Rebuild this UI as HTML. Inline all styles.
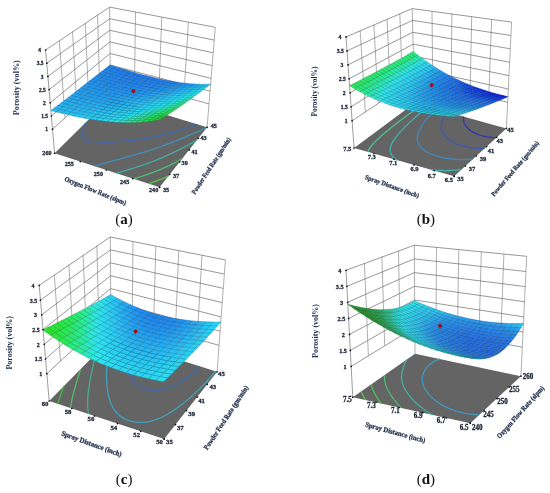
<!DOCTYPE html><html><head><meta charset="utf-8"><style>html,body{margin:0;padding:0;background:#fff}svg{display:block}</style></head><body>
<svg width="550" height="493" viewBox="0 0 550 493">
<rect width="550" height="493" fill="#fff"/>
<path d="M65.0 117.8L59.3 40.6M76.9 106.9L72.5 31.6M88.5 96.4L85.3 23.0M99.6 86.4L97.6 14.9M134.5 83.4L135.5 12.0M159.0 90.1L161.8 17.0M183.9 97.0L188.4 22.1M110.5 97.9L109.6 7.1M207.1 127.3L215.3 27.3" stroke="#a6a6a6" stroke-width="0.9" fill="none"/>
<path d="M52.5 129.2L110.3 76.7M110.3 76.7L209.0 103.9M51.4 116.0L110.2 65.1M110.2 65.1L210.1 91.2M50.2 102.8L110.1 53.5M110.1 53.5L211.1 78.4M49.1 89.6L110.0 41.9M110.0 41.9L212.2 65.6M47.9 76.4L109.8 30.3M109.8 30.3L213.2 52.8M46.8 63.2L109.7 18.7M109.7 18.7L214.2 40.1M45.6 50.0L109.6 7.1M109.6 7.1L215.3 27.3" stroke="#6c6c6c" stroke-width="0.7" fill="none"/>
<path d="M54.6 153.3L45.6 50.0" stroke="#8c8c8c" stroke-width="0.85"/>
<polygon points="159.6,187.3 54.6,153.3 110.5,97.9 207.1,127.3" fill="#646464"/>
<polyline points="84.5,123.6 84.4,124.4 84.3,125.0 84.1,126.1 83.9,126.7 83.7,127.6 83.6,128.4 83.5,129.0 83.2,130.2 83.1,130.8 83.0,131.6 82.9,132.5 82.8,133.1 82.7,134.1 82.7,135.0 82.8,135.6 82.9,136.3 83.1,137.0 83.5,137.7 84.3,138.6 85.2,139.3 86.5,140.0 87.5,140.3 88.6,140.6 90.1,141.0 92.0,141.3 93.0,141.4 95.0,141.6 96.0,141.7 98.1,141.8 99.1,141.9 100.7,141.9 102.3,142.0 103.4,142.0 104.9,142.0 106.6,142.0 107.7,142.0 108.8,142.0 110.7,141.9 112.2,141.9 113.3,141.9 114.4,141.8 116.0,141.7 117.7,141.6 119.0,141.6 120.1,141.5 121.3,141.4 122.5,141.3 124.1,141.2 125.7,141.0 127.2,140.9 128.3,140.8 129.5,140.7 130.7,140.5 131.9,140.4 133.1,140.2 134.4,140.1 135.8,139.9 137.2,139.7 138.5,139.5 139.8,139.3 141.2,139.1 142.5,138.9 143.7,138.7 145.0,138.5 146.3,138.3 147.5,138.1 148.7,137.9 149.9,137.6 151.1,137.4 152.3,137.2 153.5,136.9 154.7,136.7 155.8,136.4 157.0,136.2 158.3,135.9 159.6,135.6 160.9,135.3 162.3,135.0 163.6,134.7 164.6,134.4 165.7,134.2 166.7,133.9 167.8,133.6 169.0,133.3 170.3,133.0 171.7,132.6 172.9,132.3 173.9,132.0 174.9,131.7 175.8,131.4 177.2,131.0 178.6,130.6 179.7,130.3 180.6,130.0 181.6,129.7 182.7,129.3 184.1,128.9 185.3,128.5 186.2,128.2 187.1,128.0 188.4,127.5 189.8,127.1 190.7,126.8 191.6,126.5 192.7,126.1 194.1,125.6 195.1,125.3 195.9,125.0 197.0,124.6 197.6,124.4" fill="none" stroke="#3a6ab8" stroke-width="1.3"/>
<polyline points="94.4,166.2 95.5,165.8 97.0,165.4 98.6,164.9 99.9,164.5 101.0,164.2 102.1,163.9 103.2,163.6 104.7,163.1 106.2,162.7 107.6,162.3 108.7,162.0 109.8,161.7 110.9,161.4 112.2,161.0 113.7,160.6 115.1,160.2 116.5,159.9 117.6,159.6 118.7,159.3 119.8,159.0 121.0,158.6 122.5,158.2 123.9,157.8 125.3,157.5 126.4,157.2 127.5,156.9 128.6,156.6 129.8,156.2 131.2,155.8 132.7,155.4 134.0,155.0 135.1,154.7 136.1,154.4 137.2,154.1 138.5,153.7 140.0,153.3 141.3,152.9 142.4,152.6 143.4,152.3 144.4,152.0 145.9,151.5 147.4,151.0 148.4,150.7 149.4,150.4 150.4,150.1 151.9,149.6 153.3,149.1 154.3,148.8 155.2,148.5 156.4,148.1 157.9,147.6 159.0,147.2 159.9,146.9 161.0,146.5 162.5,145.9 163.6,145.5 164.5,145.2 165.6,144.8 167.2,144.2 168.1,143.9 169.0,143.6 170.3,143.1 171.6,142.5 172.4,142.2 173.4,141.8 175.0,141.2 175.8,140.9 176.7,140.5 178.2,139.9 179.2,139.5 180.0,139.2 181.4,138.6 182.5,138.2 183.3,137.8 184.6,137.3 185.7,136.8 186.5,136.4 187.8,135.9 188.9,135.4 189.6,135.1 191.0,134.5 192.0,134.0 192.8,133.7 194.3,133.0 195.1,132.7 195.9,132.3 197.3,131.7 198.1,131.3 199.1,130.8 200.3,130.3 201.1,129.9 202.4,129.3 203.3,128.9 204.1,128.6 205.5,127.9 206.3,127.5 207.0,127.2" fill="none" stroke="#4090c0" stroke-width="1.3"/>
<polyline points="116.2,173.2 117.3,172.9 118.8,172.5 120.3,172.1 121.8,171.6 122.9,171.3 124.0,171.0 125.1,170.7 126.4,170.3 127.9,169.8 129.4,169.4 130.5,169.0 131.6,168.7 132.6,168.4 134.0,168.0 135.5,167.5 136.8,167.0 137.8,166.7 138.9,166.4 140.1,166.0 141.7,165.4 142.9,165.0 143.9,164.7 144.8,164.3 146.4,163.8 147.7,163.3 148.7,162.9 149.6,162.6 151.2,162.0 152.4,161.5 153.4,161.2 154.4,160.8 156.0,160.1 157.0,159.8 157.9,159.4 159.3,158.8 160.5,158.3 161.4,157.9 162.7,157.4 163.9,156.8 164.8,156.5 166.1,155.9 167.3,155.4 168.1,155.0 169.5,154.3 170.5,153.9 171.3,153.5 172.9,152.8 173.7,152.4 174.8,151.8 176.0,151.3 176.8,150.9 178.3,150.1 179.0,149.7 180.2,149.1 181.3,148.6 182.0,148.2 183.5,147.5 184.2,147.1 185.6,146.3 186.4,145.9 187.5,145.3 188.5,144.8 189.4,144.3 190.6,143.6 191.3,143.3 192.7,142.5 193.4,142.1 194.8,141.4 195.4,141.0 196.8,140.2 196.9,140.2" fill="none" stroke="#40b0a0" stroke-width="1.3"/>
<polyline points="133.5,178.8 134.7,178.5 135.8,178.2 136.9,177.9 138.2,177.4 139.8,176.9 141.1,176.5 142.2,176.2 143.2,175.8 144.4,175.4 146.0,174.9 147.3,174.4 148.3,174.1 149.3,173.7 150.7,173.2 152.3,172.7 153.2,172.3 154.2,171.9 155.5,171.4 157.0,170.8 157.9,170.5 158.8,170.1 160.5,169.4 161.5,169.0 162.4,168.6 163.9,167.9 164.9,167.5 165.8,167.1 167.4,166.4 168.3,165.9 169.1,165.5 170.7,164.8 171.5,164.4 172.8,163.7 173.9,163.2 174.6,162.8 176.2,162.0 176.9,161.6 178.4,160.8 179.1,160.4 180.3,159.7 181.3,159.2 182.3,158.6 182.3,158.6" fill="none" stroke="#50c070" stroke-width="1.3"/>
<polyline points="148.4,183.7 149.5,183.3 150.6,183.0 152.1,182.4 153.7,181.9 154.7,181.6 155.7,181.2 156.8,180.8 158.4,180.2 159.6,179.7 160.6,179.4 161.7,179.0 163.3,178.3 164.4,177.9 165.3,177.5 166.7,176.9 167.9,176.3 168.4,176.2" fill="none" stroke="#50d040" stroke-width="1.3"/>
<polygon points="112.5,68.8 107.4,67.2 110.2,65.0 115.3,66.7" fill="#1e83ee" stroke="#14559b" stroke-width="0.4"/>
<polygon points="117.7,70.4 112.5,68.8 115.3,66.7 120.5,68.3" fill="#1e80ee" stroke="#14539b" stroke-width="0.4"/>
<polygon points="122.9,72.0 117.7,70.4 120.5,68.3 125.6,69.8" fill="#1e7eee" stroke="#14529b" stroke-width="0.4"/>
<polygon points="109.7,71.0 104.5,69.4 107.4,67.2 112.5,68.8" fill="#1e85ef" stroke="#14569b" stroke-width="0.4"/>
<polygon points="128.0,73.5 122.9,72.0 125.6,69.8 130.8,71.4" fill="#1e7ded" stroke="#14519a" stroke-width="0.4"/>
<polygon points="114.9,72.6 109.7,71.0 112.5,68.8 117.7,70.4" fill="#1e83ee" stroke="#14559b" stroke-width="0.4"/>
<polygon points="133.3,75.0 128.0,73.5 130.8,71.4 136.0,72.9" fill="#1e7bed" stroke="#14509a" stroke-width="0.4"/>
<polygon points="120.1,74.2 114.9,72.6 117.7,70.4 122.9,72.0" fill="#1e81ee" stroke="#14549b" stroke-width="0.4"/>
<polygon points="106.8,73.2 101.6,71.6 104.5,69.4 109.7,71.0" fill="#1e87ef" stroke="#14589b" stroke-width="0.4"/>
<polygon points="138.5,76.5 133.3,75.0 136.0,72.9 141.2,74.4" fill="#1e7aed" stroke="#144f9a" stroke-width="0.4"/>
<polygon points="125.3,75.7 120.1,74.2 122.9,72.0 128.0,73.5" fill="#1e7fee" stroke="#14539b" stroke-width="0.4"/>
<polygon points="112.0,74.8 106.8,73.2 109.7,71.0 114.9,72.6" fill="#1e85ef" stroke="#14579b" stroke-width="0.4"/>
<polygon points="143.7,77.9 138.5,76.5 141.2,74.4 146.4,75.8" fill="#1e7aed" stroke="#144f9a" stroke-width="0.4"/>
<polygon points="130.5,77.2 125.3,75.7 128.0,73.5 133.3,75.0" fill="#1e7eee" stroke="#14529a" stroke-width="0.4"/>
<polygon points="117.2,76.4 112.0,74.8 114.9,72.6 120.1,74.2" fill="#1e83ef" stroke="#14559b" stroke-width="0.4"/>
<polygon points="103.9,75.5 98.6,73.9 101.6,71.6 106.8,73.2" fill="#1e89f0" stroke="#14599c" stroke-width="0.4"/>
<polygon points="135.7,78.6 130.5,77.2 133.3,75.0 138.5,76.5" fill="#1e7dee" stroke="#14519a" stroke-width="0.4"/>
<polygon points="148.9,79.2 143.7,77.9 146.4,75.8 151.6,77.1" fill="#1e7aed" stroke="#144f9a" stroke-width="0.4"/>
<polygon points="122.5,77.9 117.2,76.4 120.1,74.2 125.3,75.7" fill="#1e82ee" stroke="#14549b" stroke-width="0.4"/>
<polygon points="109.1,77.0 103.9,75.5 106.8,73.2 112.0,74.8" fill="#1e88ef" stroke="#14589c" stroke-width="0.4"/>
<polygon points="141.0,80.0 135.7,78.6 138.5,76.5 143.7,77.9" fill="#1e7ded" stroke="#14519a" stroke-width="0.4"/>
<polygon points="127.7,79.4 122.5,77.9 125.3,75.7 130.5,77.2" fill="#1e81ee" stroke="#14549b" stroke-width="0.4"/>
<polygon points="154.2,80.4 148.9,79.2 151.6,77.1 156.8,78.4" fill="#1e7aed" stroke="#144f9a" stroke-width="0.4"/>
<polygon points="114.4,78.6 109.1,77.0 112.0,74.8 117.2,76.4" fill="#1e86ef" stroke="#14579b" stroke-width="0.4"/>
<polygon points="100.9,77.7 95.7,76.1 98.6,73.9 103.9,75.5" fill="#1e8bf0" stroke="#145b9c" stroke-width="0.4"/>
<polygon points="133.0,80.8 127.7,79.4 130.5,77.2 135.7,78.6" fill="#1e80ee" stroke="#14539b" stroke-width="0.4"/>
<polygon points="146.3,81.3 141.0,80.0 143.7,77.9 148.9,79.2" fill="#1e7ded" stroke="#14519a" stroke-width="0.4"/>
<polygon points="119.6,80.1 114.4,78.6 117.2,76.4 122.5,77.9" fill="#1e85ef" stroke="#14569b" stroke-width="0.4"/>
<polygon points="106.2,79.3 100.9,77.7 103.9,75.5 109.1,77.0" fill="#1e8af0" stroke="#145a9c" stroke-width="0.4"/>
<polygon points="159.5,81.6 154.2,80.4 156.8,78.4 162.1,79.5" fill="#1e7ced" stroke="#14509a" stroke-width="0.4"/>
<polygon points="124.9,81.6 119.6,80.1 122.5,77.9 127.7,79.4" fill="#1e84ef" stroke="#14569b" stroke-width="0.4"/>
<polygon points="138.2,82.2 133.0,80.8 135.7,78.6 141.0,80.0" fill="#1e80ee" stroke="#14539b" stroke-width="0.4"/>
<polygon points="111.5,80.9 106.2,79.3 109.1,77.0 114.4,78.6" fill="#1e88ef" stroke="#14599c" stroke-width="0.4"/>
<polygon points="151.5,82.5 146.3,81.3 148.9,79.2 154.2,80.4" fill="#1e7eee" stroke="#14529a" stroke-width="0.4"/>
<polygon points="98.0,80.1 92.7,78.5 95.7,76.1 100.9,77.7" fill="#1e8ef0" stroke="#145c9c" stroke-width="0.4"/>
<polygon points="164.8,82.6 159.5,81.6 162.1,79.5 167.4,80.6" fill="#1e7eee" stroke="#14529a" stroke-width="0.4"/>
<polygon points="130.2,83.0 124.9,81.6 127.7,79.4 133.0,80.8" fill="#1e83ef" stroke="#14559b" stroke-width="0.4"/>
<polygon points="116.7,82.4 111.5,80.9 114.4,78.6 119.6,80.1" fill="#1e87ef" stroke="#14589b" stroke-width="0.4"/>
<polygon points="143.5,83.5 138.2,82.2 141.0,80.0 146.3,81.3" fill="#1e80ee" stroke="#14539b" stroke-width="0.4"/>
<polygon points="103.2,81.6 98.0,80.1 100.9,77.7 106.2,79.3" fill="#1e8cf0" stroke="#145b9c" stroke-width="0.4"/>
<polygon points="156.8,83.7 151.5,82.5 154.2,80.4 159.5,81.6" fill="#1e80ee" stroke="#14539b" stroke-width="0.4"/>
<polygon points="170.1,83.6 164.8,82.6 167.4,80.6 172.7,81.5" fill="#1e81ee" stroke="#14549b" stroke-width="0.4"/>
<polygon points="122.0,83.8 116.7,82.4 119.6,80.1 124.9,81.6" fill="#1e86ef" stroke="#14579b" stroke-width="0.4"/>
<polygon points="135.5,84.4 130.2,83.0 133.0,80.8 138.2,82.2" fill="#1e83ef" stroke="#14559b" stroke-width="0.4"/>
<polygon points="108.5,83.2 103.2,81.6 106.2,79.3 111.5,80.9" fill="#1e8bf0" stroke="#145a9c" stroke-width="0.4"/>
<polygon points="95.0,82.4 89.7,80.8 92.7,78.5 98.0,80.1" fill="#1f91f0" stroke="#145e9c" stroke-width="0.4"/>
<polygon points="148.9,84.7 143.5,83.5 146.3,81.3 151.5,82.5" fill="#1e81ee" stroke="#14549b" stroke-width="0.4"/>
<polygon points="162.2,84.7 156.8,83.7 159.5,81.6 164.8,82.6" fill="#1e82ee" stroke="#14559b" stroke-width="0.4"/>
<polygon points="175.5,84.4 170.1,83.6 172.7,81.5 178.0,82.4" fill="#1e85ef" stroke="#14579b" stroke-width="0.4"/>
<polygon points="113.8,84.7 108.5,83.2 111.5,80.9 116.7,82.4" fill="#1e8af0" stroke="#14599c" stroke-width="0.4"/>
<polygon points="127.4,85.2 122.0,83.8 124.9,81.6 130.2,83.0" fill="#1e86ef" stroke="#14579b" stroke-width="0.4"/>
<polygon points="100.3,84.0 95.0,82.4 98.0,80.1 103.2,81.6" fill="#1e8ff0" stroke="#145d9c" stroke-width="0.4"/>
<polygon points="140.8,85.6 135.5,84.4 138.2,82.2 143.5,83.5" fill="#1e84ef" stroke="#14569b" stroke-width="0.4"/>
<polygon points="154.2,85.8 148.9,84.7 151.5,82.5 156.8,83.7" fill="#1e83ef" stroke="#14559b" stroke-width="0.4"/>
<polygon points="167.5,85.6 162.2,84.7 164.8,82.6 170.1,83.6" fill="#1e85ef" stroke="#14579b" stroke-width="0.4"/>
<polygon points="180.8,85.0 175.5,84.4 178.0,82.4 183.4,83.1" fill="#1e8af0" stroke="#145a9c" stroke-width="0.4"/>
<polygon points="119.2,86.1 113.8,84.7 116.7,82.4 122.0,83.8" fill="#1e89ef" stroke="#14599c" stroke-width="0.4"/>
<polygon points="105.6,85.5 100.3,84.0 103.2,81.6 108.5,83.2" fill="#1e8df0" stroke="#145c9c" stroke-width="0.4"/>
<polygon points="91.9,84.8 86.6,83.2 89.7,80.8 95.0,82.4" fill="#1f94f1" stroke="#14609c" stroke-width="0.4"/>
<polygon points="132.7,86.6 127.4,85.2 130.2,83.0 135.5,84.4" fill="#1e86ef" stroke="#14579b" stroke-width="0.4"/>
<polygon points="146.1,86.8 140.8,85.6 143.5,83.5 148.9,84.7" fill="#1e85ef" stroke="#14569b" stroke-width="0.4"/>
<polygon points="159.5,86.8 154.2,85.8 156.8,83.7 162.2,84.7" fill="#1e86ef" stroke="#14579b" stroke-width="0.4"/>
<polygon points="172.9,86.4 167.5,85.6 170.1,83.6 175.5,84.4" fill="#1e8af0" stroke="#14599c" stroke-width="0.4"/>
<polygon points="186.3,85.6 180.8,85.0 183.4,83.1 188.8,83.6" fill="#1f93f0" stroke="#145f9c" stroke-width="0.4"/>
<polygon points="110.9,87.0 105.6,85.5 108.5,83.2 113.8,84.7" fill="#1e8cf0" stroke="#145b9c" stroke-width="0.4"/>
<polygon points="97.3,86.3 91.9,84.8 95.0,82.4 100.3,84.0" fill="#1f92f0" stroke="#145f9c" stroke-width="0.4"/>
<polygon points="124.5,87.5 119.2,86.1 122.0,83.8 127.4,85.2" fill="#1e89ef" stroke="#14599c" stroke-width="0.4"/>
<polygon points="138.0,87.8 132.7,86.6 135.5,84.4 140.8,85.6" fill="#1e87ef" stroke="#14589b" stroke-width="0.4"/>
<polygon points="151.5,87.9 146.1,86.8 148.9,84.7 154.2,85.8" fill="#1e87ef" stroke="#14589b" stroke-width="0.4"/>
<polygon points="164.9,87.7 159.5,86.8 162.2,84.7 167.5,85.6" fill="#1e8af0" stroke="#14599c" stroke-width="0.4"/>
<polygon points="178.3,87.0 172.9,86.4 175.5,84.4 180.8,85.0" fill="#1f91f0" stroke="#145e9c" stroke-width="0.4"/>
<polygon points="102.6,87.8 97.3,86.3 100.3,84.0 105.6,85.5" fill="#1f91f0" stroke="#145e9c" stroke-width="0.4"/>
<polygon points="116.3,88.4 110.9,87.0 113.8,84.7 119.2,86.1" fill="#1e8cf0" stroke="#145b9c" stroke-width="0.4"/>
<polygon points="88.9,87.2 83.5,85.6 86.6,83.2 91.9,84.8" fill="#2097f1" stroke="#15629c" stroke-width="0.4"/>
<polygon points="129.9,88.8 124.5,87.5 127.4,85.2 132.7,86.6" fill="#1e89f0" stroke="#14599c" stroke-width="0.4"/>
<polygon points="143.4,89.0 138.0,87.8 140.8,85.6 146.1,86.8" fill="#1e88ef" stroke="#14599c" stroke-width="0.4"/>
<polygon points="191.7,85.9 186.3,85.6 188.8,83.6 194.2,84.0" fill="#219ef1" stroke="#15679d" stroke-width="0.4"/>
<polygon points="156.9,88.9 151.5,87.9 154.2,85.8 159.5,86.8" fill="#1e8af0" stroke="#145a9c" stroke-width="0.4"/>
<polygon points="170.3,88.4 164.9,87.7 167.5,85.6 172.9,86.4" fill="#1f8ff0" stroke="#145d9c" stroke-width="0.4"/>
<polygon points="183.7,87.5 178.3,87.0 180.8,85.0 186.3,85.6" fill="#209af1" stroke="#15649d" stroke-width="0.4"/>
<polygon points="94.2,88.7 88.9,87.2 91.9,84.8 97.3,86.3" fill="#2095f1" stroke="#14619c" stroke-width="0.4"/>
<polygon points="108.0,89.3 102.6,87.8 105.6,85.5 110.9,87.0" fill="#1f90f0" stroke="#145d9c" stroke-width="0.4"/>
<polygon points="121.6,89.8 116.3,88.4 119.2,86.1 124.5,87.5" fill="#1e8cf0" stroke="#145b9c" stroke-width="0.4"/>
<polygon points="135.2,90.1 129.9,88.8 132.7,86.6 138.0,87.8" fill="#1e8af0" stroke="#145a9c" stroke-width="0.4"/>
<polygon points="148.8,90.1 143.4,89.0 146.1,86.8 151.5,87.9" fill="#1e8bf0" stroke="#145a9c" stroke-width="0.4"/>
<polygon points="197.2,86.1 191.7,85.9 194.2,84.0 199.6,84.2" fill="#23abf2" stroke="#176f9d" stroke-width="0.4"/>
<polygon points="162.3,89.8 156.9,88.9 159.5,86.8 164.9,87.7" fill="#1e8ff0" stroke="#145d9c" stroke-width="0.4"/>
<polygon points="175.7,89.0 170.3,88.4 172.9,86.4 178.3,87.0" fill="#2098f1" stroke="#15629c" stroke-width="0.4"/>
<polygon points="99.6,90.2 94.2,88.7 97.3,86.3 102.6,87.8" fill="#1f94f1" stroke="#14609c" stroke-width="0.4"/>
<polygon points="85.8,89.6 80.4,88.0 83.5,85.6 88.9,87.2" fill="#209af1" stroke="#15649d" stroke-width="0.4"/>
<polygon points="113.3,90.7 108.0,89.3 110.9,87.0 116.3,88.4" fill="#1f8ff0" stroke="#145d9c" stroke-width="0.4"/>
<polygon points="127.0,91.1 121.6,89.8 124.5,87.5 129.9,88.8" fill="#1e8cf0" stroke="#145b9c" stroke-width="0.4"/>
<polygon points="140.6,91.2 135.2,90.1 138.0,87.8 143.4,89.0" fill="#1e8cf0" stroke="#145b9c" stroke-width="0.4"/>
<polygon points="189.2,87.8 183.7,87.5 186.3,85.6 191.7,85.9" fill="#22a6f2" stroke="#166c9d" stroke-width="0.4"/>
<polygon points="154.1,91.0 148.8,90.1 151.5,87.9 156.9,88.9" fill="#1e8ff0" stroke="#145d9c" stroke-width="0.4"/>
<polygon points="167.7,90.5 162.3,89.8 164.9,87.7 170.3,88.4" fill="#2096f1" stroke="#15619c" stroke-width="0.4"/>
<polygon points="202.7,86.1 197.2,86.1 199.6,84.2 205.1,84.3" fill="#26baf3" stroke="#18799e" stroke-width="0.4"/>
<polygon points="91.2,91.1 85.8,89.6 88.9,87.2 94.2,88.7" fill="#2098f1" stroke="#15639d" stroke-width="0.4"/>
<polygon points="105.0,91.7 99.6,90.2 102.6,87.8 108.0,89.3" fill="#1f93f0" stroke="#14609c" stroke-width="0.4"/>
<polygon points="118.7,92.1 113.3,90.7 116.3,88.4 121.6,89.8" fill="#1f90f0" stroke="#145d9c" stroke-width="0.4"/>
<polygon points="181.2,89.5 175.7,89.0 178.3,87.0 183.7,87.5" fill="#22a2f1" stroke="#16699d" stroke-width="0.4"/>
<polygon points="132.4,92.3 127.0,91.1 129.9,88.8 135.2,90.1" fill="#1e8ef0" stroke="#145c9c" stroke-width="0.4"/>
<polygon points="146.0,92.3 140.6,91.2 143.4,89.0 148.8,90.1" fill="#1f90f0" stroke="#145d9c" stroke-width="0.4"/>
<polygon points="159.6,91.9 154.1,91.0 156.9,88.9 162.3,89.8" fill="#1f95f1" stroke="#14619c" stroke-width="0.4"/>
<polygon points="194.7,88.0 189.2,87.8 191.7,85.9 197.2,86.1" fill="#25b3f3" stroke="#18749e" stroke-width="0.4"/>
<polygon points="173.1,91.1 167.7,90.5 170.3,88.4 175.7,89.0" fill="#219ef1" stroke="#16679d" stroke-width="0.4"/>
<polygon points="82.7,92.0 77.3,90.5 80.4,88.0 85.8,89.6" fill="#219cf1" stroke="#15669d" stroke-width="0.4"/>
<polygon points="96.6,92.6 91.2,91.1 94.2,88.7 99.6,90.2" fill="#2097f1" stroke="#15629c" stroke-width="0.4"/>
<polygon points="110.4,93.1 105.0,91.7 108.0,89.3 113.3,90.7" fill="#1f93f0" stroke="#14609c" stroke-width="0.4"/>
<polygon points="124.1,93.4 118.7,92.1 121.6,89.8 127.0,91.1" fill="#1f91f0" stroke="#145e9c" stroke-width="0.4"/>
<polygon points="137.8,93.4 132.4,92.3 135.2,90.1 140.6,91.2" fill="#1f91f0" stroke="#145e9c" stroke-width="0.4"/>
<polygon points="208.2,85.9 202.7,86.1 205.1,84.3 210.6,84.1" fill="#28caf4" stroke="#1a839e" stroke-width="0.4"/>
<polygon points="186.7,89.8 181.2,89.5 183.7,87.5 189.2,87.8" fill="#24adf2" stroke="#17719d" stroke-width="0.4"/>
<polygon points="151.4,93.2 146.0,92.3 148.8,90.1 154.1,91.0" fill="#1f95f1" stroke="#14619c" stroke-width="0.4"/>
<polygon points="165.0,92.6 159.6,91.9 162.3,89.8 167.7,90.5" fill="#219cf1" stroke="#15669d" stroke-width="0.4"/>
<polygon points="200.2,88.0 194.7,88.0 197.2,86.1 202.7,86.1" fill="#27c3f4" stroke="#197e9e" stroke-width="0.4"/>
<polygon points="88.1,93.5 82.7,92.0 85.8,89.6 91.2,91.1" fill="#219bf1" stroke="#15659d" stroke-width="0.4"/>
<polygon points="102.0,94.0 96.6,92.6 99.6,90.2 105.0,91.7" fill="#2097f1" stroke="#15629c" stroke-width="0.4"/>
<polygon points="115.8,94.4 110.4,93.1 113.3,90.7 118.7,92.1" fill="#1f94f1" stroke="#14609c" stroke-width="0.4"/>
<polygon points="178.6,91.5 173.1,91.1 175.7,89.0 181.2,89.5" fill="#23a9f2" stroke="#176e9d" stroke-width="0.4"/>
<polygon points="129.5,94.6 124.1,93.4 127.0,91.1 132.4,92.3" fill="#1f93f0" stroke="#14609c" stroke-width="0.4"/>
<polygon points="143.2,94.5 137.8,93.4 140.6,91.2 146.0,92.3" fill="#2095f1" stroke="#14619c" stroke-width="0.4"/>
<polygon points="156.9,94.0 151.4,93.2 154.1,91.0 159.6,91.9" fill="#219bf1" stroke="#15659d" stroke-width="0.4"/>
<polygon points="192.2,89.9 186.7,89.8 189.2,87.8 194.7,88.0" fill="#26bbf3" stroke="#197a9e" stroke-width="0.4"/>
<polygon points="170.5,93.1 165.0,92.6 167.7,90.5 173.1,91.1" fill="#22a5f2" stroke="#166c9d" stroke-width="0.4"/>
<polygon points="79.5,94.5 74.1,92.9 77.3,90.5 82.7,92.0" fill="#219ff1" stroke="#16689d" stroke-width="0.4"/>
<polygon points="93.5,95.0 88.1,93.5 91.2,91.1 96.6,92.6" fill="#209bf1" stroke="#15659d" stroke-width="0.4"/>
<polygon points="107.4,95.4 102.0,94.0 105.0,91.7 110.4,93.1" fill="#2097f1" stroke="#15629c" stroke-width="0.4"/>
<polygon points="121.2,95.7 115.8,94.4 118.7,92.1 124.1,93.4" fill="#2096f1" stroke="#15619c" stroke-width="0.4"/>
<polygon points="134.9,95.7 129.5,94.6 132.4,92.3 137.8,93.4" fill="#2096f1" stroke="#15629c" stroke-width="0.4"/>
<polygon points="205.8,87.8 200.2,88.0 202.7,86.1 208.2,85.9" fill="#29d0f3" stroke="#1b879e" stroke-width="0.4"/>
<polygon points="184.1,91.8 178.6,91.5 181.2,89.5 186.7,89.8" fill="#25b5f3" stroke="#18769e" stroke-width="0.4"/>
<polygon points="148.6,95.4 143.2,94.5 146.0,92.3 151.4,93.2" fill="#209bf1" stroke="#15649d" stroke-width="0.4"/>
<polygon points="162.3,94.7 156.9,94.0 159.6,91.9 165.0,92.6" fill="#22a3f2" stroke="#166a9d" stroke-width="0.4"/>
<polygon points="84.9,96.0 79.5,94.5 82.7,92.0 88.1,93.5" fill="#219ff1" stroke="#16679d" stroke-width="0.4"/>
<polygon points="98.9,96.4 93.5,95.0 96.6,92.6 102.0,94.0" fill="#209bf1" stroke="#15659d" stroke-width="0.4"/>
<polygon points="197.7,89.9 192.2,89.9 194.7,88.0 200.2,88.0" fill="#28caf4" stroke="#1a839e" stroke-width="0.4"/>
<polygon points="112.8,96.7 107.4,95.4 110.4,93.1 115.8,94.4" fill="#2098f1" stroke="#15639d" stroke-width="0.4"/>
<polygon points="126.6,96.8 121.2,95.7 124.1,93.4 129.5,94.6" fill="#2098f1" stroke="#15639d" stroke-width="0.4"/>
<polygon points="176.0,93.5 170.5,93.1 173.1,91.1 178.6,91.5" fill="#24b0f2" stroke="#17739e" stroke-width="0.4"/>
<polygon points="140.4,96.7 134.9,95.7 137.8,93.4 143.2,94.5" fill="#209bf1" stroke="#15659d" stroke-width="0.4"/>
<polygon points="154.1,96.2 148.6,95.4 151.4,93.2 156.9,94.0" fill="#22a1f1" stroke="#16699d" stroke-width="0.4"/>
<polygon points="189.6,91.9 184.1,91.8 186.7,89.8 192.2,89.9" fill="#27c3f4" stroke="#197f9e" stroke-width="0.4"/>
<polygon points="76.3,96.9 70.9,95.4 74.1,92.9 79.5,94.5" fill="#22a3f2" stroke="#166a9d" stroke-width="0.4"/>
<polygon points="90.4,97.4 84.9,96.0 88.1,93.5 93.5,95.0" fill="#219ef1" stroke="#16679d" stroke-width="0.4"/>
<polygon points="167.8,95.2 162.3,94.7 165.0,92.6 170.5,93.1" fill="#23acf2" stroke="#17709d" stroke-width="0.4"/>
<polygon points="104.3,97.8 98.9,96.4 102.0,94.0 107.4,95.4" fill="#219bf1" stroke="#15659d" stroke-width="0.4"/>
<polygon points="118.2,98.0 112.8,96.7 115.8,94.4 121.2,95.7" fill="#209af1" stroke="#15649d" stroke-width="0.4"/>
<polygon points="132.1,97.9 126.6,96.8 129.5,94.6 134.9,95.7" fill="#219cf1" stroke="#15659d" stroke-width="0.4"/>
<polygon points="203.3,89.6 197.7,89.9 200.2,88.0 205.8,87.8" fill="#2ad6f2" stroke="#1c8b9d" stroke-width="0.4"/>
<polygon points="181.5,93.8 176.0,93.5 178.6,91.5 184.1,91.8" fill="#26bdf3" stroke="#197b9e" stroke-width="0.4"/>
<polygon points="145.9,97.6 140.4,96.7 143.2,94.5 148.6,95.4" fill="#21a1f1" stroke="#16689d" stroke-width="0.4"/>
<polygon points="159.6,96.8 154.1,96.2 156.9,94.0 162.3,94.7" fill="#23aaf2" stroke="#176e9d" stroke-width="0.4"/>
<polygon points="81.8,98.4 76.3,96.9 79.5,94.5 84.9,96.0" fill="#22a2f1" stroke="#16699d" stroke-width="0.4"/>
<polygon points="95.8,98.8 90.4,97.4 93.5,95.0 98.9,96.4" fill="#219ff1" stroke="#16679d" stroke-width="0.4"/>
<polygon points="109.8,99.1 104.3,97.8 107.4,95.4 112.8,96.7" fill="#219df1" stroke="#15669d" stroke-width="0.4"/>
<polygon points="195.2,91.8 189.6,91.9 192.2,89.9 197.7,89.9" fill="#29d0f3" stroke="#1b879e" stroke-width="0.4"/>
<polygon points="123.7,99.1 118.2,98.0 121.2,95.7 126.6,96.8" fill="#219df1" stroke="#15669d" stroke-width="0.4"/>
<polygon points="173.3,95.6 167.8,95.2 170.5,93.1 176.0,93.5" fill="#25b8f3" stroke="#18779e" stroke-width="0.4"/>
<polygon points="137.5,98.9 132.1,97.9 134.9,95.7 140.4,96.7" fill="#21a1f1" stroke="#16689d" stroke-width="0.4"/>
<polygon points="151.3,98.3 145.9,97.6 148.6,95.4 154.1,96.2" fill="#23a8f2" stroke="#176d9d" stroke-width="0.4"/>
<polygon points="187.1,93.8 181.5,93.8 184.1,91.8 189.6,91.9" fill="#28caf4" stroke="#1a849e" stroke-width="0.4"/>
<polygon points="73.1,99.4 67.7,97.9 70.9,95.4 76.3,96.9" fill="#22a6f2" stroke="#166c9d" stroke-width="0.4"/>
<polygon points="87.2,99.9 81.8,98.4 84.9,96.0 90.4,97.4" fill="#22a2f1" stroke="#16699d" stroke-width="0.4"/>
<polygon points="101.3,100.2 95.8,98.8 98.9,96.4 104.3,97.8" fill="#21a0f1" stroke="#16689d" stroke-width="0.4"/>
<polygon points="165.1,97.3 159.6,96.8 162.3,94.7 167.8,95.2" fill="#25b4f3" stroke="#18759e" stroke-width="0.4"/>
<polygon points="115.2,100.3 109.8,99.1 112.8,96.7 118.2,98.0" fill="#219ff1" stroke="#16679d" stroke-width="0.4"/>
<polygon points="129.2,100.2 123.7,99.1 126.6,96.8 132.1,97.9" fill="#22a1f1" stroke="#16699d" stroke-width="0.4"/>
<polygon points="143.0,99.8 137.5,98.9 140.4,96.7 145.9,97.6" fill="#22a7f2" stroke="#166c9d" stroke-width="0.4"/>
<polygon points="200.9,91.5 195.2,91.8 197.7,89.9 203.3,89.6" fill="#2bdcf1" stroke="#1c8f9d" stroke-width="0.4"/>
<polygon points="178.9,95.8 173.3,95.6 176.0,93.5 181.5,93.8" fill="#27c5f4" stroke="#1a809e" stroke-width="0.4"/>
<polygon points="156.9,98.9 151.3,98.3 154.1,96.2 159.6,96.8" fill="#24b0f2" stroke="#17739e" stroke-width="0.4"/>
<polygon points="78.6,100.9 73.1,99.4 76.3,96.9 81.8,98.4" fill="#22a6f2" stroke="#166c9d" stroke-width="0.4"/>
<polygon points="92.7,101.2 87.2,99.9 90.4,97.4 95.8,98.8" fill="#22a3f2" stroke="#166a9d" stroke-width="0.4"/>
<polygon points="106.7,101.5 101.3,100.2 104.3,97.8 109.8,99.1" fill="#22a1f1" stroke="#16699d" stroke-width="0.4"/>
<polygon points="120.7,101.4 115.2,100.3 118.2,98.0 123.7,99.1" fill="#22a2f1" stroke="#166a9d" stroke-width="0.4"/>
<polygon points="192.7,93.7 187.1,93.8 189.6,91.9 195.2,91.8" fill="#2ad5f2" stroke="#1b8b9d" stroke-width="0.4"/>
<polygon points="170.7,97.6 165.1,97.3 167.8,95.2 173.3,95.6" fill="#27bff3" stroke="#197c9e" stroke-width="0.4"/>
<polygon points="134.7,101.1 129.2,100.2 132.1,97.9 137.5,98.9" fill="#22a6f2" stroke="#166c9d" stroke-width="0.4"/>
<polygon points="148.5,100.5 143.0,99.8 145.9,97.6 151.3,98.3" fill="#24aef2" stroke="#17719d" stroke-width="0.4"/>
<polygon points="69.8,101.9 64.4,100.5 67.7,97.9 73.1,99.4" fill="#23a9f2" stroke="#176e9d" stroke-width="0.4"/>
<polygon points="184.5,95.8 178.9,95.8 181.5,93.8 187.1,93.8" fill="#29d0f3" stroke="#1b879e" stroke-width="0.4"/>
<polygon points="84.0,102.3 78.6,100.9 81.8,98.4 87.2,99.9" fill="#22a6f2" stroke="#166c9d" stroke-width="0.4"/>
<polygon points="98.2,102.6 92.7,101.2 95.8,98.8 101.3,100.2" fill="#22a4f2" stroke="#166b9d" stroke-width="0.4"/>
<polygon points="162.4,99.4 156.9,98.9 159.6,96.8 165.1,97.3" fill="#26bbf3" stroke="#19799e" stroke-width="0.4"/>
<polygon points="112.2,102.7 106.7,101.5 109.8,99.1 115.2,100.3" fill="#22a4f2" stroke="#166b9d" stroke-width="0.4"/>
<polygon points="126.2,102.5 120.7,101.4 123.7,99.1 129.2,100.2" fill="#22a7f2" stroke="#166c9d" stroke-width="0.4"/>
<polygon points="140.2,102.0 134.7,101.1 137.5,98.9 143.0,99.8" fill="#23adf2" stroke="#17709d" stroke-width="0.4"/>
<polygon points="176.2,97.8 170.7,97.6 173.3,95.6 178.9,95.8" fill="#29cbf4" stroke="#1a849e" stroke-width="0.4"/>
<polygon points="198.3,93.3 192.7,93.7 195.2,91.8 200.9,91.5" fill="#2ce2f1" stroke="#1d939c" stroke-width="0.4"/>
<polygon points="75.3,103.4 69.8,101.9 73.1,99.4 78.6,100.9" fill="#23a9f2" stroke="#176e9d" stroke-width="0.4"/>
<polygon points="154.1,101.1 148.5,100.5 151.3,98.3 156.9,98.9" fill="#25b7f3" stroke="#18779e" stroke-width="0.4"/>
<polygon points="89.5,103.7 84.0,102.3 87.2,99.9 92.7,101.2" fill="#23a7f2" stroke="#166d9d" stroke-width="0.4"/>
<polygon points="103.7,103.8 98.2,102.6 101.3,100.2 106.7,101.5" fill="#22a6f2" stroke="#166c9d" stroke-width="0.4"/>
<polygon points="117.7,103.8 112.2,102.7 115.2,100.3 120.7,101.4" fill="#23a8f2" stroke="#176d9d" stroke-width="0.4"/>
<polygon points="190.1,95.6 184.5,95.8 187.1,93.8 192.7,93.7" fill="#2bdbf1" stroke="#1c8e9d" stroke-width="0.4"/>
<polygon points="168.0,99.7 162.4,99.4 165.1,97.3 170.7,97.6" fill="#28c7f4" stroke="#1a819f" stroke-width="0.4"/>
<polygon points="131.7,103.4 126.2,102.5 129.2,100.2 134.7,101.1" fill="#23acf2" stroke="#17709d" stroke-width="0.4"/>
<polygon points="145.7,102.7 140.2,102.0 143.0,99.8 148.5,100.5" fill="#25b5f3" stroke="#18769e" stroke-width="0.4"/>
<polygon points="66.6,104.4 61.1,103.0 64.4,100.5 69.8,101.9" fill="#23adf2" stroke="#17709d" stroke-width="0.4"/>
<polygon points="80.8,104.8 75.3,103.4 78.6,100.9 84.0,102.3" fill="#23aaf2" stroke="#176f9d" stroke-width="0.4"/>
<polygon points="181.9,97.8 176.2,97.8 178.9,95.8 184.5,95.8" fill="#2ad5f2" stroke="#1b8b9d" stroke-width="0.4"/>
<polygon points="95.0,105.0 89.5,103.7 92.7,101.2 98.2,102.6" fill="#23a9f2" stroke="#176e9d" stroke-width="0.4"/>
<polygon points="109.2,105.0 103.7,103.8 106.7,101.5 112.2,102.7" fill="#23a9f2" stroke="#176e9d" stroke-width="0.4"/>
<polygon points="159.6,101.5 154.1,101.1 156.9,98.9 162.4,99.4" fill="#27c2f4" stroke="#197e9e" stroke-width="0.4"/>
<polygon points="123.3,104.8 117.7,103.8 120.7,101.4 126.2,102.5" fill="#23acf2" stroke="#17709d" stroke-width="0.4"/>
<polygon points="137.3,104.2 131.7,103.4 134.7,101.1 140.2,102.0" fill="#25b3f3" stroke="#18759e" stroke-width="0.4"/>
<polygon points="173.6,99.8 168.0,99.7 170.7,97.6 176.2,97.8" fill="#29d0f3" stroke="#1b879e" stroke-width="0.4"/>
<polygon points="195.8,95.2 190.1,95.6 192.7,93.7 198.3,93.3" fill="#2de6ea" stroke="#1d9698" stroke-width="0.4"/>
<polygon points="72.1,105.9 66.6,104.4 69.8,101.9 75.3,103.4" fill="#24adf2" stroke="#17719d" stroke-width="0.4"/>
<polygon points="86.3,106.1 80.8,104.8 84.0,102.3 89.5,103.7" fill="#23acf2" stroke="#176f9d" stroke-width="0.4"/>
<polygon points="151.3,103.2 145.7,102.7 148.5,100.5 154.1,101.1" fill="#26bef3" stroke="#197c9e" stroke-width="0.4"/>
<polygon points="100.6,106.2 95.0,105.0 98.2,102.6 103.7,103.8" fill="#23abf2" stroke="#176f9d" stroke-width="0.4"/>
<polygon points="114.7,106.1 109.2,105.0 112.2,102.7 117.7,103.8" fill="#24adf2" stroke="#17719d" stroke-width="0.4"/>
<polygon points="187.5,97.6 181.9,97.8 184.5,95.8 190.1,95.6" fill="#2ce1f1" stroke="#1d929c" stroke-width="0.4"/>
<polygon points="165.2,101.8 159.6,101.5 162.4,99.4 168.0,99.7" fill="#29ccf3" stroke="#1a859e" stroke-width="0.4"/>
<polygon points="128.8,105.7 123.3,104.8 126.2,102.5 131.7,103.4" fill="#24b2f3" stroke="#18749e" stroke-width="0.4"/>
<polygon points="142.8,104.9 137.3,104.2 140.2,102.0 145.7,102.7" fill="#26bcf3" stroke="#197a9e" stroke-width="0.4"/>
<polygon points="63.2,106.9 57.7,105.5 61.1,103.0 66.6,104.4" fill="#24b1f2" stroke="#17739e" stroke-width="0.4"/>
<polygon points="77.6,107.2 72.1,105.9 75.3,103.4 80.8,104.8" fill="#24aef2" stroke="#17719d" stroke-width="0.4"/>
<polygon points="91.9,107.4 86.3,106.1 89.5,103.7 95.0,105.0" fill="#24aef2" stroke="#17719d" stroke-width="0.4"/>
<polygon points="179.2,99.8 173.6,99.8 176.2,97.8 181.9,97.8" fill="#2bdbf1" stroke="#1c8e9d" stroke-width="0.4"/>
<polygon points="106.1,107.4 100.6,106.2 103.7,103.8 109.2,105.0" fill="#24aff2" stroke="#17719d" stroke-width="0.4"/>
<polygon points="156.8,103.6 151.3,103.2 154.1,101.1 159.6,101.5" fill="#28c9f4" stroke="#1a839f" stroke-width="0.4"/>
<polygon points="120.2,107.1 114.7,106.1 117.7,103.8 123.3,104.8" fill="#24b2f3" stroke="#18749e" stroke-width="0.4"/>
<polygon points="134.3,106.4 128.8,105.7 131.7,103.4 137.3,104.2" fill="#26baf3" stroke="#18799e" stroke-width="0.4"/>
<polygon points="170.9,101.9 165.2,101.8 168.0,99.7 173.6,99.8" fill="#2ad6f2" stroke="#1c8b9d" stroke-width="0.4"/>
<polygon points="193.2,97.1 187.5,97.6 190.1,95.6 195.8,95.2" fill="#2ce7d8" stroke="#1c968c" stroke-width="0.4"/>
<polygon points="68.8,108.3 63.2,106.9 66.6,104.4 72.1,105.9" fill="#24b2f3" stroke="#18739e" stroke-width="0.4"/>
<polygon points="83.1,108.6 77.6,107.2 80.8,104.8 86.3,106.1" fill="#24b0f2" stroke="#17739e" stroke-width="0.4"/>
<polygon points="148.4,105.4 142.8,104.9 145.7,102.7 151.3,103.2" fill="#28c6f4" stroke="#1a809e" stroke-width="0.4"/>
<polygon points="97.4,108.6 91.9,107.4 95.0,105.0 100.6,106.2" fill="#24b0f2" stroke="#17739e" stroke-width="0.4"/>
<polygon points="111.6,108.4 106.1,107.4 109.2,105.0 114.7,106.1" fill="#25b3f3" stroke="#18749e" stroke-width="0.4"/>
<polygon points="184.9,99.5 179.2,99.8 181.9,97.8 187.5,97.6" fill="#2de6ed" stroke="#1d969a" stroke-width="0.4"/>
<polygon points="125.8,107.9 120.2,107.1 123.3,104.8 128.8,105.7" fill="#25b9f3" stroke="#18789e" stroke-width="0.4"/>
<polygon points="162.5,103.8 156.8,103.6 159.6,101.5 165.2,101.8" fill="#2ad2f3" stroke="#1b889e" stroke-width="0.4"/>
<polygon points="59.9,109.5 54.3,108.0 57.7,105.5 63.2,106.9" fill="#25b5f3" stroke="#18759e" stroke-width="0.4"/>
<polygon points="139.9,107.1 134.3,106.4 137.3,104.2 142.8,104.9" fill="#27c3f4" stroke="#197e9e" stroke-width="0.4"/>
<polygon points="74.3,109.7 68.8,108.3 72.1,105.9 77.6,107.2" fill="#25b3f3" stroke="#18749e" stroke-width="0.4"/>
<polygon points="88.7,109.8 83.1,108.6 86.3,106.1 91.9,107.4" fill="#24b3f3" stroke="#18749e" stroke-width="0.4"/>
<polygon points="176.5,101.7 170.9,101.9 173.6,99.8 179.2,99.8" fill="#2ce1f1" stroke="#1d929c" stroke-width="0.4"/>
<polygon points="103.0,109.7 97.4,108.6 100.6,106.2 106.1,107.4" fill="#25b4f3" stroke="#18759e" stroke-width="0.4"/>
<polygon points="154.0,105.7 148.4,105.4 151.3,103.2 156.8,103.6" fill="#29cef3" stroke="#1b869e" stroke-width="0.4"/>
<polygon points="117.2,109.4 111.6,108.4 114.7,106.1 120.2,107.1" fill="#25b9f3" stroke="#18789e" stroke-width="0.4"/>
<polygon points="131.4,108.7 125.8,107.9 128.8,105.7 134.3,106.4" fill="#27c1f4" stroke="#197d9e" stroke-width="0.4"/>
<polygon points="65.4,110.8 59.9,109.5 63.2,106.9 68.8,108.3" fill="#25b6f3" stroke="#18769e" stroke-width="0.4"/>
<polygon points="168.1,103.9 162.5,103.8 165.2,101.8 170.9,101.9" fill="#2bdbf1" stroke="#1c8f9d" stroke-width="0.4"/>
<polygon points="190.6,99.0 184.9,99.5 187.5,97.6 193.2,97.1" fill="#2be8c5" stroke="#1c9780" stroke-width="0.4"/>
<polygon points="79.9,111.0 74.3,109.7 77.6,107.2 83.1,108.6" fill="#25b5f3" stroke="#18769e" stroke-width="0.4"/>
<polygon points="94.2,111.0 88.7,109.8 91.9,107.4 97.4,108.6" fill="#25b6f3" stroke="#18769e" stroke-width="0.4"/>
<polygon points="145.5,107.5 139.9,107.1 142.8,104.9 148.4,105.4" fill="#29cbf4" stroke="#1a849e" stroke-width="0.4"/>
<polygon points="108.5,110.7 103.0,109.7 106.1,107.4 111.6,108.4" fill="#26b9f3" stroke="#18789e" stroke-width="0.4"/>
<polygon points="122.8,110.2 117.2,109.4 120.2,107.1 125.8,107.9" fill="#27bff3" stroke="#197c9e" stroke-width="0.4"/>
<polygon points="182.2,101.4 176.5,101.7 179.2,99.8 184.9,99.5" fill="#2ce7db" stroke="#1c968e" stroke-width="0.4"/>
<polygon points="159.7,105.9 154.0,105.7 156.8,103.6 162.5,103.8" fill="#2ad7f2" stroke="#1c8c9d" stroke-width="0.4"/>
<polygon points="56.5,112.0 50.9,110.6 54.3,108.0 59.9,109.5" fill="#25b9f3" stroke="#18789e" stroke-width="0.4"/>
<polygon points="71.0,112.2 65.4,110.8 68.8,108.3 74.3,109.7" fill="#25b8f3" stroke="#18779e" stroke-width="0.4"/>
<polygon points="137.0,109.3 131.4,108.7 134.3,106.4 139.9,107.1" fill="#28c9f4" stroke="#1a839e" stroke-width="0.4"/>
<polygon points="85.4,112.2 79.9,111.0 83.1,108.6 88.7,109.8" fill="#25b8f3" stroke="#18789e" stroke-width="0.4"/>
<polygon points="99.8,112.1 94.2,111.0 97.4,108.6 103.0,109.7" fill="#26baf3" stroke="#18799e" stroke-width="0.4"/>
<polygon points="173.8,103.7 168.1,103.9 170.9,101.9 176.5,101.7" fill="#2de6ee" stroke="#1d969b" stroke-width="0.4"/>
<polygon points="151.2,107.9 145.5,107.5 148.4,105.4 154.0,105.7" fill="#2ad3f2" stroke="#1b899e" stroke-width="0.4"/>
<polygon points="114.1,111.7 108.5,110.7 111.6,108.4 117.2,109.4" fill="#27bff3" stroke="#197c9e" stroke-width="0.4"/>
<polygon points="128.4,110.9 122.8,110.2 125.8,107.9 131.4,108.7" fill="#28c8f4" stroke="#1a829f" stroke-width="0.4"/>
<polygon points="62.0,113.3 56.5,112.0 59.9,109.5 65.4,110.8" fill="#26bbf3" stroke="#19799e" stroke-width="0.4"/>
<polygon points="165.3,105.9 159.7,105.9 162.5,103.8 168.1,103.9" fill="#2ce1f1" stroke="#1d929c" stroke-width="0.4"/>
<polygon points="76.6,113.4 71.0,112.2 74.3,109.7 79.9,111.0" fill="#26baf3" stroke="#19799e" stroke-width="0.4"/>
<polygon points="187.9,100.9 182.2,101.4 184.9,99.5 190.6,99.0" fill="#2ae9b2" stroke="#1b9873" stroke-width="0.4"/>
<polygon points="91.0,113.4 85.4,112.2 88.7,109.8 94.2,111.0" fill="#26bcf3" stroke="#197a9e" stroke-width="0.4"/>
<polygon points="142.6,109.7 137.0,109.3 139.9,107.1 145.5,107.5" fill="#29d0f3" stroke="#1b879e" stroke-width="0.4"/>
<polygon points="105.4,113.1 99.8,112.1 103.0,109.7 108.5,110.7" fill="#27bff3" stroke="#197c9e" stroke-width="0.4"/>
<polygon points="119.7,112.5 114.1,111.7 117.2,109.4 122.8,110.2" fill="#28c6f4" stroke="#1a819f" stroke-width="0.4"/>
<polygon points="179.5,103.4 173.8,103.7 176.5,101.7 182.2,101.4" fill="#2be8c8" stroke="#1c9782" stroke-width="0.4"/>
<polygon points="156.8,108.0 151.2,107.9 154.0,105.7 159.7,105.9" fill="#2bddf1" stroke="#1c8f9d" stroke-width="0.4"/>
<polygon points="67.6,114.6 62.0,113.3 65.4,110.8 71.0,112.2" fill="#26bdf3" stroke="#197b9e" stroke-width="0.4"/>
<polygon points="134.0,111.4 128.4,110.9 131.4,108.7 137.0,109.3" fill="#29cef3" stroke="#1b869e" stroke-width="0.4"/>
<polygon points="82.2,114.6 76.6,113.4 79.9,111.0 85.4,112.2" fill="#26bef3" stroke="#197b9e" stroke-width="0.4"/>
<polygon points="96.6,114.4 91.0,113.4 94.2,111.0 99.8,112.1" fill="#27c0f3" stroke="#197d9e" stroke-width="0.4"/>
<polygon points="171.0,105.7 165.3,105.9 168.1,103.9 173.8,103.7" fill="#2ce7dc" stroke="#1d968f" stroke-width="0.4"/>
<polygon points="148.3,110.0 142.6,109.7 145.5,107.5 151.2,107.9" fill="#2bd9f2" stroke="#1c8d9d" stroke-width="0.4"/>
<polygon points="111.0,114.0 105.4,113.1 108.5,110.7 114.1,111.7" fill="#28c6f4" stroke="#1a819f" stroke-width="0.4"/>
<polygon points="125.4,113.1 119.7,112.5 122.8,110.2 128.4,110.9" fill="#29cdf3" stroke="#1a859e" stroke-width="0.4"/>
<polygon points="73.2,115.9 67.6,114.6 71.0,112.2 76.6,113.4" fill="#27c0f3" stroke="#197d9e" stroke-width="0.4"/>
<polygon points="162.5,108.0 156.8,108.0 159.7,105.9 165.3,105.9" fill="#2de6ed" stroke="#1d969a" stroke-width="0.4"/>
<polygon points="87.8,115.8 82.2,114.6 85.4,112.2 91.0,113.4" fill="#27c2f4" stroke="#197e9e" stroke-width="0.4"/>
<polygon points="185.3,102.8 179.5,103.4 182.2,101.4 187.9,100.9" fill="#28eb9e" stroke="#1a9867" stroke-width="0.4"/>
<polygon points="139.7,111.9 134.0,111.4 137.0,109.3 142.6,109.7" fill="#2ad6f2" stroke="#1b8b9d" stroke-width="0.4"/>
<polygon points="102.2,115.4 96.6,114.4 99.8,112.1 105.4,113.1" fill="#28c6f4" stroke="#1a819f" stroke-width="0.4"/>
<polygon points="116.7,114.7 111.0,114.0 114.1,111.7 119.7,112.5" fill="#29ccf4" stroke="#1a849e" stroke-width="0.4"/>
<polygon points="154.0,110.1 148.3,110.0 151.2,107.9 156.8,108.0" fill="#2ce2f0" stroke="#1d939c" stroke-width="0.4"/>
<polygon points="176.8,105.3 171.0,105.7 173.8,103.7 179.5,103.4" fill="#2ae9b5" stroke="#1b9876" stroke-width="0.4"/>
<polygon points="131.0,113.6 125.4,113.1 128.4,110.9 134.0,111.4" fill="#2ad3f2" stroke="#1b899e" stroke-width="0.4"/>
<polygon points="78.8,117.1 73.2,115.9 76.6,113.4 82.2,114.6" fill="#27c3f4" stroke="#1a7f9e" stroke-width="0.4"/>
<polygon points="93.4,116.8 87.8,115.8 91.0,113.4 96.6,114.4" fill="#28c7f4" stroke="#1a819f" stroke-width="0.4"/>
<polygon points="168.2,107.7 162.5,108.0 165.3,105.9 171.0,105.7" fill="#2be8c9" stroke="#1c9783" stroke-width="0.4"/>
<polygon points="107.9,116.3 102.2,115.4 105.4,113.1 111.0,114.0" fill="#29cbf4" stroke="#1a849e" stroke-width="0.4"/>
<polygon points="145.4,112.1 139.7,111.9 142.6,109.7 148.3,110.0" fill="#2cdef1" stroke="#1c919d" stroke-width="0.4"/>
<polygon points="122.3,115.4 116.7,114.7 119.7,112.5 125.4,113.1" fill="#2ad2f3" stroke="#1b889e" stroke-width="0.4"/>
<polygon points="159.7,110.0 154.0,110.1 156.8,108.0 162.5,108.0" fill="#2ce7db" stroke="#1c968e" stroke-width="0.4"/>
<polygon points="84.5,118.2 78.8,117.1 82.2,114.6 87.8,115.8" fill="#28c8f4" stroke="#1a829f" stroke-width="0.4"/>
<polygon points="182.5,104.7 176.8,105.3 179.5,103.4 185.3,102.8" fill="#28eb8e" stroke="#1a985c" stroke-width="0.4"/>
<polygon points="136.7,114.0 131.0,113.6 134.0,111.4 139.7,111.9" fill="#2bdbf1" stroke="#1c8e9d" stroke-width="0.4"/>
<polygon points="99.0,117.7 93.4,116.8 96.6,114.4 102.2,115.4" fill="#29cbf4" stroke="#1a849e" stroke-width="0.4"/>
<polygon points="113.5,117.0 107.9,116.3 111.0,114.0 116.7,114.7" fill="#29d1f3" stroke="#1b889e" stroke-width="0.4"/>
<polygon points="151.1,112.2 145.4,112.1 148.3,110.0 154.0,110.1" fill="#2de6e9" stroke="#1d9698" stroke-width="0.4"/>
<polygon points="174.0,107.3 168.2,107.7 171.0,105.7 176.8,105.3" fill="#29eaa2" stroke="#1a9869" stroke-width="0.4"/>
<polygon points="128.0,115.8 122.3,115.4 125.4,113.1 131.0,113.6" fill="#2bd9f2" stroke="#1c8d9d" stroke-width="0.4"/>
<polygon points="90.1,119.2 84.5,118.2 87.8,115.8 93.4,116.8" fill="#29ccf4" stroke="#1a849e" stroke-width="0.4"/>
<polygon points="165.4,109.7 159.7,110.0 162.5,108.0 168.2,107.7" fill="#2ae9b6" stroke="#1b9876" stroke-width="0.4"/>
<polygon points="104.7,118.5 99.0,117.7 102.2,115.4 107.9,116.3" fill="#29d0f3" stroke="#1b879e" stroke-width="0.4"/>
<polygon points="142.4,114.2 136.7,114.0 139.7,111.9 145.4,112.1" fill="#2de4f0" stroke="#1d949c" stroke-width="0.4"/>
<polygon points="119.2,117.6 113.5,117.0 116.7,114.7 122.3,115.4" fill="#2ad7f2" stroke="#1c8c9d" stroke-width="0.4"/>
<polygon points="156.8,112.0 151.1,112.2 154.0,110.1 159.7,110.0" fill="#2be8c8" stroke="#1c9782" stroke-width="0.4"/>
<polygon points="133.7,116.2 128.0,115.8 131.0,113.6 136.7,114.0" fill="#2ce1f1" stroke="#1d929c" stroke-width="0.4"/>
<polygon points="179.8,106.6 174.0,107.3 176.8,105.3 182.5,104.7" fill="#28ea80" stroke="#1a9853" stroke-width="0.4"/>
<polygon points="95.8,120.0 90.1,119.2 93.4,116.8 99.0,117.7" fill="#29d0f3" stroke="#1b879e" stroke-width="0.4"/>
<polygon points="110.4,119.2 104.7,118.5 107.9,116.3 113.5,117.0" fill="#2ad6f2" stroke="#1b8b9d" stroke-width="0.4"/>
<polygon points="148.1,114.2 142.4,114.2 145.4,112.1 151.1,112.2" fill="#2ce7d7" stroke="#1c968c" stroke-width="0.4"/>
<polygon points="171.2,109.2 165.4,109.7 168.2,107.7 174.0,107.3" fill="#28eb90" stroke="#1a995e" stroke-width="0.4"/>
<polygon points="124.9,118.0 119.2,117.6 122.3,115.4 128.0,115.8" fill="#2cdef1" stroke="#1c919d" stroke-width="0.4"/>
<polygon points="101.5,120.8 95.8,120.0 99.0,117.7 104.7,118.5" fill="#2ad5f2" stroke="#1b8b9d" stroke-width="0.4"/>
<polygon points="162.6,111.7 156.8,112.0 159.7,110.0 165.4,109.7" fill="#29eaa2" stroke="#1a986a" stroke-width="0.4"/>
<polygon points="139.4,116.3 133.7,116.2 136.7,114.0 142.4,114.2" fill="#2ce7e3" stroke="#1d9694" stroke-width="0.4"/>
<polygon points="116.1,119.8 110.4,119.2 113.5,117.0 119.2,117.6" fill="#2bdcf1" stroke="#1c8f9d" stroke-width="0.4"/>
<polygon points="153.9,114.0 148.1,114.2 151.1,112.2 156.8,112.0" fill="#2ae9b5" stroke="#1b9875" stroke-width="0.4"/>
<polygon points="130.6,118.3 124.9,118.0 128.0,115.8 133.7,116.2" fill="#2de6ee" stroke="#1d969a" stroke-width="0.4"/>
<polygon points="177.0,108.5 171.2,109.2 174.0,107.3 179.8,106.6" fill="#28e972" stroke="#1a984a" stroke-width="0.4"/>
<polygon points="107.2,121.5 101.5,120.8 104.7,118.5 110.4,119.2" fill="#2bdbf1" stroke="#1c8f9d" stroke-width="0.4"/>
<polygon points="145.1,116.3 139.4,116.3 142.4,114.2 148.1,114.2" fill="#2be8c4" stroke="#1c977f" stroke-width="0.4"/>
<polygon points="168.4,111.1 162.6,111.7 165.4,109.7 171.2,109.2" fill="#28ea82" stroke="#1a9855" stroke-width="0.4"/>
<polygon points="121.8,120.2 116.1,119.8 119.2,117.6 124.9,118.0" fill="#2de4f0" stroke="#1d949c" stroke-width="0.4"/>
<polygon points="159.7,113.7 153.9,114.0 156.8,112.0 162.6,111.7" fill="#28eb91" stroke="#1a995e" stroke-width="0.4"/>
<polygon points="136.4,118.4 130.6,118.3 133.7,116.2 139.4,116.3" fill="#2be8d1" stroke="#1c9788" stroke-width="0.4"/>
<polygon points="112.9,122.0 107.2,121.5 110.4,119.2 116.1,119.8" fill="#2ce2f0" stroke="#1d939c" stroke-width="0.4"/>
<polygon points="150.9,116.1 145.1,116.3 148.1,114.2 153.9,114.0" fill="#29eaa0" stroke="#1a9868" stroke-width="0.4"/>
<polygon points="127.5,120.4 121.8,120.2 124.9,118.0 130.6,118.3" fill="#2ce7db" stroke="#1c968e" stroke-width="0.4"/>
<polygon points="174.2,110.4 168.4,111.1 171.2,109.2 177.0,108.5" fill="#28e864" stroke="#1a9741" stroke-width="0.4"/>
<polygon points="142.1,118.3 136.4,118.4 139.4,116.3 145.1,116.3" fill="#29eab0" stroke="#1b9872" stroke-width="0.4"/>
<polygon points="165.5,113.1 159.7,113.7 162.6,111.7 168.4,111.1" fill="#28e974" stroke="#1a984b" stroke-width="0.4"/>
<polygon points="118.6,122.3 112.9,122.0 116.1,119.8 121.8,120.2" fill="#2ce7e3" stroke="#1d9694" stroke-width="0.4"/>
<polygon points="156.7,115.6 150.9,116.1 153.9,114.0 159.7,113.7" fill="#28ea83" stroke="#1a9855" stroke-width="0.4"/>
<polygon points="133.3,120.5 127.5,120.4 130.6,118.3 136.4,118.4" fill="#2ae9bd" stroke="#1b977b" stroke-width="0.4"/>
<polygon points="147.9,118.0 142.1,118.3 145.1,116.3 150.9,116.1" fill="#28eb8f" stroke="#1a995d" stroke-width="0.4"/>
<polygon points="124.4,122.5 118.6,122.3 121.8,120.2 127.5,120.4" fill="#2be8c8" stroke="#1c9782" stroke-width="0.4"/>
<polygon points="171.4,112.2 165.5,113.1 168.4,111.1 174.2,110.4" fill="#28e857" stroke="#1a9738" stroke-width="0.4"/>
<polygon points="139.1,120.3 133.3,120.5 136.4,118.4 142.1,118.3" fill="#28eb9b" stroke="#1a9965" stroke-width="0.4"/>
<polygon points="162.6,115.0 156.7,115.6 159.7,113.7 165.5,113.1" fill="#28e965" stroke="#1a9742" stroke-width="0.4"/>
<polygon points="130.2,122.5 124.4,122.5 127.5,120.4 133.3,120.5" fill="#29eaa9" stroke="#1b986e" stroke-width="0.4"/>
<polygon points="153.8,117.6 147.9,118.0 150.9,116.1 156.7,115.6" fill="#28e974" stroke="#1a984b" stroke-width="0.4"/>
<polygon points="144.9,120.0 139.1,120.3 142.1,118.3 147.9,118.0" fill="#28ea81" stroke="#1a9854" stroke-width="0.4"/>
<polygon points="168.5,114.1 162.6,115.0 165.5,113.1 171.4,112.2" fill="#28e74e" stroke="#1a9632" stroke-width="0.4"/>
<polygon points="136.0,122.4 130.2,122.5 133.3,120.5 139.1,120.3" fill="#28ea8b" stroke="#1a985b" stroke-width="0.4"/>
<polygon points="159.7,116.8 153.8,117.6 156.7,115.6 162.6,115.0" fill="#28e858" stroke="#1a9739" stroke-width="0.4"/>
<polygon points="150.8,119.5 144.9,120.0 147.9,118.0 153.8,117.6" fill="#28e965" stroke="#1a9741" stroke-width="0.4"/>
<polygon points="141.9,122.0 136.0,122.4 139.1,120.3 144.9,120.0" fill="#28e971" stroke="#1a984a" stroke-width="0.4"/>
<polygon points="165.6,115.9 159.7,116.8 162.6,115.0 168.5,114.1" fill="#28e644" stroke="#1a952c" stroke-width="0.4"/>
<polygon points="156.7,118.7 150.8,119.5 153.8,117.6 159.7,116.8" fill="#28e74e" stroke="#1a9633" stroke-width="0.4"/>
<polygon points="147.7,121.4 141.9,122.0 144.9,120.0 150.8,119.5" fill="#28e857" stroke="#1a9739" stroke-width="0.4"/>
<polygon points="162.6,117.7 156.7,118.7 159.7,116.8 165.6,115.9" fill="#28e43a" stroke="#1a9426" stroke-width="0.4"/>
<polygon points="153.6,120.5 147.7,121.4 150.8,119.5 156.7,118.7" fill="#28e645" stroke="#1a952d" stroke-width="0.4"/>
<polygon points="159.6,119.5 153.6,120.5 156.7,118.7 162.6,117.7" fill="#28e334" stroke="#1a9422" stroke-width="0.4"/>
<path d="M133.4 91.0V96.0" stroke="#3a5a8a" stroke-width="0.45"/>
<circle cx="133.4" cy="91.0" r="1.65" fill="#c40000" stroke="#800" stroke-width="0.5"/>
<circle cx="52.5" cy="129.2" r="0.85" fill="#111"/>
<circle cx="51.4" cy="116.0" r="0.85" fill="#111"/>
<circle cx="50.2" cy="102.8" r="0.85" fill="#111"/>
<circle cx="49.1" cy="89.6" r="0.85" fill="#111"/>
<circle cx="47.9" cy="76.4" r="0.85" fill="#111"/>
<circle cx="46.8" cy="63.2" r="0.85" fill="#111"/>
<circle cx="45.6" cy="50.0" r="0.85" fill="#111"/>
<circle cx="54.6" cy="153.3" r="0.85" fill="#111"/>
<circle cx="80.3" cy="161.6" r="0.85" fill="#111"/>
<circle cx="106.3" cy="170.0" r="0.85" fill="#111"/>
<circle cx="132.7" cy="178.6" r="0.85" fill="#111"/>
<circle cx="159.6" cy="187.3" r="0.85" fill="#111"/>
<circle cx="159.6" cy="187.3" r="0.85" fill="#111"/>
<circle cx="169.8" cy="174.3" r="0.85" fill="#111"/>
<circle cx="179.7" cy="161.8" r="0.85" fill="#111"/>
<circle cx="189.2" cy="149.9" r="0.85" fill="#111"/>
<circle cx="198.4" cy="138.3" r="0.85" fill="#111"/>
<circle cx="207.1" cy="127.3" r="0.85" fill="#111"/>
<text x="46.5" y="131.4" text-anchor="middle" font-size="5.72" font-family="Liberation Serif, serif" font-weight="bold" fill="#1c2436" stroke="#1c2436" stroke-width="0.3" textLength="2.72" lengthAdjust="spacingAndGlyphs">1</text>
<text x="44.7" y="118.2" text-anchor="middle" font-size="5.72" font-family="Liberation Serif, serif" font-weight="bold" fill="#1c2436" stroke="#1c2436" stroke-width="0.3" textLength="6.79" lengthAdjust="spacingAndGlyphs">1.5</text>
<text x="44.3" y="105.0" text-anchor="middle" font-size="5.72" font-family="Liberation Serif, serif" font-weight="bold" fill="#1c2436" stroke="#1c2436" stroke-width="0.3" textLength="2.72" lengthAdjust="spacingAndGlyphs">2</text>
<text x="42.4" y="91.8" text-anchor="middle" font-size="5.72" font-family="Liberation Serif, serif" font-weight="bold" fill="#1c2436" stroke="#1c2436" stroke-width="0.3" textLength="6.79" lengthAdjust="spacingAndGlyphs">2.5</text>
<text x="42.0" y="78.6" text-anchor="middle" font-size="5.72" font-family="Liberation Serif, serif" font-weight="bold" fill="#1c2436" stroke="#1c2436" stroke-width="0.3" textLength="2.72" lengthAdjust="spacingAndGlyphs">3</text>
<text x="40.1" y="65.4" text-anchor="middle" font-size="5.72" font-family="Liberation Serif, serif" font-weight="bold" fill="#1c2436" stroke="#1c2436" stroke-width="0.3" textLength="6.79" lengthAdjust="spacingAndGlyphs">3.5</text>
<text x="39.7" y="52.2" text-anchor="middle" font-size="5.72" font-family="Liberation Serif, serif" font-weight="bold" fill="#1c2436" stroke="#1c2436" stroke-width="0.3" textLength="2.72" lengthAdjust="spacingAndGlyphs">4</text>
<text x="47.0" y="155.3" text-anchor="middle" font-size="6.50" font-family="Liberation Serif, serif" font-weight="bold" fill="#1c2436" stroke="#1c2436" stroke-width="0.3" textLength="9.26" lengthAdjust="spacingAndGlyphs">260</text>
<text x="69.3" y="165.9" text-anchor="middle" font-size="6.50" font-family="Liberation Serif, serif" font-weight="bold" fill="#1c2436" stroke="#1c2436" stroke-width="0.3" textLength="9.26" lengthAdjust="spacingAndGlyphs">255</text>
<text x="98.4" y="175.6" text-anchor="middle" font-size="6.50" font-family="Liberation Serif, serif" font-weight="bold" fill="#1c2436" stroke="#1c2436" stroke-width="0.3" textLength="9.26" lengthAdjust="spacingAndGlyphs">250</text>
<text x="124.6" y="184.1" text-anchor="middle" font-size="6.50" font-family="Liberation Serif, serif" font-weight="bold" fill="#1c2436" stroke="#1c2436" stroke-width="0.3" textLength="9.26" lengthAdjust="spacingAndGlyphs">245</text>
<text x="153.6" y="191.8" text-anchor="middle" font-size="6.50" font-family="Liberation Serif, serif" font-weight="bold" fill="#1c2436" stroke="#1c2436" stroke-width="0.3" textLength="9.26" lengthAdjust="spacingAndGlyphs">240</text>
<text x="166.0" y="191.8" text-anchor="middle" font-size="6.50" font-family="Liberation Serif, serif" font-weight="bold" fill="#1c2436" stroke="#1c2436" stroke-width="0.3" textLength="6.17" lengthAdjust="spacingAndGlyphs">35</text>
<text x="176.0" y="178.1" text-anchor="middle" font-size="6.50" font-family="Liberation Serif, serif" font-weight="bold" fill="#1c2436" stroke="#1c2436" stroke-width="0.3" textLength="6.17" lengthAdjust="spacingAndGlyphs">37</text>
<text x="184.7" y="165.4" text-anchor="middle" font-size="6.50" font-family="Liberation Serif, serif" font-weight="bold" fill="#1c2436" stroke="#1c2436" stroke-width="0.3" textLength="6.17" lengthAdjust="spacingAndGlyphs">39</text>
<text x="194.6" y="153.6" text-anchor="middle" font-size="6.50" font-family="Liberation Serif, serif" font-weight="bold" fill="#1c2436" stroke="#1c2436" stroke-width="0.3" textLength="6.17" lengthAdjust="spacingAndGlyphs">41</text>
<text x="203.6" y="140.4" text-anchor="middle" font-size="6.50" font-family="Liberation Serif, serif" font-weight="bold" fill="#1c2436" stroke="#1c2436" stroke-width="0.3" textLength="6.17" lengthAdjust="spacingAndGlyphs">43</text>
<text x="213.8" y="127.5" text-anchor="middle" font-size="6.50" font-family="Liberation Serif, serif" font-weight="bold" fill="#1c2436" stroke="#1c2436" stroke-width="0.3" textLength="6.17" lengthAdjust="spacingAndGlyphs">45</text>
<text x="95.5" y="190.5" transform="rotate(22.0 95.5 190.5)" text-anchor="middle" dominant-baseline="central" font-size="6.8" font-family="Liberation Serif, serif" font-weight="bold" fill="#1c2a48" stroke="#1c2a48" stroke-width="0.25" textLength="66" lengthAdjust="spacingAndGlyphs">Oxygen Flow Rate (slpm)</text>
<text x="211" y="165.6" transform="rotate(-57 211 165.6)" text-anchor="middle" dominant-baseline="central" font-size="6.8" font-family="Liberation Serif, serif" font-weight="bold" fill="#1c2a48" stroke="#1c2a48" stroke-width="0.25" textLength="66" lengthAdjust="spacingAndGlyphs">Powder Feed Rate (gm/min)</text>
<text x="16.8" y="87.7" transform="rotate(-90 16.8 87.7)" text-anchor="middle" dominant-baseline="central" font-size="8.3" font-family="Liberation Serif, serif" font-weight="bold" fill="#223355" textLength="55" lengthAdjust="spacingAndGlyphs">Porosity (vol%)</text>
<text x="124.1" y="224.3" text-anchor="middle" font-size="15" font-family="Liberation Serif, serif" fill="#111">(<tspan font-weight="bold">a</tspan>)</text>
<path d="M365.4 111.9L360.2 30.6M378.3 103.4L373.8 24.6M390.6 95.2L387.0 18.9M402.6 87.3L399.8 13.6M432.7 84.3L432.0 11.2M451.3 88.8L451.8 13.9M470.1 93.3L471.7 16.6M488.8 97.8L491.6 19.4M414.7 102.9L412.2 8.6M506.4 128.4L511.6 22.1" stroke="#a6a6a6" stroke-width="0.9" fill="none"/>
<path d="M352.1 120.7L414.1 79.8M414.1 79.8L507.7 102.3M351.1 106.8L413.8 67.9M413.8 67.9L508.3 89.0M350.1 92.8L413.4 56.0M413.4 56.0L509.0 75.6M349.1 78.8L413.1 44.2M413.1 44.2L509.6 62.2M348.0 64.9L412.8 32.3M412.8 32.3L510.3 48.8M347.0 50.9L412.5 20.4M412.5 20.4L511.0 35.5M346.0 36.9L412.2 8.6M412.2 8.6L511.6 22.1" stroke="#6c6c6c" stroke-width="0.7" fill="none"/>
<path d="M354.1 148.0L346.0 36.9" stroke="#8c8c8c" stroke-width="0.85"/>
<polygon points="454.2,176.3 354.1,148.0 414.7,102.9 506.4,128.4" fill="#646464"/>
<polyline points="463.8,116.6 463.6,117.1 463.5,117.9 463.5,118.4 463.5,119.0 463.5,119.8 463.5,120.3 463.6,120.8 463.7,121.3 463.9,122.0 464.1,122.7 464.4,123.4 464.6,124.0 464.9,124.5 465.3,125.1 465.6,125.7 466.1,126.3 466.5,126.8 466.9,127.3 467.4,127.8 467.8,128.3 468.5,128.9 469.4,129.6 469.9,130.1 470.5,130.5 471.6,131.3 472.2,131.6 473.1,132.2 474.1,132.7 475.2,133.3 476.1,133.7 477.5,134.2 478.9,134.8 479.7,135.0 481.2,135.5 482.8,136.0 484.4,136.3 485.2,136.5 486.9,136.8 488.7,137.1 489.6,137.2 491.4,137.4 492.3,137.5 494.2,137.6 495.2,137.7 496.2,137.7" fill="none" stroke="#3434b4" stroke-width="1.3"/>
<polyline points="447.8,112.1 447.1,112.9 446.6,113.4 446.2,114.0 445.6,114.8 445.1,115.5 444.8,116.0 444.3,116.8 444.0,117.3 443.6,118.1 443.3,118.6 443.0,119.4 442.7,119.9 442.4,120.7 442.3,121.1 442.0,122.0 441.9,122.5 441.7,123.3 441.6,123.9 441.5,124.3 441.4,125.2 441.4,125.8 441.4,126.3 441.4,126.9 441.4,127.8 441.5,128.3 441.5,128.8 441.6,129.4 441.8,130.0 442.0,130.7 442.2,131.4 442.5,132.1 442.8,132.7 443.1,133.3 443.4,133.9 443.8,134.5 444.2,135.0 444.6,135.6 445.0,136.1 445.5,136.6 446.0,137.1 446.7,137.9 447.4,138.5 448.0,139.0 448.5,139.4 449.6,140.2 450.2,140.6 451.0,141.1 452.1,141.8 452.7,142.1 454.0,142.8 455.0,143.3 456.1,143.8 457.6,144.4 459.0,144.9 459.8,145.2 461.4,145.7 463.0,146.1 464.6,146.5 465.4,146.7 467.1,147.1 468.9,147.4 470.6,147.6 471.6,147.8 473.5,148.0 474.4,148.1 476.4,148.2 477.4,148.3 478.6,148.3 480.4,148.4 481.4,148.4 482.5,148.4 484.2,148.4 484.6,148.4" fill="none" stroke="#3a5ab8" stroke-width="1.3"/>
<polyline points="436.9,109.1 436.1,109.8 435.2,110.5 434.4,111.2 433.6,112.0 432.8,112.7 432.0,113.4 431.2,114.1 430.8,114.5 430.1,115.3 429.3,116.1 428.6,116.8 428.1,117.4 427.6,118.0 426.9,118.8 426.2,119.6 425.9,120.0 425.3,120.8 424.6,121.6 424.3,122.0 423.7,122.9 423.1,123.7 422.9,124.1 422.3,125.0 421.9,125.6 421.5,126.2 421.0,127.1 420.8,127.5 420.3,128.4 420.1,128.9 419.6,129.8 419.4,130.2 419.0,131.1 418.8,131.6 418.5,132.5 418.3,133.0 418.1,133.7 417.9,134.4 417.8,134.9 417.6,135.8 417.6,136.4 417.5,136.9 417.4,137.7 417.4,138.5 417.4,139.0 417.4,139.5 417.5,140.2 417.6,141.0 417.8,141.8 418.0,142.3 418.2,142.9 418.4,143.5 418.7,144.1 419.0,144.8 419.4,145.4 419.9,146.1 420.4,146.7 420.8,147.3 421.3,147.8 421.8,148.3 422.6,149.0 423.4,149.6 424.0,150.1 424.9,150.7 425.8,151.3 426.5,151.7 427.7,152.4 428.6,152.9 429.8,153.4 431.2,154.1 432.0,154.4 433.5,154.9 435.0,155.5 436.6,156.0 438.2,156.5 439.8,156.9 441.5,157.3 443.3,157.7 445.0,158.1 445.9,158.2 447.8,158.5 449.6,158.8 450.6,158.9 452.5,159.1 453.5,159.2 455.5,159.4 456.5,159.4 458.0,159.5 459.6,159.6 460.6,159.6 462.2,159.6 463.8,159.6 464.9,159.6 466.0,159.5 467.6,159.5 469.2,159.4 470.5,159.3 471.7,159.2 472.9,159.1 472.9,159.1" fill="none" stroke="#4088c0" stroke-width="1.3"/>
<polyline points="431.1,169.7 432.6,169.9 434.3,170.1 435.6,170.2 437.0,170.3 438.7,170.4 439.7,170.4 441.9,170.5 442.9,170.5 444.1,170.6 446.1,170.6 447.3,170.6 448.4,170.5 449.9,170.5 451.6,170.4 453.0,170.4 454.2,170.3 455.3,170.2 456.5,170.1 458.0,170.0 459.5,169.8 460.9,169.7 461.4,169.6" fill="none" stroke="#40b0b0" stroke-width="1.3"/>
<polyline points="428.8,106.8 427.8,107.5 426.8,108.2 425.9,108.9 424.9,109.6 424.0,110.2 423.1,110.9 422.2,111.7 421.3,112.4 420.4,113.1 419.5,113.8 418.6,114.5 417.7,115.3 416.8,116.0 416.0,116.7 415.1,117.5 414.2,118.2 413.4,119.0 413.0,119.3 412.1,120.1 411.3,120.9 410.4,121.6 409.6,122.4 408.8,123.2 408.0,124.0 407.6,124.4 406.8,125.2 406.0,125.9 405.2,126.7 404.4,127.5 404.0,128.0 403.2,128.8 402.4,129.6 401.7,130.4 401.3,130.8 400.5,131.6 399.8,132.5 399.0,133.3 398.7,133.7 398.0,134.6 397.2,135.4 396.9,135.9 396.2,136.7 395.5,137.6 395.2,138.1 394.6,139.0 394.0,139.8 393.7,140.3 393.1,141.2 392.8,141.7 392.3,142.6 392.1,143.1 391.6,144.1 391.4,144.5 391.0,145.5 390.8,146.0 390.6,146.8 390.4,147.6 390.3,148.1 390.2,148.8 390.2,149.7 390.2,150.3 390.2,150.8 390.3,151.4 390.5,152.2 390.7,152.9 390.9,153.6 391.2,154.2 391.6,154.8 392.0,155.4 392.4,156.0 393.0,156.7 393.8,157.5 394.4,158.0 394.9,158.4 396.0,159.2 396.7,159.7 397.5,160.2 397.5,160.2" fill="none" stroke="#40b0b0" stroke-width="1.3"/>
<polyline points="422.2,105.0 421.2,105.7 420.2,106.3 419.1,107.0 418.1,107.7 417.1,108.3 416.1,109.0 415.1,109.7 414.6,110.0 413.6,110.7 412.6,111.4 411.6,112.1 410.7,112.8 409.7,113.5 408.7,114.2 407.7,114.9 406.8,115.6 405.8,116.4 404.8,117.1 403.9,117.8 402.9,118.5 401.9,119.3 401.0,120.0 400.0,120.7 399.0,121.5 398.1,122.2 397.1,123.0 396.2,123.7 395.2,124.5 394.3,125.2 393.3,126.0 392.3,126.8 391.4,127.5 390.4,128.3 389.9,128.7 389.0,129.5 388.0,130.2 387.1,131.0 386.1,131.8 385.2,132.6 384.3,133.4 383.3,134.2 382.4,135.0 381.5,135.8 380.7,136.4 380.1,137.0 379.2,137.9 378.3,138.7 377.4,139.5 376.5,140.4 375.9,140.9 375.2,141.6 374.4,142.5 373.6,143.4 373.0,144.0 372.4,144.7 371.6,145.6 370.9,146.4 370.5,147.0 369.8,147.9 369.5,148.4 368.9,149.3 368.5,150.0 368.1,150.8 367.7,151.4 367.6,151.8" fill="none" stroke="#50c090" stroke-width="1.3"/>
<polygon points="415.2,56.7 410.5,53.1 413.3,51.6 417.9,55.2" fill="#28ea7d" stroke="#1a9851" stroke-width="0.4"/>
<polygon points="419.8,60.1 415.2,56.7 417.9,55.2 422.5,58.6" fill="#2ae9b2" stroke="#1b9873" stroke-width="0.4"/>
<polygon points="424.3,63.3 419.8,60.1 422.5,58.6 427.1,61.8" fill="#2de6ed" stroke="#1d969a" stroke-width="0.4"/>
<polygon points="428.9,66.4 424.3,63.3 427.1,61.8 431.6,64.9" fill="#2ad5f2" stroke="#1b8a9d" stroke-width="0.4"/>
<polygon points="412.4,58.3 407.7,54.7 410.5,53.1 415.2,56.7" fill="#28ea7d" stroke="#1a9851" stroke-width="0.4"/>
<polygon points="433.5,69.3 428.9,66.4 431.6,64.9 436.1,67.8" fill="#27c2f4" stroke="#197e9e" stroke-width="0.4"/>
<polygon points="417.0,61.7 412.4,58.3 415.2,56.7 419.8,60.1" fill="#29eab1" stroke="#1b9873" stroke-width="0.4"/>
<polygon points="438.0,72.0 433.5,69.3 436.1,67.8 440.6,70.6" fill="#23abf2" stroke="#176f9d" stroke-width="0.4"/>
<polygon points="421.6,64.9 417.0,61.7 419.8,60.1 424.3,63.3" fill="#2de6eb" stroke="#1d9699" stroke-width="0.4"/>
<polygon points="442.5,74.6 438.0,72.0 440.6,70.6 445.1,73.2" fill="#2097f1" stroke="#15629c" stroke-width="0.4"/>
<polygon points="426.2,67.9 421.6,64.9 424.3,63.3 428.9,66.4" fill="#2ad6f2" stroke="#1b8b9d" stroke-width="0.4"/>
<polygon points="409.6,59.8 404.9,56.3 407.7,54.7 412.4,58.3" fill="#28ea7d" stroke="#1a9851" stroke-width="0.4"/>
<polygon points="430.8,70.8 426.2,67.9 428.9,66.4 433.5,69.3" fill="#27c4f4" stroke="#1a809e" stroke-width="0.4"/>
<polygon points="447.0,77.0 442.5,74.6 445.1,73.2 449.6,75.7" fill="#1e87ef" stroke="#14589b" stroke-width="0.4"/>
<polygon points="414.2,63.2 409.6,59.8 412.4,58.3 417.0,61.7" fill="#29eaaf" stroke="#1b9872" stroke-width="0.4"/>
<polygon points="435.3,73.5 430.8,70.8 433.5,69.3 438.0,72.0" fill="#24aef2" stroke="#17719d" stroke-width="0.4"/>
<polygon points="451.5,79.3 447.0,77.0 449.6,75.7 454.1,78.0" fill="#1e7ced" stroke="#14519a" stroke-width="0.4"/>
<polygon points="418.8,66.4 414.2,63.2 417.0,61.7 421.6,64.9" fill="#2de6e9" stroke="#1d9697" stroke-width="0.4"/>
<polygon points="439.9,76.0 435.3,73.5 438.0,72.0 442.5,74.6" fill="#209af1" stroke="#15649d" stroke-width="0.4"/>
<polygon points="423.4,69.4 418.8,66.4 421.6,64.9 426.2,67.9" fill="#2ad7f2" stroke="#1c8c9d" stroke-width="0.4"/>
<polygon points="456.0,81.5 451.5,79.3 454.1,78.0 458.6,80.1" fill="#1e72ec" stroke="#144a99" stroke-width="0.4"/>
<polygon points="406.7,61.4 402.0,57.9 404.9,56.3 409.6,59.8" fill="#28ea7d" stroke="#1a9851" stroke-width="0.4"/>
<polygon points="428.0,72.2 423.4,69.4 426.2,67.9 430.8,70.8" fill="#28c6f4" stroke="#1a819f" stroke-width="0.4"/>
<polygon points="444.4,78.4 439.9,76.0 442.5,74.6 447.0,77.0" fill="#1e89f0" stroke="#14599c" stroke-width="0.4"/>
<polygon points="411.4,64.7 406.7,61.4 409.6,59.8 414.2,63.2" fill="#29eaae" stroke="#1b9871" stroke-width="0.4"/>
<polygon points="460.5,83.5 456.0,81.5 458.6,80.1 463.1,82.2" fill="#1b65ea" stroke="#124298" stroke-width="0.4"/>
<polygon points="432.6,74.9 428.0,72.2 430.8,70.8 435.3,73.5" fill="#24b1f2" stroke="#17739e" stroke-width="0.4"/>
<polygon points="448.9,80.7 444.4,78.4 447.0,77.0 451.5,79.3" fill="#1e7fee" stroke="#14529b" stroke-width="0.4"/>
<polygon points="416.1,67.9 411.4,64.7 414.2,63.2 418.8,66.4" fill="#2ce7e6" stroke="#1d9696" stroke-width="0.4"/>
<polygon points="465.0,85.4 460.5,83.5 463.1,82.2 467.5,84.1" fill="#1757e9" stroke="#0f3897" stroke-width="0.4"/>
<polygon points="437.2,77.5 432.6,74.9 435.3,73.5 439.9,76.0" fill="#219df1" stroke="#15669d" stroke-width="0.4"/>
<polygon points="420.7,70.9 416.1,67.9 418.8,66.4 423.4,69.4" fill="#2bd8f2" stroke="#1c8c9d" stroke-width="0.4"/>
<polygon points="453.5,82.8 448.9,80.7 451.5,79.3 456.0,81.5" fill="#1e75ec" stroke="#144c9a" stroke-width="0.4"/>
<polygon points="403.9,63.0 399.2,59.5 402.0,57.9 406.7,61.4" fill="#28ea7d" stroke="#1a9851" stroke-width="0.4"/>
<polygon points="425.3,73.7 420.7,70.9 423.4,69.4 428.0,72.2" fill="#28c9f4" stroke="#1a829f" stroke-width="0.4"/>
<polygon points="441.8,79.8 437.2,77.5 439.9,76.0 444.4,78.4" fill="#1e8cf0" stroke="#145b9c" stroke-width="0.4"/>
<polygon points="469.5,87.1 465.0,85.4 467.5,84.1 472.0,85.9" fill="#134ae7" stroke="#0c3096" stroke-width="0.4"/>
<polygon points="408.6,66.3 403.9,63.0 406.7,61.4 411.4,64.7" fill="#29eaac" stroke="#1b9870" stroke-width="0.4"/>
<polygon points="458.0,84.8 453.5,82.8 456.0,81.5 460.5,83.5" fill="#1d6ceb" stroke="#134699" stroke-width="0.4"/>
<polygon points="429.9,76.4 425.3,73.7 428.0,72.2 432.6,74.9" fill="#25b4f3" stroke="#18759e" stroke-width="0.4"/>
<polygon points="413.2,69.4 408.6,66.3 411.4,64.7 416.1,67.9" fill="#2ce7e3" stroke="#1d9694" stroke-width="0.4"/>
<polygon points="446.3,82.1 441.8,79.8 444.4,78.4 448.9,80.7" fill="#1e82ee" stroke="#14549b" stroke-width="0.4"/>
<polygon points="474.0,88.8 469.5,87.1 472.0,85.9 476.5,87.6" fill="#103fe6" stroke="#0a2996" stroke-width="0.4"/>
<polygon points="462.5,86.7 458.0,84.8 460.5,83.5 465.0,85.4" fill="#195ee9" stroke="#103d98" stroke-width="0.4"/>
<polygon points="434.5,78.9 429.9,76.4 432.6,74.9 437.2,77.5" fill="#21a1f1" stroke="#16699d" stroke-width="0.4"/>
<polygon points="417.9,72.4 413.2,69.4 416.1,67.9 420.7,70.9" fill="#2bd9f2" stroke="#1c8d9d" stroke-width="0.4"/>
<polygon points="450.9,84.2 446.3,82.1 448.9,80.7 453.5,82.8" fill="#1e79ed" stroke="#144e9a" stroke-width="0.4"/>
<polygon points="401.0,64.5 396.3,61.1 399.2,59.5 403.9,63.0" fill="#28ea7c" stroke="#1a9851" stroke-width="0.4"/>
<polygon points="422.5,75.2 417.9,72.4 420.7,70.9 425.3,73.7" fill="#28caf4" stroke="#1a839e" stroke-width="0.4"/>
<polygon points="478.5,90.3 474.0,88.8 476.5,87.6 481.0,89.1" fill="#0d36e5" stroke="#092395" stroke-width="0.4"/>
<polygon points="439.1,81.2 434.5,78.9 437.2,77.5 441.8,79.8" fill="#1f90f0" stroke="#145e9c" stroke-width="0.4"/>
<polygon points="467.0,88.4 462.5,86.7 465.0,85.4 469.5,87.1" fill="#1652e8" stroke="#0e3597" stroke-width="0.4"/>
<polygon points="405.7,67.8 401.0,64.5 403.9,63.0 408.6,66.3" fill="#29eaaa" stroke="#1b986f" stroke-width="0.4"/>
<polygon points="455.4,86.1 450.9,84.2 453.5,82.8 458.0,84.8" fill="#1e71eb" stroke="#144999" stroke-width="0.4"/>
<polygon points="427.2,77.8 422.5,75.2 425.3,73.7 429.9,76.4" fill="#25b7f3" stroke="#18779e" stroke-width="0.4"/>
<polygon points="410.4,71.0 405.7,67.8 408.6,66.3 413.2,69.4" fill="#2ce7e0" stroke="#1d9692" stroke-width="0.4"/>
<polygon points="443.7,83.4 439.1,81.2 441.8,79.8 446.3,82.1" fill="#1e85ef" stroke="#14569b" stroke-width="0.4"/>
<polygon points="483.0,91.8 478.5,90.3 481.0,89.1 485.5,90.6" fill="#0b2fe5" stroke="#071f95" stroke-width="0.4"/>
<polygon points="471.5,90.0 467.0,88.4 469.5,87.1 474.0,88.8" fill="#1348e7" stroke="#0c2f96" stroke-width="0.4"/>
<polygon points="459.9,87.9 455.4,86.1 458.0,84.8 462.5,86.7" fill="#1b66ea" stroke="#124298" stroke-width="0.4"/>
<polygon points="431.8,80.3 427.2,77.8 429.9,76.4 434.5,78.9" fill="#22a4f2" stroke="#166b9d" stroke-width="0.4"/>
<polygon points="415.1,73.9 410.4,71.0 413.2,69.4 417.9,72.4" fill="#2bdbf1" stroke="#1c8e9d" stroke-width="0.4"/>
<polygon points="448.2,85.5 443.7,83.4 446.3,82.1 450.9,84.2" fill="#1e7ced" stroke="#14509a" stroke-width="0.4"/>
<polygon points="398.1,66.1 393.3,62.7 396.3,61.1 401.0,64.5" fill="#28ea7b" stroke="#1a9850" stroke-width="0.4"/>
<polygon points="487.5,93.1 483.0,91.8 485.5,90.6 489.9,92.0" fill="#092ae4" stroke="#061b94" stroke-width="0.4"/>
<polygon points="419.7,76.7 415.1,73.9 417.9,72.4 422.5,75.2" fill="#29ccf3" stroke="#1a859e" stroke-width="0.4"/>
<polygon points="476.1,91.5 471.5,90.0 474.0,88.8 478.5,90.3" fill="#103fe6" stroke="#0a2996" stroke-width="0.4"/>
<polygon points="436.4,82.6 431.8,80.3 434.5,78.9 439.1,81.2" fill="#1f94f1" stroke="#14609c" stroke-width="0.4"/>
<polygon points="402.8,69.4 398.1,66.1 401.0,64.5 405.7,67.8" fill="#29eaa8" stroke="#1b986d" stroke-width="0.4"/>
<polygon points="464.5,89.6 459.9,87.9 462.5,86.7 467.0,88.4" fill="#185ae9" stroke="#103b97" stroke-width="0.4"/>
<polygon points="452.8,87.4 448.2,85.5 450.9,84.2 455.4,86.1" fill="#1e74ec" stroke="#144c99" stroke-width="0.4"/>
<polygon points="424.4,79.3 419.7,76.7 422.5,75.2 427.2,77.8" fill="#26baf3" stroke="#18799e" stroke-width="0.4"/>
<polygon points="407.6,72.5 402.8,69.4 405.7,67.8 410.4,71.0" fill="#2ce7dd" stroke="#1d968f" stroke-width="0.4"/>
<polygon points="441.0,84.8 436.4,82.6 439.1,81.2 443.7,83.4" fill="#1e88ef" stroke="#14589c" stroke-width="0.4"/>
<polygon points="492.1,94.4 487.5,93.1 489.9,92.0 494.4,93.3" fill="#0825e4" stroke="#051894" stroke-width="0.4"/>
<polygon points="480.6,92.9 476.1,91.5 478.5,90.3 483.0,91.8" fill="#0e39e6" stroke="#092595" stroke-width="0.4"/>
<polygon points="469.0,91.2 464.5,89.6 467.0,88.4 471.5,90.0" fill="#1550e8" stroke="#0e3497" stroke-width="0.4"/>
<polygon points="412.3,75.4 407.6,72.5 410.4,71.0 415.1,73.9" fill="#2bdcf1" stroke="#1c8f9d" stroke-width="0.4"/>
<polygon points="429.0,81.7 424.4,79.3 427.2,77.8 431.8,80.3" fill="#23a8f2" stroke="#176d9d" stroke-width="0.4"/>
<polygon points="457.4,89.2 452.8,87.4 455.4,86.1 459.9,87.9" fill="#1e6deb" stroke="#134799" stroke-width="0.4"/>
<polygon points="395.2,67.7 390.4,64.3 393.3,62.7 398.1,66.1" fill="#28ea7a" stroke="#1a9850" stroke-width="0.4"/>
<polygon points="445.6,86.8 441.0,84.8 443.7,83.4 448.2,85.5" fill="#1e7fee" stroke="#14539b" stroke-width="0.4"/>
<polygon points="416.9,78.1 412.3,75.4 415.1,73.9 419.7,76.7" fill="#29cef3" stroke="#1b869e" stroke-width="0.4"/>
<polygon points="496.6,95.6 492.1,94.4 494.4,93.3 498.9,94.5" fill="#0723e3" stroke="#051794" stroke-width="0.4"/>
<polygon points="485.1,94.3 480.6,92.9 483.0,91.8 487.5,93.1" fill="#0d34e5" stroke="#082295" stroke-width="0.4"/>
<polygon points="433.7,84.0 429.0,81.7 431.8,80.3 436.4,82.6" fill="#2098f1" stroke="#15639d" stroke-width="0.4"/>
<polygon points="473.6,92.7 469.0,91.2 471.5,90.0 476.1,91.5" fill="#1349e7" stroke="#0c2f96" stroke-width="0.4"/>
<polygon points="399.9,71.0 395.2,67.7 398.1,66.1 402.8,69.4" fill="#29eaa5" stroke="#1b986b" stroke-width="0.4"/>
<polygon points="461.9,90.9 457.4,89.2 459.9,87.9 464.5,89.6" fill="#1b62ea" stroke="#114098" stroke-width="0.4"/>
<polygon points="450.2,88.7 445.6,86.8 448.2,85.5 452.8,87.4" fill="#1e78ed" stroke="#144e9a" stroke-width="0.4"/>
<polygon points="421.6,80.7 416.9,78.1 419.7,76.7 424.4,79.3" fill="#26bdf3" stroke="#197b9e" stroke-width="0.4"/>
<polygon points="404.7,74.0 399.9,71.0 402.8,69.4 407.6,72.5" fill="#2ce7d9" stroke="#1c968d" stroke-width="0.4"/>
<polygon points="438.3,86.2 433.7,84.0 436.4,82.6 441.0,84.8" fill="#1e8bf0" stroke="#145a9c" stroke-width="0.4"/>
<polygon points="489.6,95.5 485.1,94.3 487.5,93.1 492.1,94.4" fill="#0b30e5" stroke="#071f95" stroke-width="0.4"/>
<polygon points="501.1,96.7 496.6,95.6 498.9,94.5 503.4,95.6" fill="#0721e3" stroke="#051694" stroke-width="0.4"/>
<polygon points="478.1,94.1 473.6,92.7 476.1,91.5 480.6,92.9" fill="#1143e7" stroke="#0b2b96" stroke-width="0.4"/>
<polygon points="466.5,92.5 461.9,90.9 464.5,89.6 469.0,91.2" fill="#1859e9" stroke="#0f3a97" stroke-width="0.4"/>
<polygon points="409.4,76.9 404.7,74.0 407.6,72.5 412.3,75.4" fill="#2cdef1" stroke="#1c909d" stroke-width="0.4"/>
<polygon points="426.3,83.1 421.6,80.7 424.4,79.3 429.0,81.7" fill="#23acf2" stroke="#17709d" stroke-width="0.4"/>
<polygon points="454.7,90.5 450.2,88.7 452.8,87.4 457.4,89.2" fill="#1e72ec" stroke="#144a99" stroke-width="0.4"/>
<polygon points="392.2,69.3 387.4,65.9 390.4,64.3 395.2,67.7" fill="#28ea79" stroke="#1a984f" stroke-width="0.4"/>
<polygon points="442.9,88.2 438.3,86.2 441.0,84.8 445.6,86.8" fill="#1e83ee" stroke="#14559b" stroke-width="0.4"/>
<polygon points="414.1,79.6 409.4,76.9 412.3,75.4 416.9,78.1" fill="#29d0f3" stroke="#1b879e" stroke-width="0.4"/>
<polygon points="397.0,72.5 392.2,69.3 395.2,67.7 399.9,71.0" fill="#29eaa2" stroke="#1a9869" stroke-width="0.4"/>
<polygon points="494.2,96.6 489.6,95.5 492.1,94.4 496.6,95.6" fill="#0b2ee5" stroke="#071e95" stroke-width="0.4"/>
<polygon points="430.9,85.4 426.3,83.1 429.0,81.7 433.7,84.0" fill="#219df1" stroke="#15669d" stroke-width="0.4"/>
<polygon points="482.7,95.4 478.1,94.1 480.6,92.9 485.1,94.3" fill="#103ee6" stroke="#0a2896" stroke-width="0.4"/>
<polygon points="505.6,97.7 501.1,96.7 503.4,95.6 507.9,96.7" fill="#0721e3" stroke="#041594" stroke-width="0.4"/>
<polygon points="471.1,93.9 466.5,92.5 469.0,91.2 473.6,92.7" fill="#1652e8" stroke="#0e3597" stroke-width="0.4"/>
<polygon points="459.3,92.1 454.7,90.5 457.4,89.2 461.9,90.9" fill="#1d6beb" stroke="#134699" stroke-width="0.4"/>
<polygon points="447.5,90.0 442.9,88.2 445.6,86.8 450.2,88.7" fill="#1e7ced" stroke="#14509a" stroke-width="0.4"/>
<polygon points="418.8,82.2 414.1,79.6 416.9,78.1 421.6,80.7" fill="#27c1f4" stroke="#197d9e" stroke-width="0.4"/>
<polygon points="401.8,75.6 397.0,72.5 399.9,71.0 404.7,74.0" fill="#2be8d5" stroke="#1c968a" stroke-width="0.4"/>
<polygon points="435.6,87.5 430.9,85.4 433.7,84.0 438.3,86.2" fill="#1f8ff0" stroke="#145d9c" stroke-width="0.4"/>
<polygon points="487.2,96.6 482.7,95.4 485.1,94.3 489.6,95.5" fill="#0f3be6" stroke="#0a2695" stroke-width="0.4"/>
<polygon points="498.7,97.7 494.2,96.6 496.6,95.6 501.1,96.7" fill="#0a2de4" stroke="#071d95" stroke-width="0.4"/>
<polygon points="475.6,95.3 471.1,93.9 473.6,92.7 478.1,94.1" fill="#144de8" stroke="#0d3297" stroke-width="0.4"/>
<polygon points="406.5,78.4 401.8,75.6 404.7,74.0 409.4,76.9" fill="#2ce0f1" stroke="#1d919d" stroke-width="0.4"/>
<polygon points="463.9,93.7 459.3,92.1 461.9,90.9 466.5,92.5" fill="#1b63ea" stroke="#114098" stroke-width="0.4"/>
<polygon points="423.5,84.6 418.8,82.2 421.6,80.7 426.3,83.1" fill="#24b0f2" stroke="#17729e" stroke-width="0.4"/>
<polygon points="452.1,91.8 447.5,90.0 450.2,88.7 454.7,90.5" fill="#1e76ec" stroke="#144d9a" stroke-width="0.4"/>
<polygon points="389.2,70.9 384.4,67.5 387.4,65.9 392.2,69.3" fill="#28e978" stroke="#1a984e" stroke-width="0.4"/>
<polygon points="440.2,89.5 435.6,87.5 438.3,86.2 442.9,88.2" fill="#1e86ef" stroke="#14579b" stroke-width="0.4"/>
<polygon points="411.2,81.1 406.5,78.4 409.4,76.9 414.1,79.6" fill="#2ad2f3" stroke="#1b899e" stroke-width="0.4"/>
<polygon points="394.0,74.1 389.2,70.9 392.2,69.3 397.0,72.5" fill="#29ea9f" stroke="#1a9867" stroke-width="0.4"/>
<polygon points="428.1,86.8 423.5,84.6 426.3,83.1 430.9,85.4" fill="#22a1f1" stroke="#16699d" stroke-width="0.4"/>
<polygon points="491.8,97.7 487.2,96.6 489.6,95.5 494.2,96.6" fill="#0e39e6" stroke="#092595" stroke-width="0.4"/>
<polygon points="480.2,96.5 475.6,95.3 478.1,94.1 482.7,95.4" fill="#1349e7" stroke="#0c2f96" stroke-width="0.4"/>
<polygon points="503.3,98.7 498.7,97.7 501.1,96.7 505.6,97.7" fill="#0a2de4" stroke="#071d95" stroke-width="0.4"/>
<polygon points="468.5,95.1 463.9,93.7 466.5,92.5 471.1,93.9" fill="#195ce9" stroke="#103c98" stroke-width="0.4"/>
<polygon points="456.7,93.4 452.1,91.8 454.7,90.5 459.3,92.1" fill="#1e71eb" stroke="#144999" stroke-width="0.4"/>
<polygon points="416.0,83.6 411.2,81.1 414.1,79.6 418.8,82.2" fill="#27c5f4" stroke="#1a809e" stroke-width="0.4"/>
<polygon points="444.8,91.3 440.2,89.5 442.9,88.2 447.5,90.0" fill="#1e80ee" stroke="#14539b" stroke-width="0.4"/>
<polygon points="398.8,77.1 394.0,74.1 397.0,72.5 401.8,75.6" fill="#2be8d1" stroke="#1c9788" stroke-width="0.4"/>
<polygon points="432.8,88.9 428.1,86.8 430.9,85.4 435.6,87.5" fill="#1f94f1" stroke="#14609c" stroke-width="0.4"/>
<polygon points="484.8,97.7 480.2,96.5 482.7,95.4 487.2,96.6" fill="#1246e7" stroke="#0c2e96" stroke-width="0.4"/>
<polygon points="403.6,79.9 398.8,77.1 401.8,75.6 406.5,78.4" fill="#2ce2f1" stroke="#1d939c" stroke-width="0.4"/>
<polygon points="496.3,98.7 491.8,97.7 494.2,96.6 498.7,97.7" fill="#0e39e6" stroke="#092595" stroke-width="0.4"/>
<polygon points="473.1,96.4 468.5,95.1 471.1,93.9 475.6,95.3" fill="#1757e9" stroke="#0f3997" stroke-width="0.4"/>
<polygon points="461.3,94.9 456.7,93.4 459.3,92.1 463.9,93.7" fill="#1d6ceb" stroke="#134699" stroke-width="0.4"/>
<polygon points="420.7,86.0 416.0,83.6 418.8,82.2 423.5,84.6" fill="#25b4f3" stroke="#18759e" stroke-width="0.4"/>
<polygon points="386.2,72.5 381.4,69.1 384.4,67.5 389.2,70.9" fill="#28e976" stroke="#1a984d" stroke-width="0.4"/>
<polygon points="449.5,93.0 444.8,91.3 447.5,90.0 452.1,91.8" fill="#1e7aed" stroke="#144f9a" stroke-width="0.4"/>
<polygon points="437.5,90.8 432.8,88.9 435.6,87.5 440.2,89.5" fill="#1e8af0" stroke="#145a9c" stroke-width="0.4"/>
<polygon points="408.3,82.6 403.6,79.9 406.5,78.4 411.2,81.1" fill="#2ad4f2" stroke="#1b8a9e" stroke-width="0.4"/>
<polygon points="391.1,75.7 386.2,72.5 389.2,70.9 394.0,74.1" fill="#28eb9c" stroke="#1a9965" stroke-width="0.4"/>
<polygon points="425.4,88.2 420.7,86.0 423.5,84.6 428.1,86.8" fill="#22a6f2" stroke="#166c9d" stroke-width="0.4"/>
<polygon points="477.7,97.6 473.1,96.4 475.6,95.3 480.2,96.5" fill="#1654e8" stroke="#0e3697" stroke-width="0.4"/>
<polygon points="489.4,98.8 484.8,97.7 487.2,96.6 491.8,97.7" fill="#1245e7" stroke="#0b2d96" stroke-width="0.4"/>
<polygon points="465.9,96.3 461.3,94.9 463.9,93.7 468.5,95.1" fill="#1c66ea" stroke="#124298" stroke-width="0.4"/>
<polygon points="500.9,99.7 496.3,98.7 498.7,97.7 503.3,98.7" fill="#0e39e6" stroke="#092595" stroke-width="0.4"/>
<polygon points="454.1,94.6 449.5,93.0 452.1,91.8 456.7,93.4" fill="#1e75ec" stroke="#144c9a" stroke-width="0.4"/>
<polygon points="395.9,78.6 391.1,75.7 394.0,74.1 398.8,77.1" fill="#2be8cc" stroke="#1c9785" stroke-width="0.4"/>
<polygon points="413.1,85.1 408.3,82.6 411.2,81.1 416.0,83.6" fill="#28c8f4" stroke="#1a829f" stroke-width="0.4"/>
<polygon points="442.1,92.6 437.5,90.8 440.2,89.5 444.8,91.3" fill="#1e84ef" stroke="#14559b" stroke-width="0.4"/>
<polygon points="430.0,90.2 425.4,88.2 428.1,86.8 432.8,88.9" fill="#2099f1" stroke="#15649d" stroke-width="0.4"/>
<polygon points="400.7,81.4 395.9,78.6 398.8,77.1 403.6,79.9" fill="#2de3f0" stroke="#1d949c" stroke-width="0.4"/>
<polygon points="482.3,98.8 477.7,97.6 480.2,96.5 484.8,97.7" fill="#1552e8" stroke="#0e3597" stroke-width="0.4"/>
<polygon points="470.6,97.5 465.9,96.3 468.5,95.1 473.1,96.4" fill="#1a61ea" stroke="#113f98" stroke-width="0.4"/>
<polygon points="417.8,87.4 413.1,85.1 416.0,83.6 420.7,86.0" fill="#25b8f3" stroke="#18789e" stroke-width="0.4"/>
<polygon points="493.9,99.8 489.4,98.8 491.8,97.7 496.3,98.7" fill="#1245e7" stroke="#0b2d96" stroke-width="0.4"/>
<polygon points="458.7,96.1 454.1,94.6 456.7,93.4 461.3,94.9" fill="#1e72ec" stroke="#144a99" stroke-width="0.4"/>
<polygon points="383.2,74.1 378.3,70.8 381.4,69.1 386.2,72.5" fill="#28e974" stroke="#1a984c" stroke-width="0.4"/>
<polygon points="446.8,94.3 442.1,92.6 444.8,91.3 449.5,93.0" fill="#1e7eee" stroke="#14529b" stroke-width="0.4"/>
<polygon points="434.7,92.1 430.0,90.2 432.8,88.9 437.5,90.8" fill="#1e8ef0" stroke="#145d9c" stroke-width="0.4"/>
<polygon points="405.4,84.1 400.7,81.4 403.6,79.9 408.3,82.6" fill="#2ad6f2" stroke="#1c8b9d" stroke-width="0.4"/>
<polygon points="388.1,77.2 383.2,74.1 386.2,72.5 391.1,75.7" fill="#28eb98" stroke="#1a9963" stroke-width="0.4"/>
<polygon points="422.5,89.6 417.8,87.4 420.7,86.0 425.4,88.2" fill="#23abf2" stroke="#176f9d" stroke-width="0.4"/>
<polygon points="475.2,98.7 470.6,97.5 473.1,96.4 477.7,97.6" fill="#195fe9" stroke="#103d98" stroke-width="0.4"/>
<polygon points="486.9,99.8 482.3,98.8 484.8,97.7 489.4,98.8" fill="#1551e8" stroke="#0e3497" stroke-width="0.4"/>
<polygon points="463.4,97.4 458.7,96.1 461.3,94.9 465.9,96.3" fill="#1e6feb" stroke="#144899" stroke-width="0.4"/>
<polygon points="498.5,100.7 493.9,99.8 496.3,98.7 500.9,99.7" fill="#1246e7" stroke="#0c2d96" stroke-width="0.4"/>
<polygon points="451.4,95.8 446.8,94.3 449.5,93.0 454.1,94.6" fill="#1e7aed" stroke="#144f9a" stroke-width="0.4"/>
<polygon points="392.9,80.2 388.1,77.2 391.1,75.7 395.9,78.6" fill="#2be8c7" stroke="#1c9781" stroke-width="0.4"/>
<polygon points="410.2,86.5 405.4,84.1 408.3,82.6 413.1,85.1" fill="#28cbf4" stroke="#1a849e" stroke-width="0.4"/>
<polygon points="439.4,93.9 434.7,92.1 437.5,90.8 442.1,92.6" fill="#1e88ef" stroke="#14589c" stroke-width="0.4"/>
<polygon points="427.2,91.6 422.5,89.6 425.4,88.2 430.0,90.2" fill="#219ef1" stroke="#16679d" stroke-width="0.4"/>
<polygon points="397.7,83.0 392.9,80.2 395.9,78.6 400.7,81.4" fill="#2de5f0" stroke="#1d959c" stroke-width="0.4"/>
<polygon points="380.1,75.7 375.2,72.4 378.3,70.8 383.2,74.1" fill="#28e973" stroke="#1a984a" stroke-width="0.4"/>
<polygon points="414.9,88.8 410.2,86.5 413.1,85.1 417.8,87.4" fill="#26bdf3" stroke="#197b9e" stroke-width="0.4"/>
<polygon points="468.0,98.7 463.4,97.4 465.9,96.3 470.6,97.5" fill="#1d6ceb" stroke="#134699" stroke-width="0.4"/>
<polygon points="479.8,99.8 475.2,98.7 477.7,97.6 482.3,98.8" fill="#195de9" stroke="#103c98" stroke-width="0.4"/>
<polygon points="491.5,100.8 486.9,99.8 489.4,98.8 493.9,99.8" fill="#1551e8" stroke="#0e3597" stroke-width="0.4"/>
<polygon points="456.1,97.3 451.4,95.8 454.1,94.6 458.7,96.1" fill="#1e77ec" stroke="#144d9a" stroke-width="0.4"/>
<polygon points="444.1,95.6 439.4,93.9 442.1,92.6 446.8,94.3" fill="#1e83ee" stroke="#14559b" stroke-width="0.4"/>
<polygon points="431.9,93.5 427.2,91.6 430.0,90.2 434.7,92.1" fill="#1f94f1" stroke="#14609c" stroke-width="0.4"/>
<polygon points="402.5,85.6 397.7,83.0 400.7,81.4 405.4,84.1" fill="#2bd9f2" stroke="#1c8d9d" stroke-width="0.4"/>
<polygon points="385.0,78.8 380.1,75.7 383.2,74.1 388.1,77.2" fill="#28eb94" stroke="#1a9961" stroke-width="0.4"/>
<polygon points="419.7,91.0 414.9,88.8 417.8,87.4 422.5,89.6" fill="#24aff2" stroke="#17729e" stroke-width="0.4"/>
<polygon points="472.6,99.8 468.0,98.7 470.6,97.5 475.2,98.7" fill="#1d6aeb" stroke="#134598" stroke-width="0.4"/>
<polygon points="460.7,98.6 456.1,97.3 458.7,96.1 463.4,97.4" fill="#1e74ec" stroke="#144b99" stroke-width="0.4"/>
<polygon points="484.4,100.9 479.8,99.8 482.3,98.8 486.9,99.8" fill="#195de9" stroke="#103c98" stroke-width="0.4"/>
<polygon points="389.9,81.7 385.0,78.8 388.1,77.2 392.9,80.2" fill="#2ae9c2" stroke="#1c977e" stroke-width="0.4"/>
<polygon points="496.1,101.7 491.5,100.8 493.9,99.8 498.5,100.7" fill="#1652e8" stroke="#0e3697" stroke-width="0.4"/>
<polygon points="448.7,97.1 444.1,95.6 446.8,94.3 451.4,95.8" fill="#1e7fee" stroke="#14529b" stroke-width="0.4"/>
<polygon points="407.3,88.0 402.5,85.6 405.4,84.1 410.2,86.5" fill="#29cef3" stroke="#1b869e" stroke-width="0.4"/>
<polygon points="436.6,95.2 431.9,93.5 434.7,92.1 439.4,93.9" fill="#1e8cf0" stroke="#145b9c" stroke-width="0.4"/>
<polygon points="424.4,93.0 419.7,91.0 422.5,89.6 427.2,91.6" fill="#22a4f2" stroke="#166b9d" stroke-width="0.4"/>
<polygon points="394.7,84.5 389.9,81.7 392.9,80.2 397.7,83.0" fill="#2de6eb" stroke="#1d9699" stroke-width="0.4"/>
<polygon points="377.1,77.3 372.1,74.0 375.2,72.4 380.1,75.7" fill="#28e970" stroke="#1a9849" stroke-width="0.4"/>
<polygon points="412.0,90.3 407.3,88.0 410.2,86.5 414.9,88.8" fill="#27c1f4" stroke="#197e9e" stroke-width="0.4"/>
<polygon points="465.4,99.8 460.7,98.6 463.4,97.4 468.0,98.7" fill="#1e72ec" stroke="#144a99" stroke-width="0.4"/>
<polygon points="477.3,100.9 472.6,99.8 475.2,98.7 479.8,99.8" fill="#1c69ea" stroke="#124498" stroke-width="0.4"/>
<polygon points="453.4,98.5 448.7,97.1 451.4,95.8 456.1,97.3" fill="#1e7ced" stroke="#14509a" stroke-width="0.4"/>
<polygon points="489.1,101.8 484.4,100.9 486.9,99.8 491.5,100.8" fill="#195ee9" stroke="#103d98" stroke-width="0.4"/>
<polygon points="441.3,96.8 436.6,95.2 439.4,93.9 444.1,95.6" fill="#1e87ef" stroke="#14589b" stroke-width="0.4"/>
<polygon points="399.5,87.1 394.7,84.5 397.7,83.0 402.5,85.6" fill="#2bdbf1" stroke="#1c8f9d" stroke-width="0.4"/>
<polygon points="429.1,94.8 424.4,93.0 427.2,91.6 431.9,93.5" fill="#209af1" stroke="#15649d" stroke-width="0.4"/>
<polygon points="382.0,80.4 377.1,77.3 380.1,75.7 385.0,78.8" fill="#28eb92" stroke="#1a995f" stroke-width="0.4"/>
<polygon points="416.8,92.4 412.0,90.3 414.9,88.8 419.7,91.0" fill="#25b5f3" stroke="#18759e" stroke-width="0.4"/>
<polygon points="386.8,83.3 382.0,80.4 385.0,78.8 389.9,81.7" fill="#2ae9bc" stroke="#1b977a" stroke-width="0.4"/>
<polygon points="470.1,100.9 465.4,99.8 468.0,98.7 472.6,99.8" fill="#1e72ec" stroke="#144a99" stroke-width="0.4"/>
<polygon points="458.1,99.8 453.4,98.5 456.1,97.3 460.7,98.6" fill="#1e79ed" stroke="#144f9a" stroke-width="0.4"/>
<polygon points="481.9,101.9 477.3,100.9 479.8,99.8 484.4,100.9" fill="#1c69ea" stroke="#134498" stroke-width="0.4"/>
<polygon points="404.3,89.4 399.5,87.1 402.5,85.6 407.3,88.0" fill="#29d0f3" stroke="#1b879e" stroke-width="0.4"/>
<polygon points="446.0,98.3 441.3,96.8 444.1,95.6 448.7,97.1" fill="#1e83ef" stroke="#14559b" stroke-width="0.4"/>
<polygon points="493.7,102.7 489.1,101.8 491.5,100.8 496.1,101.7" fill="#1a5fea" stroke="#113e98" stroke-width="0.4"/>
<polygon points="433.9,96.5 429.1,94.8 431.9,93.5 436.6,95.2" fill="#1f92f0" stroke="#145f9c" stroke-width="0.4"/>
<polygon points="421.6,94.3 416.8,92.4 419.7,91.0 424.4,93.0" fill="#23a9f2" stroke="#176e9d" stroke-width="0.4"/>
<polygon points="391.7,86.0 386.8,83.3 389.9,81.7 394.7,84.5" fill="#2ce7e5" stroke="#1d9695" stroke-width="0.4"/>
<polygon points="373.9,78.9 369.0,75.7 372.1,74.0 377.1,77.3" fill="#28e96e" stroke="#1a9748" stroke-width="0.4"/>
<polygon points="409.1,91.7 404.3,89.4 407.3,88.0 412.0,90.3" fill="#28c6f4" stroke="#1a819f" stroke-width="0.4"/>
<polygon points="462.8,100.9 458.1,99.8 460.7,98.6 465.4,99.8" fill="#1e78ed" stroke="#144e9a" stroke-width="0.4"/>
<polygon points="474.7,102.0 470.1,100.9 472.6,99.8 477.3,100.9" fill="#1e71ec" stroke="#144a99" stroke-width="0.4"/>
<polygon points="450.7,99.7 446.0,98.3 448.7,97.1 453.4,98.5" fill="#1e81ee" stroke="#14549b" stroke-width="0.4"/>
<polygon points="486.6,102.8 481.9,101.9 484.4,100.9 489.1,101.8" fill="#1d6aeb" stroke="#134599" stroke-width="0.4"/>
<polygon points="438.6,98.1 433.9,96.5 436.6,95.2 441.3,96.8" fill="#1e8cf0" stroke="#145b9c" stroke-width="0.4"/>
<polygon points="378.9,82.0 373.9,78.9 377.1,77.3 382.0,80.4" fill="#28eb8f" stroke="#1a995d" stroke-width="0.4"/>
<polygon points="396.5,88.5 391.7,86.0 394.7,84.5 399.5,87.1" fill="#2cdef1" stroke="#1c909d" stroke-width="0.4"/>
<polygon points="426.3,96.1 421.6,94.3 424.4,93.0 429.1,94.8" fill="#21a0f1" stroke="#16689d" stroke-width="0.4"/>
<polygon points="413.9,93.7 409.1,91.7 412.0,90.3 416.8,92.4" fill="#26baf3" stroke="#18799e" stroke-width="0.4"/>
<polygon points="383.8,84.9 378.9,82.0 382.0,80.4 386.8,83.3" fill="#2ae9b7" stroke="#1b9877" stroke-width="0.4"/>
<polygon points="401.4,90.9 396.5,88.5 399.5,87.1 404.3,89.4" fill="#2ad3f3" stroke="#1b899e" stroke-width="0.4"/>
<polygon points="455.4,100.9 450.7,99.7 453.4,98.5 458.1,99.8" fill="#1e7fee" stroke="#14529b" stroke-width="0.4"/>
<polygon points="467.5,102.0 462.8,100.9 465.4,99.8 470.1,100.9" fill="#1e77ed" stroke="#144e9a" stroke-width="0.4"/>
<polygon points="443.3,99.5 438.6,98.1 441.3,96.8 446.0,98.3" fill="#1e88ef" stroke="#14599c" stroke-width="0.4"/>
<polygon points="479.4,102.9 474.7,102.0 477.3,100.9 481.9,101.9" fill="#1e72ec" stroke="#144a99" stroke-width="0.4"/>
<polygon points="491.2,103.7 486.6,102.8 489.1,101.8 493.7,102.7" fill="#1e6deb" stroke="#134799" stroke-width="0.4"/>
<polygon points="431.1,97.8 426.3,96.1 429.1,94.8 433.9,96.5" fill="#2099f1" stroke="#15639d" stroke-width="0.4"/>
<polygon points="418.7,95.7 413.9,93.7 416.8,92.4 421.6,94.3" fill="#24aff2" stroke="#17729e" stroke-width="0.4"/>
<polygon points="388.6,87.5 383.8,84.9 386.8,83.3 391.7,86.0" fill="#2ce7de" stroke="#1d9690" stroke-width="0.4"/>
<polygon points="370.8,80.6 365.8,77.3 369.0,75.7 373.9,78.9" fill="#28e96c" stroke="#1a9746" stroke-width="0.4"/>
<polygon points="406.2,93.1 401.4,90.9 404.3,89.4 409.1,91.7" fill="#28caf4" stroke="#1a839e" stroke-width="0.4"/>
<polygon points="460.1,102.1 455.4,100.9 458.1,99.8 462.8,100.9" fill="#1e7eee" stroke="#14529a" stroke-width="0.4"/>
<polygon points="448.0,100.8 443.3,99.5 446.0,98.3 450.7,99.7" fill="#1e86ef" stroke="#14579b" stroke-width="0.4"/>
<polygon points="472.1,103.0 467.5,102.0 470.1,100.9 474.7,102.0" fill="#1e77ed" stroke="#144e9a" stroke-width="0.4"/>
<polygon points="435.8,99.3 431.1,97.8 433.9,96.5 438.6,98.1" fill="#1f92f0" stroke="#145f9c" stroke-width="0.4"/>
<polygon points="484.1,103.8 479.4,102.9 481.9,101.9 486.6,102.8" fill="#1e73ec" stroke="#144a99" stroke-width="0.4"/>
<polygon points="375.7,83.6 370.8,80.6 373.9,78.9 378.9,82.0" fill="#28ea8b" stroke="#1a985b" stroke-width="0.4"/>
<polygon points="393.5,90.0 388.6,87.5 391.7,86.0 396.5,88.5" fill="#2ce0f1" stroke="#1d929c" stroke-width="0.4"/>
<polygon points="423.4,97.4 418.7,95.7 421.6,94.3 426.3,96.1" fill="#22a6f2" stroke="#166c9d" stroke-width="0.4"/>
<polygon points="411.0,95.1 406.2,93.1 409.1,91.7 413.9,93.7" fill="#27bff3" stroke="#197c9e" stroke-width="0.4"/>
<polygon points="380.7,86.4 375.7,83.6 378.9,82.0 383.8,84.9" fill="#29eab1" stroke="#1b9873" stroke-width="0.4"/>
<polygon points="398.3,92.4 393.5,90.0 396.5,88.5 401.4,90.9" fill="#2ad6f2" stroke="#1c8b9d" stroke-width="0.4"/>
<polygon points="452.7,102.1 448.0,100.8 450.7,99.7 455.4,100.9" fill="#1e84ef" stroke="#14569b" stroke-width="0.4"/>
<polygon points="464.8,103.1 460.1,102.1 462.8,100.9 467.5,102.0" fill="#1e7dee" stroke="#14519a" stroke-width="0.4"/>
<polygon points="440.5,100.7 435.8,99.3 438.6,98.1 443.3,99.5" fill="#1e8ef0" stroke="#145c9c" stroke-width="0.4"/>
<polygon points="476.8,104.0 472.1,103.0 474.7,102.0 479.4,102.9" fill="#1e78ed" stroke="#144e9a" stroke-width="0.4"/>
<polygon points="428.2,99.1 423.4,97.4 426.3,96.1 431.1,97.8" fill="#219ff1" stroke="#16679d" stroke-width="0.4"/>
<polygon points="488.8,104.6 484.1,103.8 486.6,102.8 491.2,103.7" fill="#1e74ec" stroke="#144b99" stroke-width="0.4"/>
<polygon points="415.8,97.0 411.0,95.1 413.9,93.7 418.7,95.7" fill="#25b5f3" stroke="#18769e" stroke-width="0.4"/>
<polygon points="385.6,89.1 380.7,86.4 383.8,84.9 388.6,87.5" fill="#2ce7d7" stroke="#1c968c" stroke-width="0.4"/>
<polygon points="367.6,82.2 362.6,79.0 365.8,77.3 370.8,80.6" fill="#28e969" stroke="#1a9744" stroke-width="0.4"/>
<polygon points="403.2,94.5 398.3,92.4 401.4,90.9 406.2,93.1" fill="#29cdf3" stroke="#1b859e" stroke-width="0.4"/>
<polygon points="457.5,103.2 452.7,102.1 455.4,100.9 460.1,102.1" fill="#1e83ef" stroke="#14559b" stroke-width="0.4"/>
<polygon points="445.3,102.0 440.5,100.7 443.3,99.5 448.0,100.8" fill="#1e8bf0" stroke="#145a9c" stroke-width="0.4"/>
<polygon points="372.6,85.2 367.6,82.2 370.8,80.6 375.7,83.6" fill="#28ea88" stroke="#1a9858" stroke-width="0.4"/>
<polygon points="469.5,104.1 464.8,103.1 467.5,102.0 472.1,103.0" fill="#1e7dee" stroke="#14529a" stroke-width="0.4"/>
<polygon points="433.0,100.6 428.2,99.1 431.1,97.8 435.8,99.3" fill="#209af1" stroke="#15649d" stroke-width="0.4"/>
<polygon points="390.4,91.5 385.6,89.1 388.6,87.5 393.5,90.0" fill="#2de3f0" stroke="#1d949c" stroke-width="0.4"/>
<polygon points="481.5,104.8 476.8,104.0 479.4,102.9 484.1,103.8" fill="#1e79ed" stroke="#144f9a" stroke-width="0.4"/>
<polygon points="420.6,98.8 415.8,97.0 418.7,95.7 423.4,97.4" fill="#23adf2" stroke="#17709d" stroke-width="0.4"/>
<polygon points="408.0,96.5 403.2,94.5 406.2,93.1 411.0,95.1" fill="#27c5f4" stroke="#1a809e" stroke-width="0.4"/>
<polygon points="377.5,88.0 372.6,85.2 375.7,83.6 380.7,86.4" fill="#29eaaa" stroke="#1b986f" stroke-width="0.4"/>
<polygon points="395.3,93.8 390.4,91.5 393.5,90.0 398.3,92.4" fill="#2bd9f2" stroke="#1c8d9d" stroke-width="0.4"/>
<polygon points="450.0,103.2 445.3,102.0 448.0,100.8 452.7,102.1" fill="#1e8af0" stroke="#14599c" stroke-width="0.4"/>
<polygon points="437.7,101.9 433.0,100.6 435.8,99.3 440.5,100.7" fill="#2095f1" stroke="#15619c" stroke-width="0.4"/>
<polygon points="462.2,104.2 457.5,103.2 460.1,102.1 464.8,103.1" fill="#1e83ef" stroke="#14559b" stroke-width="0.4"/>
<polygon points="474.3,105.0 469.5,104.1 472.1,103.0 476.8,104.0" fill="#1e7eee" stroke="#14529b" stroke-width="0.4"/>
<polygon points="425.4,100.4 420.6,98.8 423.4,97.4 428.2,99.1" fill="#22a6f2" stroke="#166c9d" stroke-width="0.4"/>
<polygon points="486.2,105.6 481.5,104.8 484.1,103.8 488.8,104.6" fill="#1e7bed" stroke="#14509a" stroke-width="0.4"/>
<polygon points="382.5,90.6 377.5,88.0 380.7,86.4 385.6,89.1" fill="#2be8cf" stroke="#1c9787" stroke-width="0.4"/>
<polygon points="364.4,83.8 359.4,80.7 362.6,79.0 367.6,82.2" fill="#28e966" stroke="#1a9742" stroke-width="0.4"/>
<polygon points="412.8,98.4 408.0,96.5 411.0,95.1 415.8,97.0" fill="#26bbf3" stroke="#197a9e" stroke-width="0.4"/>
<polygon points="400.2,95.9 395.3,93.8 398.3,92.4 403.2,94.5" fill="#29d1f3" stroke="#1b889e" stroke-width="0.4"/>
<polygon points="369.4,86.8 364.4,83.8 367.6,82.2 372.6,85.2" fill="#28ea84" stroke="#1a9856" stroke-width="0.4"/>
<polygon points="442.5,103.2 437.7,101.9 440.5,100.7 445.3,102.0" fill="#1f92f0" stroke="#145f9c" stroke-width="0.4"/>
<polygon points="454.8,104.3 450.0,103.2 452.7,102.1 457.5,103.2" fill="#1e89f0" stroke="#14599c" stroke-width="0.4"/>
<polygon points="387.4,93.0 382.5,90.6 385.6,89.1 390.4,91.5" fill="#2de6f0" stroke="#1d959c" stroke-width="0.4"/>
<polygon points="430.1,101.8 425.4,100.4 428.2,99.1 433.0,100.6" fill="#21a1f1" stroke="#16689d" stroke-width="0.4"/>
<polygon points="466.9,105.1 462.2,104.2 464.8,103.1 469.5,104.1" fill="#1e84ef" stroke="#14569b" stroke-width="0.4"/>
<polygon points="479.0,105.8 474.3,105.0 476.8,104.0 481.5,104.8" fill="#1e80ee" stroke="#14539b" stroke-width="0.4"/>
<polygon points="417.6,100.1 412.8,98.4 415.8,97.0 420.6,98.8" fill="#25b3f3" stroke="#18749e" stroke-width="0.4"/>
<polygon points="405.0,97.9 400.2,95.9 403.2,94.5 408.0,96.5" fill="#28c9f4" stroke="#1a839e" stroke-width="0.4"/>
<polygon points="374.4,89.5 369.4,86.8 372.6,85.2 377.5,88.0" fill="#29eaa4" stroke="#1b986b" stroke-width="0.4"/>
<polygon points="392.3,95.3 387.4,93.0 390.4,91.5 395.3,93.8" fill="#2bdcf1" stroke="#1c8f9d" stroke-width="0.4"/>
<polygon points="447.3,104.3 442.5,103.2 445.3,102.0 450.0,103.2" fill="#1f91f0" stroke="#145e9c" stroke-width="0.4"/>
<polygon points="434.9,103.2 430.1,101.8 433.0,100.6 437.7,101.9" fill="#219df1" stroke="#15669d" stroke-width="0.4"/>
<polygon points="459.5,105.3 454.8,104.3 457.5,103.2 462.2,104.2" fill="#1e89f0" stroke="#14599c" stroke-width="0.4"/>
<polygon points="422.5,101.6 417.6,100.1 420.6,98.8 425.4,100.4" fill="#23adf2" stroke="#17709d" stroke-width="0.4"/>
<polygon points="471.7,106.0 466.9,105.1 469.5,104.1 474.3,105.0" fill="#1e85ef" stroke="#14569b" stroke-width="0.4"/>
<polygon points="361.2,85.5 356.2,82.3 359.4,80.7 364.4,83.8" fill="#28e863" stroke="#1a9740" stroke-width="0.4"/>
<polygon points="379.3,92.1 374.4,89.5 377.5,88.0 382.5,90.6" fill="#2be8c8" stroke="#1c9782" stroke-width="0.4"/>
<polygon points="483.7,106.5 479.0,105.8 481.5,104.8 486.2,105.6" fill="#1e82ee" stroke="#14549b" stroke-width="0.4"/>
<polygon points="409.9,99.7 405.0,97.9 408.0,96.5 412.8,98.4" fill="#27c1f4" stroke="#197e9e" stroke-width="0.4"/>
<polygon points="397.1,97.4 392.3,95.3 395.3,93.8 400.2,95.9" fill="#2ad4f2" stroke="#1b8a9e" stroke-width="0.4"/>
<polygon points="366.2,88.4 361.2,85.5 364.4,83.8 369.4,86.8" fill="#28ea80" stroke="#1a9854" stroke-width="0.4"/>
<polygon points="384.3,94.5 379.3,92.1 382.5,90.6 387.4,93.0" fill="#2de6e7" stroke="#1d9696" stroke-width="0.4"/>
<polygon points="439.7,104.4 434.9,103.2 437.7,101.9 442.5,103.2" fill="#209bf1" stroke="#15649d" stroke-width="0.4"/>
<polygon points="452.0,105.4 447.3,104.3 450.0,103.2 454.8,104.3" fill="#1f90f0" stroke="#145e9c" stroke-width="0.4"/>
<polygon points="427.3,103.1 422.5,101.6 425.4,100.4 430.1,101.8" fill="#23a8f2" stroke="#176d9d" stroke-width="0.4"/>
<polygon points="464.3,106.2 459.5,105.3 462.2,104.2 466.9,105.1" fill="#1e8af0" stroke="#145a9c" stroke-width="0.4"/>
<polygon points="414.7,101.4 409.9,99.7 412.8,98.4 417.6,100.1" fill="#26baf3" stroke="#18799e" stroke-width="0.4"/>
<polygon points="476.4,106.8 471.7,106.0 474.3,105.0 479.0,105.8" fill="#1e86ef" stroke="#14579b" stroke-width="0.4"/>
<polygon points="402.0,99.3 397.1,97.4 400.2,95.9 405.0,97.9" fill="#29cdf3" stroke="#1b859e" stroke-width="0.4"/>
<polygon points="371.2,91.1 366.2,88.4 369.4,86.8 374.4,89.5" fill="#28eb9d" stroke="#1a9866" stroke-width="0.4"/>
<polygon points="389.2,96.7 384.3,94.5 387.4,93.0 392.3,95.3" fill="#2ce0f1" stroke="#1d919d" stroke-width="0.4"/>
<polygon points="444.5,105.5 439.7,104.4 442.5,103.2 447.3,104.3" fill="#2099f1" stroke="#15649d" stroke-width="0.4"/>
<polygon points="432.1,104.4 427.3,103.1 430.1,101.8 434.9,103.2" fill="#22a5f2" stroke="#166b9d" stroke-width="0.4"/>
<polygon points="456.8,106.3 452.0,105.4 454.8,104.3 459.5,105.3" fill="#1f91f0" stroke="#145e9c" stroke-width="0.4"/>
<polygon points="419.5,102.9 414.7,101.4 417.6,100.1 422.5,101.6" fill="#25b4f3" stroke="#18759e" stroke-width="0.4"/>
<polygon points="357.9,87.1 352.9,84.0 356.2,82.3 361.2,85.5" fill="#28e860" stroke="#1a973e" stroke-width="0.4"/>
<polygon points="376.2,93.7 371.2,91.1 374.4,89.5 379.3,92.1" fill="#2ae9c0" stroke="#1c977d" stroke-width="0.4"/>
<polygon points="469.0,107.0 464.3,106.2 466.9,105.1 471.7,106.0" fill="#1e8bf0" stroke="#145b9c" stroke-width="0.4"/>
<polygon points="406.9,101.1 402.0,99.3 405.0,97.9 409.9,99.7" fill="#28c7f4" stroke="#1a829f" stroke-width="0.4"/>
<polygon points="481.2,107.5 476.4,106.8 479.0,105.8 483.7,106.5" fill="#1e88ef" stroke="#14599c" stroke-width="0.4"/>
<polygon points="394.1,98.8 389.2,96.7 392.3,95.3 397.1,97.4" fill="#2bd8f2" stroke="#1c8c9d" stroke-width="0.4"/>
<polygon points="363.0,90.0 357.9,87.1 361.2,85.5 366.2,88.4" fill="#28ea7c" stroke="#1a9851" stroke-width="0.4"/>
<polygon points="381.1,96.0 376.2,93.7 379.3,92.1 384.3,94.5" fill="#2ce7de" stroke="#1d9691" stroke-width="0.4"/>
<polygon points="436.9,105.5 432.1,104.4 434.9,103.2 439.7,104.4" fill="#22a3f2" stroke="#166a9d" stroke-width="0.4"/>
<polygon points="424.4,104.3 419.5,102.9 422.5,101.6 427.3,103.1" fill="#24b0f2" stroke="#17729e" stroke-width="0.4"/>
<polygon points="449.3,106.5 444.5,105.5 447.3,104.3 452.0,105.4" fill="#2099f1" stroke="#15649d" stroke-width="0.4"/>
<polygon points="461.6,107.2 456.8,106.3 459.5,105.3 464.3,106.2" fill="#1f93f0" stroke="#145f9c" stroke-width="0.4"/>
<polygon points="411.7,102.7 406.9,101.1 409.9,99.7 414.7,101.4" fill="#27c0f3" stroke="#197d9e" stroke-width="0.4"/>
<polygon points="473.8,107.7 469.0,107.0 471.7,106.0 476.4,106.8" fill="#1e8ef0" stroke="#145c9c" stroke-width="0.4"/>
<polygon points="399.0,100.7 394.1,98.8 397.1,97.4 402.0,99.3" fill="#2ad1f3" stroke="#1b889e" stroke-width="0.4"/>
<polygon points="368.0,92.7 363.0,90.0 366.2,88.4 371.2,91.1" fill="#28eb96" stroke="#1a9961" stroke-width="0.4"/>
<polygon points="386.1,98.2 381.1,96.0 384.3,94.5 389.2,96.7" fill="#2de3f0" stroke="#1d949c" stroke-width="0.4"/>
<polygon points="354.6,88.8 349.6,85.7 352.9,84.0 357.9,87.1" fill="#28e85c" stroke="#1a973c" stroke-width="0.4"/>
<polygon points="429.2,105.6 424.4,104.3 427.3,103.1 432.1,104.4" fill="#23adf2" stroke="#17709d" stroke-width="0.4"/>
<polygon points="441.7,106.6 436.9,105.5 439.7,104.4 444.5,105.5" fill="#22a2f1" stroke="#16699d" stroke-width="0.4"/>
<polygon points="373.0,95.2 368.0,92.7 371.2,91.1 376.2,93.7" fill="#2ae9b8" stroke="#1b9877" stroke-width="0.4"/>
<polygon points="416.6,104.2 411.7,102.7 414.7,101.4 419.5,102.9" fill="#26bbf3" stroke="#197a9e" stroke-width="0.4"/>
<polygon points="454.1,107.4 449.3,106.5 452.0,105.4 456.8,106.3" fill="#209af1" stroke="#15649d" stroke-width="0.4"/>
<polygon points="466.4,108.0 461.6,107.2 464.3,106.2 469.0,107.0" fill="#1f95f1" stroke="#14619c" stroke-width="0.4"/>
<polygon points="403.9,102.4 399.0,100.7 402.0,99.3 406.9,101.1" fill="#29ccf3" stroke="#1a849e" stroke-width="0.4"/>
<polygon points="478.6,108.4 473.8,107.7 476.4,106.8 481.2,107.5" fill="#1f91f0" stroke="#145e9c" stroke-width="0.4"/>
<polygon points="391.0,100.2 386.1,98.2 389.2,96.7 394.1,98.8" fill="#2bdcf1" stroke="#1c8f9d" stroke-width="0.4"/>
<polygon points="359.7,91.6 354.6,88.8 357.9,87.1 363.0,90.0" fill="#28ea78" stroke="#1a984e" stroke-width="0.4"/>
<polygon points="377.9,97.5 373.0,95.2 376.2,93.7 381.1,96.0" fill="#2ce7d5" stroke="#1c968b" stroke-width="0.4"/>
<polygon points="434.0,106.7 429.2,105.6 432.1,104.4 436.9,105.5" fill="#23abf2" stroke="#176f9d" stroke-width="0.4"/>
<polygon points="421.4,105.5 416.6,104.2 419.5,102.9 424.4,104.3" fill="#25b7f3" stroke="#18779e" stroke-width="0.4"/>
<polygon points="446.5,107.6 441.7,106.6 444.5,105.5 449.3,106.5" fill="#22a2f1" stroke="#166a9d" stroke-width="0.4"/>
<polygon points="408.7,104.0 403.9,102.4 406.9,101.1 411.7,102.7" fill="#28c7f4" stroke="#1a829f" stroke-width="0.4"/>
<polygon points="458.9,108.2 454.1,107.4 456.8,106.3 461.6,107.2" fill="#219cf1" stroke="#15669d" stroke-width="0.4"/>
<polygon points="364.7,94.3 359.7,91.6 363.0,90.0 368.0,92.7" fill="#28eb91" stroke="#1a995e" stroke-width="0.4"/>
<polygon points="395.9,102.1 391.0,100.2 394.1,98.8 399.0,100.7" fill="#2ad5f2" stroke="#1b8b9d" stroke-width="0.4"/>
<polygon points="471.2,108.7 466.4,108.0 469.0,107.0 473.8,107.7" fill="#2098f1" stroke="#15639d" stroke-width="0.4"/>
<polygon points="382.9,99.7 377.9,97.5 381.1,96.0 386.1,98.2" fill="#2de6ef" stroke="#1d969b" stroke-width="0.4"/>
<polygon points="369.7,96.7 364.7,94.3 368.0,92.7 373.0,95.2" fill="#29eaaf" stroke="#1b9872" stroke-width="0.4"/>
<polygon points="426.3,106.8 421.4,105.5 424.4,104.3 429.2,105.6" fill="#25b5f3" stroke="#18769e" stroke-width="0.4"/>
<polygon points="438.9,107.8 434.0,106.7 436.9,105.5 441.7,106.6" fill="#23abf2" stroke="#176f9d" stroke-width="0.4"/>
<polygon points="413.6,105.5 408.7,104.0 411.7,102.7 416.6,104.2" fill="#27c2f4" stroke="#197e9e" stroke-width="0.4"/>
<polygon points="451.3,108.5 446.5,107.6 449.3,106.5 454.1,107.4" fill="#22a4f2" stroke="#166a9d" stroke-width="0.4"/>
<polygon points="400.8,103.8 395.9,102.1 399.0,100.7 403.9,102.4" fill="#29d0f3" stroke="#1b879e" stroke-width="0.4"/>
<polygon points="463.7,109.0 458.9,108.2 461.6,107.2 466.4,108.0" fill="#219ff1" stroke="#16679d" stroke-width="0.4"/>
<polygon points="387.9,101.7 382.9,99.7 386.1,98.2 391.0,100.2" fill="#2cdff1" stroke="#1d919d" stroke-width="0.4"/>
<polygon points="476.0,109.4 471.2,108.7 473.8,107.7 478.6,108.4" fill="#219cf1" stroke="#15659d" stroke-width="0.4"/>
<polygon points="374.7,99.0 369.7,96.7 373.0,95.2 377.9,97.5" fill="#2be8cc" stroke="#1c9784" stroke-width="0.4"/>
<polygon points="418.5,106.8 413.6,105.5 416.6,104.2 421.4,105.5" fill="#27bff3" stroke="#197c9e" stroke-width="0.4"/>
<polygon points="431.1,107.9 426.3,106.8 429.2,105.6 434.0,106.7" fill="#25b4f3" stroke="#18759e" stroke-width="0.4"/>
<polygon points="443.7,108.7 438.9,107.8 441.7,106.6 446.5,107.6" fill="#23acf2" stroke="#17709d" stroke-width="0.4"/>
<polygon points="405.7,105.3 400.8,103.8 403.9,102.4 408.7,104.0" fill="#29ccf3" stroke="#1a859e" stroke-width="0.4"/>
<polygon points="456.1,109.3 451.3,108.5 454.1,107.4 458.9,108.2" fill="#22a6f2" stroke="#166c9d" stroke-width="0.4"/>
<polygon points="392.8,103.5 387.9,101.7 391.0,100.2 395.9,102.1" fill="#2bd9f2" stroke="#1c8d9d" stroke-width="0.4"/>
<polygon points="468.5,109.7 463.7,109.0 466.4,108.0 471.2,108.7" fill="#22a3f2" stroke="#166a9d" stroke-width="0.4"/>
<polygon points="379.7,101.1 374.7,99.0 377.9,97.5 382.9,99.7" fill="#2ce7e4" stroke="#1d9694" stroke-width="0.4"/>
<polygon points="423.4,108.0 418.5,106.8 421.4,105.5 426.3,106.8" fill="#26bdf3" stroke="#197b9e" stroke-width="0.4"/>
<polygon points="410.6,106.7 405.7,105.3 408.7,104.0 413.6,105.5" fill="#28c9f4" stroke="#1a839e" stroke-width="0.4"/>
<polygon points="436.0,108.9 431.1,107.9 434.0,106.7 438.9,107.8" fill="#25b4f3" stroke="#18759e" stroke-width="0.4"/>
<polygon points="448.5,109.5 443.7,108.7 446.5,107.6 451.3,108.5" fill="#24adf2" stroke="#17719d" stroke-width="0.4"/>
<polygon points="397.7,105.1 392.8,103.5 395.9,102.1 400.8,103.8" fill="#2ad5f2" stroke="#1b8a9e" stroke-width="0.4"/>
<polygon points="461.0,110.0 456.1,109.3 458.9,108.2 463.7,109.0" fill="#23a9f2" stroke="#176e9d" stroke-width="0.4"/>
<polygon points="384.7,103.1 379.7,101.1 382.9,99.7 387.9,101.7" fill="#2de3f0" stroke="#1d949c" stroke-width="0.4"/>
<polygon points="473.3,110.3 468.5,109.7 471.2,108.7 476.0,109.4" fill="#22a7f2" stroke="#166c9d" stroke-width="0.4"/>
<polygon points="415.5,108.0 410.6,106.7 413.6,105.5 418.5,106.8" fill="#28c7f4" stroke="#1a819f" stroke-width="0.4"/>
<polygon points="428.2,109.0 423.4,108.0 426.3,106.8 431.1,107.9" fill="#26bcf3" stroke="#197a9e" stroke-width="0.4"/>
<polygon points="402.6,106.6 397.7,105.1 400.8,103.8 405.7,105.3" fill="#29d1f3" stroke="#1b889e" stroke-width="0.4"/>
<polygon points="440.9,109.8 436.0,108.9 438.9,107.8 443.7,108.7" fill="#25b5f3" stroke="#18769e" stroke-width="0.4"/>
<polygon points="389.7,104.9 384.7,103.1 387.9,101.7 392.8,103.5" fill="#2cdef1" stroke="#1c909d" stroke-width="0.4"/>
<polygon points="453.4,110.3 448.5,109.5 451.3,108.5 456.1,109.3" fill="#24b0f2" stroke="#17729e" stroke-width="0.4"/>
<polygon points="465.8,110.6 461.0,110.0 463.7,109.0 468.5,109.7" fill="#24adf2" stroke="#17719d" stroke-width="0.4"/>
<polygon points="420.4,109.2 415.5,108.0 418.5,106.8 423.4,108.0" fill="#28c5f4" stroke="#1a809e" stroke-width="0.4"/>
<polygon points="407.6,108.0 402.6,106.6 405.7,105.3 410.6,106.7" fill="#29cef3" stroke="#1b869e" stroke-width="0.4"/>
<polygon points="433.1,110.0 428.2,109.0 431.1,107.9 436.0,108.9" fill="#26bdf3" stroke="#197b9e" stroke-width="0.4"/>
<polygon points="394.6,106.5 389.7,104.9 392.8,103.5 397.7,105.1" fill="#2bd9f2" stroke="#1c8d9d" stroke-width="0.4"/>
<polygon points="445.7,110.6 440.9,109.8 443.7,108.7 448.5,109.5" fill="#25b7f3" stroke="#18779e" stroke-width="0.4"/>
<polygon points="458.2,111.0 453.4,110.3 456.1,109.3 461.0,110.0" fill="#25b4f3" stroke="#18759e" stroke-width="0.4"/>
<polygon points="470.6,111.2 465.8,110.6 468.5,109.7 473.3,110.3" fill="#24b2f3" stroke="#18749e" stroke-width="0.4"/>
<polygon points="412.5,109.3 407.6,108.0 410.6,106.7 415.5,108.0" fill="#29cdf3" stroke="#1b859e" stroke-width="0.4"/>
<polygon points="425.3,110.2 420.4,109.2 423.4,108.0 428.2,109.0" fill="#28c5f4" stroke="#1a809e" stroke-width="0.4"/>
<polygon points="399.6,108.0 394.6,106.5 397.7,105.1 402.6,106.6" fill="#2ad6f2" stroke="#1b8b9d" stroke-width="0.4"/>
<polygon points="438.0,110.9 433.1,110.0 436.0,108.9 440.9,109.8" fill="#26bff3" stroke="#197c9e" stroke-width="0.4"/>
<polygon points="450.6,111.3 445.7,110.6 448.5,109.5 453.4,110.3" fill="#26baf3" stroke="#19799e" stroke-width="0.4"/>
<polygon points="463.1,111.6 458.2,111.0 461.0,110.0 465.8,110.6" fill="#25b8f3" stroke="#18789e" stroke-width="0.4"/>
<polygon points="404.5,109.3 399.6,108.0 402.6,106.6 407.6,108.0" fill="#2ad4f2" stroke="#1b899e" stroke-width="0.4"/>
<polygon points="417.4,110.4 412.5,109.3 415.5,108.0 420.4,109.2" fill="#29ccf3" stroke="#1a859e" stroke-width="0.4"/>
<polygon points="430.2,111.1 425.3,110.2 428.2,109.0 433.1,110.0" fill="#28c6f4" stroke="#1a819f" stroke-width="0.4"/>
<polygon points="442.9,111.6 438.0,110.9 440.9,109.8 445.7,110.6" fill="#27c1f4" stroke="#197e9e" stroke-width="0.4"/>
<polygon points="455.5,111.9 450.6,111.3 453.4,110.3 458.2,111.0" fill="#26bef3" stroke="#197c9e" stroke-width="0.4"/>
<polygon points="467.9,112.1 463.1,111.6 465.8,110.6 470.6,111.2" fill="#26bdf3" stroke="#197b9e" stroke-width="0.4"/>
<polygon points="409.4,110.5 404.5,109.3 407.6,108.0 412.5,109.3" fill="#2ad2f3" stroke="#1b899e" stroke-width="0.4"/>
<polygon points="422.3,111.4 417.4,110.4 420.4,109.2 425.3,110.2" fill="#29ccf3" stroke="#1a859e" stroke-width="0.4"/>
<polygon points="435.1,111.9 430.2,111.1 433.1,110.0 438.0,110.9" fill="#28c8f4" stroke="#1a829f" stroke-width="0.4"/>
<polygon points="447.8,112.3 442.9,111.6 445.7,110.6 450.6,111.3" fill="#27c5f4" stroke="#1a809e" stroke-width="0.4"/>
<polygon points="460.3,112.5 455.5,111.9 458.2,111.0 463.1,111.6" fill="#27c3f4" stroke="#197f9e" stroke-width="0.4"/>
<polygon points="414.4,111.6 409.4,110.5 412.5,109.3 417.4,110.4" fill="#2ad2f3" stroke="#1b889e" stroke-width="0.4"/>
<polygon points="427.2,112.2 422.3,111.4 425.3,110.2 430.2,111.1" fill="#29cdf3" stroke="#1b859e" stroke-width="0.4"/>
<polygon points="440.0,112.7 435.1,111.9 438.0,110.9 442.9,111.6" fill="#28caf4" stroke="#1a839e" stroke-width="0.4"/>
<polygon points="452.7,112.9 447.8,112.3 450.6,111.3 455.5,111.9" fill="#28c9f4" stroke="#1a829f" stroke-width="0.4"/>
<polygon points="465.2,113.0 460.3,112.5 463.1,111.6 467.9,112.1" fill="#28c8f4" stroke="#1a829f" stroke-width="0.4"/>
<polygon points="419.3,112.5 414.4,111.6 417.4,110.4 422.3,111.4" fill="#2ad2f3" stroke="#1b899e" stroke-width="0.4"/>
<polygon points="432.2,113.0 427.2,112.2 430.2,111.1 435.1,111.9" fill="#29cff3" stroke="#1b869e" stroke-width="0.4"/>
<polygon points="444.9,113.3 440.0,112.7 442.9,111.6 447.8,112.3" fill="#29cdf3" stroke="#1b859e" stroke-width="0.4"/>
<polygon points="457.6,113.4 452.7,112.9 455.5,111.9 460.3,112.5" fill="#29ccf3" stroke="#1a859e" stroke-width="0.4"/>
<polygon points="424.3,113.3 419.3,112.5 422.3,111.4 427.2,112.2" fill="#2ad3f2" stroke="#1b899e" stroke-width="0.4"/>
<polygon points="437.1,113.7 432.2,113.0 435.1,111.9 440.0,112.7" fill="#29d1f3" stroke="#1b889e" stroke-width="0.4"/>
<polygon points="449.8,113.9 444.9,113.3 447.8,112.3 452.7,112.9" fill="#29d0f3" stroke="#1b879e" stroke-width="0.4"/>
<polygon points="462.5,113.9 457.6,113.4 460.3,112.5 465.2,113.0" fill="#29d0f3" stroke="#1b879e" stroke-width="0.4"/>
<polygon points="429.2,114.1 424.3,113.3 427.2,112.2 432.2,113.0" fill="#2ad5f2" stroke="#1b8b9d" stroke-width="0.4"/>
<polygon points="442.0,114.3 437.1,113.7 440.0,112.7 444.9,113.3" fill="#2ad4f2" stroke="#1b8a9e" stroke-width="0.4"/>
<polygon points="454.8,114.4 449.8,113.9 452.7,112.9 457.6,113.4" fill="#2ad3f2" stroke="#1b899e" stroke-width="0.4"/>
<polygon points="434.2,114.7 429.2,114.1 432.2,113.0 437.1,113.7" fill="#2bd8f2" stroke="#1c8c9d" stroke-width="0.4"/>
<polygon points="447.0,114.8 442.0,114.3 444.9,113.3 449.8,113.9" fill="#2bd7f2" stroke="#1c8c9d" stroke-width="0.4"/>
<polygon points="459.7,114.8 454.8,114.4 457.6,113.4 462.5,113.9" fill="#2bd7f2" stroke="#1c8c9d" stroke-width="0.4"/>
<polygon points="439.1,115.3 434.2,114.7 437.1,113.7 442.0,114.3" fill="#2bdbf1" stroke="#1c8e9d" stroke-width="0.4"/>
<polygon points="451.9,115.3 447.0,114.8 449.8,113.9 454.8,114.4" fill="#2bdbf1" stroke="#1c8e9d" stroke-width="0.4"/>
<polygon points="444.1,115.8 439.1,115.3 442.0,114.3 447.0,114.8" fill="#2cdef1" stroke="#1c919d" stroke-width="0.4"/>
<polygon points="456.9,115.7 451.9,115.3 454.8,114.4 459.7,114.8" fill="#2cdff1" stroke="#1c919d" stroke-width="0.4"/>
<polygon points="449.1,116.2 444.1,115.8 447.0,114.8 451.9,115.3" fill="#2ce2f0" stroke="#1d939c" stroke-width="0.4"/>
<polygon points="454.0,116.5 449.1,116.2 451.9,115.3 456.9,115.7" fill="#2de6ee" stroke="#1d969a" stroke-width="0.4"/>
<path d="M431.7 85.1V90.1" stroke="#3a5a8a" stroke-width="0.45"/>
<circle cx="431.7" cy="85.1" r="1.65" fill="#c40000" stroke="#800" stroke-width="0.5"/>
<circle cx="352.1" cy="120.7" r="0.85" fill="#111"/>
<circle cx="351.1" cy="106.8" r="0.85" fill="#111"/>
<circle cx="350.1" cy="92.8" r="0.85" fill="#111"/>
<circle cx="349.1" cy="78.8" r="0.85" fill="#111"/>
<circle cx="348.0" cy="64.9" r="0.85" fill="#111"/>
<circle cx="347.0" cy="50.9" r="0.85" fill="#111"/>
<circle cx="346.0" cy="36.9" r="0.85" fill="#111"/>
<circle cx="354.1" cy="148.0" r="0.85" fill="#111"/>
<circle cx="374.0" cy="153.6" r="0.85" fill="#111"/>
<circle cx="394.0" cy="159.2" r="0.85" fill="#111"/>
<circle cx="414.0" cy="164.9" r="0.85" fill="#111"/>
<circle cx="434.1" cy="170.6" r="0.85" fill="#111"/>
<circle cx="454.2" cy="176.3" r="0.85" fill="#111"/>
<circle cx="454.2" cy="176.3" r="0.85" fill="#111"/>
<circle cx="465.4" cy="166.0" r="0.85" fill="#111"/>
<circle cx="476.2" cy="156.0" r="0.85" fill="#111"/>
<circle cx="486.6" cy="146.5" r="0.85" fill="#111"/>
<circle cx="496.7" cy="137.3" r="0.85" fill="#111"/>
<circle cx="506.4" cy="128.4" r="0.85" fill="#111"/>
<text x="346.1" y="123.0" text-anchor="middle" font-size="5.98" font-family="Liberation Serif, serif" font-weight="bold" fill="#1c2436" stroke="#1c2436" stroke-width="0.3" textLength="2.84" lengthAdjust="spacingAndGlyphs">1</text>
<text x="344.3" y="109.0" text-anchor="middle" font-size="5.98" font-family="Liberation Serif, serif" font-weight="bold" fill="#1c2436" stroke="#1c2436" stroke-width="0.3" textLength="7.11" lengthAdjust="spacingAndGlyphs">1.5</text>
<text x="344.1" y="95.1" text-anchor="middle" font-size="5.98" font-family="Liberation Serif, serif" font-weight="bold" fill="#1c2436" stroke="#1c2436" stroke-width="0.3" textLength="2.84" lengthAdjust="spacingAndGlyphs">2</text>
<text x="342.2" y="81.1" text-anchor="middle" font-size="5.98" font-family="Liberation Serif, serif" font-weight="bold" fill="#1c2436" stroke="#1c2436" stroke-width="0.3" textLength="7.11" lengthAdjust="spacingAndGlyphs">2.5</text>
<text x="342.0" y="67.1" text-anchor="middle" font-size="5.98" font-family="Liberation Serif, serif" font-weight="bold" fill="#1c2436" stroke="#1c2436" stroke-width="0.3" textLength="2.84" lengthAdjust="spacingAndGlyphs">3</text>
<text x="340.2" y="53.2" text-anchor="middle" font-size="5.98" font-family="Liberation Serif, serif" font-weight="bold" fill="#1c2436" stroke="#1c2436" stroke-width="0.3" textLength="7.11" lengthAdjust="spacingAndGlyphs">3.5</text>
<text x="340.0" y="39.2" text-anchor="middle" font-size="5.98" font-family="Liberation Serif, serif" font-weight="bold" fill="#1c2436" stroke="#1c2436" stroke-width="0.3" textLength="2.84" lengthAdjust="spacingAndGlyphs">4</text>
<text x="347.3" y="150.8" text-anchor="middle" font-size="6.80" font-family="Liberation Serif, serif" font-weight="bold" fill="#1c2436" stroke="#1c2436" stroke-width="0.3" textLength="8.07" lengthAdjust="spacingAndGlyphs">7.5</text>
<text x="371.8" y="159.1" text-anchor="middle" font-size="6.80" font-family="Liberation Serif, serif" font-weight="bold" fill="#1c2436" stroke="#1c2436" stroke-width="0.3" textLength="8.07" lengthAdjust="spacingAndGlyphs">7.3</text>
<text x="393.2" y="165.4" text-anchor="middle" font-size="6.80" font-family="Liberation Serif, serif" font-weight="bold" fill="#1c2436" stroke="#1c2436" stroke-width="0.3" textLength="8.07" lengthAdjust="spacingAndGlyphs">7.1</text>
<text x="414.5" y="171.3" text-anchor="middle" font-size="6.80" font-family="Liberation Serif, serif" font-weight="bold" fill="#1c2436" stroke="#1c2436" stroke-width="0.3" textLength="8.07" lengthAdjust="spacingAndGlyphs">6.9</text>
<text x="431.8" y="178.2" text-anchor="middle" font-size="6.80" font-family="Liberation Serif, serif" font-weight="bold" fill="#1c2436" stroke="#1c2436" stroke-width="0.3" textLength="8.07" lengthAdjust="spacingAndGlyphs">6.7</text>
<text x="448.9" y="181.5" text-anchor="middle" font-size="6.80" font-family="Liberation Serif, serif" font-weight="bold" fill="#1c2436" stroke="#1c2436" stroke-width="0.3" textLength="8.07" lengthAdjust="spacingAndGlyphs">6.5</text>
<text x="460.6" y="181.2" text-anchor="middle" font-size="6.80" font-family="Liberation Serif, serif" font-weight="bold" fill="#1c2436" stroke="#1c2436" stroke-width="0.3" textLength="6.46" lengthAdjust="spacingAndGlyphs">35</text>
<text x="471.9" y="170.9" text-anchor="middle" font-size="6.80" font-family="Liberation Serif, serif" font-weight="bold" fill="#1c2436" stroke="#1c2436" stroke-width="0.3" textLength="6.46" lengthAdjust="spacingAndGlyphs">37</text>
<text x="483.0" y="161.0" text-anchor="middle" font-size="6.80" font-family="Liberation Serif, serif" font-weight="bold" fill="#1c2436" stroke="#1c2436" stroke-width="0.3" textLength="6.46" lengthAdjust="spacingAndGlyphs">39</text>
<text x="491.0" y="153.1" text-anchor="middle" font-size="6.80" font-family="Liberation Serif, serif" font-weight="bold" fill="#1c2436" stroke="#1c2436" stroke-width="0.3" textLength="6.46" lengthAdjust="spacingAndGlyphs">41</text>
<text x="499.7" y="142.6" text-anchor="middle" font-size="6.80" font-family="Liberation Serif, serif" font-weight="bold" fill="#1c2436" stroke="#1c2436" stroke-width="0.3" textLength="6.46" lengthAdjust="spacingAndGlyphs">43</text>
<text x="510.5" y="131.7" text-anchor="middle" font-size="6.80" font-family="Liberation Serif, serif" font-weight="bold" fill="#1c2436" stroke="#1c2436" stroke-width="0.3" textLength="6.46" lengthAdjust="spacingAndGlyphs">45</text>
<text x="392.3" y="186" transform="rotate(19.6 392.3 186)" text-anchor="middle" dominant-baseline="central" font-size="6.5" font-family="Liberation Serif, serif" font-weight="bold" fill="#1c2a48" stroke="#1c2a48" stroke-width="0.25" textLength="57" lengthAdjust="spacingAndGlyphs">Spray Distance (inch)</text>
<text x="514.7" y="168.4" transform="rotate(-49.6 514.7 168.4)" text-anchor="middle" dominant-baseline="central" font-size="6.5" font-family="Liberation Serif, serif" font-weight="bold" fill="#1c2a48" stroke="#1c2a48" stroke-width="0.25" textLength="70" lengthAdjust="spacingAndGlyphs">Powder Feed Rate (gm/min)</text>
<text x="314.3" y="91.6" transform="rotate(-90 314.3 91.6)" text-anchor="middle" dominant-baseline="central" font-size="8.3" font-family="Liberation Serif, serif" font-weight="bold" fill="#223355" textLength="50" lengthAdjust="spacingAndGlyphs">Porosity (vol%)</text>
<text x="425.9" y="224.3" text-anchor="middle" font-size="15" font-family="Liberation Serif, serif" fill="#111">(<tspan font-weight="bold">b</tspan>)</text>
<path d="M60.5 361.0L54.3 274.8M73.8 348.7L68.9 264.7M86.5 336.8L83.1 255.0M98.9 325.4L96.9 245.8M132.2 320.5L133.0 241.5M153.6 326.7L155.8 246.0M175.3 332.9L178.8 250.6M197.1 339.1L202.0 255.2M111.0 338.3L110.3 237.0M217.1 371.8L225.4 259.9" stroke="#a6a6a6" stroke-width="0.9" fill="none"/>
<path d="M46.8 373.7L110.8 314.4M110.8 314.4L219.1 345.4M45.5 359.0L110.7 301.5M110.7 301.5L220.1 331.2M44.3 344.3L110.6 288.6M110.6 288.6L221.2 316.9M43.0 329.6L110.5 275.7M110.5 275.7L222.2 302.6M41.7 314.8L110.5 262.8M110.5 262.8L223.3 288.4M40.4 300.1L110.4 249.9M110.4 249.9L224.3 274.1M39.2 285.4L110.3 237.0M110.3 237.0L225.4 259.9" stroke="#6c6c6c" stroke-width="0.7" fill="none"/>
<path d="M49.2 401.0L39.2 285.4" stroke="#8c8c8c" stroke-width="0.85"/>
<polygon points="164.1,439.0 49.2,401.0 111.0,338.3 217.1,371.8" fill="#646464"/>
<polyline points="127.3,343.5 127.1,344.0 126.6,345.1 126.4,346.0 126.1,346.9 125.8,347.7 125.6,348.6 125.5,349.3 125.3,350.4 125.2,351.0 125.0,352.2 124.9,352.9 124.9,353.5 124.8,354.8 124.8,355.4 124.8,356.1 124.8,357.3 124.8,358.0 124.9,358.7 124.9,359.6 125.1,360.7 125.1,361.4 125.2,362.1 125.4,362.9 125.6,363.9 125.8,364.9 125.9,365.6 126.1,366.4 126.3,367.1 126.5,367.9 126.8,368.8 127.1,369.8 127.5,370.7 127.8,371.6 128.1,372.4 128.5,373.2 128.9,374.0 129.3,374.8 129.7,375.6 130.2,376.4 130.7,377.3 131.2,378.1 131.7,378.9 132.3,379.6 132.8,380.3 133.4,381.0 134.1,381.8 135.0,382.8 135.8,383.5 136.5,384.1 137.5,384.9 138.6,385.8 139.3,386.2 140.9,387.2 142.4,387.9 143.4,388.3 145.2,389.0 147.1,389.5 148.1,389.7 150.2,390.0 151.5,390.2 153.5,390.2 154.7,390.2 156.0,390.2 157.5,390.0 159.1,389.8 160.5,389.6 161.8,389.3 163.0,389.0 164.2,388.7 165.8,388.3 167.4,387.8 168.6,387.4 169.6,387.0 170.7,386.6 172.4,385.9 173.3,385.5 174.4,385.0 175.8,384.3 176.7,383.9 178.3,383.0 179.1,382.6 180.5,381.8 181.3,381.3 182.8,380.5 183.5,380.0 184.8,379.1 185.5,378.7 186.8,377.8 187.9,377.0 188.7,376.4 189.9,375.5 191.1,374.6 191.7,374.1 192.8,373.1 193.9,372.2 194.9,371.2 195.4,370.7 196.4,369.7 197.3,368.8 198.2,367.8 199.1,366.8 199.5,366.2" fill="none" stroke="#3a6ab8" stroke-width="1.3"/>
<polyline points="113.8,339.2 113.3,340.3 112.9,341.1 112.4,341.9 111.9,343.0 111.7,343.6 111.2,344.7 111.0,345.3 110.6,346.4 110.3,347.2 110.0,348.1 109.8,348.9 109.5,349.9 109.3,350.6 109.0,351.7 108.9,352.3 108.6,353.5 108.4,354.1 108.2,355.3 108.1,356.0 107.9,356.8 107.8,357.8 107.7,358.5 107.5,359.6 107.4,360.4 107.3,361.1 107.2,362.3 107.1,362.9 107.0,363.8 106.9,364.9 106.9,365.6 106.8,366.5 106.7,367.5 106.7,368.2 106.7,369.1 106.6,370.2 106.6,370.9 106.6,371.7 106.5,372.9 106.5,373.6 106.5,374.3 106.5,375.5 106.5,376.3 106.6,377.0 106.6,378.0 106.6,379.1 106.6,379.8 106.7,380.6 106.7,381.6 106.8,382.7 106.8,383.4 106.9,384.1 107.0,385.2 107.1,386.3 107.1,387.0 107.2,387.8 107.3,388.7 107.5,389.8 107.6,390.7 107.7,391.5 107.8,392.2 108.0,393.2 108.2,394.3 108.4,395.3 108.6,396.1 108.8,396.9 109.0,397.7 109.2,398.5 109.5,399.5 109.8,400.5 110.2,401.5 110.5,402.4 110.9,403.4 111.3,404.3 111.7,405.1 112.1,406.0 112.6,406.9 113.0,407.7 113.5,408.6 114.1,409.3 114.6,410.1 115.2,410.9 115.8,411.7 116.8,412.7 117.6,413.6 118.3,414.3 119.1,415.0 120.4,416.1 121.2,416.6 122.7,417.6 123.5,418.1 125.2,419.0 127.0,419.8 128.6,420.4 129.8,420.8 130.8,421.1 132.8,421.6 135.0,422.0 136.1,422.1 138.3,422.3 139.5,422.4 141.5,422.4 143.3,422.3 144.6,422.2 145.9,422.0 147.3,421.8 148.7,421.6 150.2,421.3 151.7,420.9 153.3,420.5 154.8,420.0 155.9,419.6 157.0,419.2 158.4,418.7 160.1,418.0 161.0,417.6 162.2,417.1 163.7,416.3 164.6,415.8 166.3,414.9 167.1,414.5 168.6,413.6 169.5,413.0 171.0,412.1 171.7,411.6 173.2,410.6 173.9,410.2 175.3,409.2 176.3,408.5 177.4,407.7 178.7,406.7 179.4,406.2 180.7,405.2 182.0,404.2 182.6,403.7 183.9,402.7 185.1,401.7 185.7,401.2 186.9,400.2 188.1,399.2 189.3,398.2 189.9,397.7 191.0,396.7 192.2,395.7 193.2,394.8 193.9,394.1 195.0,393.1 196.1,392.1 197.2,391.1 197.7,390.6 198.8,389.6 199.8,388.6 200.9,387.6 201.9,386.6 202.5,385.9 203.4,385.0 204.4,384.0 205.3,383.0 206.3,382.0 207.2,381.0 208.1,380.0 209.0,378.9 209.9,377.9 210.8,376.9 211.6,375.8 212.4,374.8 213.2,373.8 214.0,372.7 214.7,371.7 215.1,371.2" fill="none" stroke="#40a0c0" stroke-width="1.3"/>
<polyline points="96.4,353.1 96.1,354.1 95.8,354.9 95.5,355.9 95.3,356.5 95.0,357.7 94.8,358.4 94.5,359.6 94.4,360.2 94.0,361.4 93.9,362.1 93.6,363.1 93.4,363.9 93.3,364.7 93.0,365.8 92.9,366.5 92.6,367.7 92.4,368.4 92.2,369.4 92.0,370.3 91.9,370.9 91.6,372.2 91.5,372.9 91.3,374.0 91.1,374.8 91.0,375.6 90.8,376.8 90.6,377.5 90.4,378.7 90.3,379.4 90.1,380.2 89.9,381.4 89.8,382.1 89.6,383.2 89.5,384.1 89.4,384.8 89.2,386.2 89.1,386.8 88.9,387.8 88.8,388.9 88.7,389.6 88.5,390.8 88.4,391.7 88.3,392.4 88.1,393.7 88.1,394.5 88.0,395.2 87.9,396.6 87.8,397.3 87.8,398.0 87.7,399.4 87.6,400.2 87.6,400.9 87.6,402.1 87.6,403.1 87.6,403.9 87.6,404.7 87.7,406.0 87.7,406.9 87.8,407.7 87.8,408.5 88.0,409.7 88.1,410.8 88.3,411.6 88.4,412.4 88.6,413.3 88.8,414.1" fill="none" stroke="#40b090" stroke-width="1.3"/>
<polyline points="80.6,369.1 80.4,370.0 80.1,370.9 79.8,371.8 79.5,372.7 79.2,373.7 78.9,374.4 78.6,375.6 78.4,376.3 78.0,377.6 77.8,378.2 77.4,379.5 77.2,380.1 76.8,381.4 76.6,382.1 76.2,383.4 76.0,384.0 75.7,385.2 75.4,386.0 75.2,387.0 74.9,388.0 74.7,388.7 74.3,390.0 74.1,390.6 73.8,392.0 73.6,392.6 73.3,394.0 73.1,394.7 72.8,395.7 72.6,396.7 72.4,397.4 72.1,398.8 72.0,399.5 71.7,400.7 71.6,401.6 71.4,402.3 71.2,403.7 71.1,404.5 71.0,405.4 70.8,406.6 70.7,407.4 70.7,408.1" fill="none" stroke="#50c060" stroke-width="1.3"/>
<polyline points="64.0,386.0 63.5,387.2 63.2,388.0 62.8,389.1 62.5,390.0 62.1,391.1 61.7,392.0 61.4,393.0 61.0,393.9 60.7,395.0 60.4,395.9 60.0,397.0 59.7,397.8 59.3,399.1 59.1,399.8 58.7,401.1 58.5,401.8 58.1,403.2 58.0,403.9 58.0,403.9" fill="none" stroke="#40c040" stroke-width="1.3"/>
<polygon points="113.7,300.6 106.9,296.7 110.7,294.5 117.4,298.3" fill="#29cdf3" stroke="#1a859e" stroke-width="0.4"/>
<polygon points="120.5,304.2 113.7,300.6 117.4,298.3 124.2,301.8" fill="#25b9f3" stroke="#18789e" stroke-width="0.4"/>
<polygon points="127.3,307.5 120.5,304.2 124.2,301.8 131.0,304.9" fill="#22a7f2" stroke="#166c9d" stroke-width="0.4"/>
<polygon points="109.9,302.9 103.0,298.9 106.9,296.7 113.7,300.6" fill="#2ad4f2" stroke="#1b8a9e" stroke-width="0.4"/>
<polygon points="134.1,310.5 127.3,307.5 131.0,304.9 137.7,307.8" fill="#2098f1" stroke="#15639d" stroke-width="0.4"/>
<polygon points="116.7,306.6 109.9,302.9 113.7,300.6 120.5,304.2" fill="#27c3f4" stroke="#197f9e" stroke-width="0.4"/>
<polygon points="140.9,313.1 134.1,310.5 137.7,307.8 144.5,310.4" fill="#1e8ef0" stroke="#145c9c" stroke-width="0.4"/>
<polygon points="123.5,310.0 116.7,306.6 120.5,304.2 127.3,307.5" fill="#24b0f2" stroke="#17729e" stroke-width="0.4"/>
<polygon points="147.7,315.5 140.9,313.1 144.5,310.4 151.3,312.7" fill="#1e88ef" stroke="#14599c" stroke-width="0.4"/>
<polygon points="106.0,305.2 99.1,301.1 103.0,298.9 109.9,302.9" fill="#2bdcf1" stroke="#1c8f9d" stroke-width="0.4"/>
<polygon points="130.4,313.1 123.5,310.0 127.3,307.5 134.1,310.5" fill="#21a1f1" stroke="#16689d" stroke-width="0.4"/>
<polygon points="112.9,309.0 106.0,305.2 109.9,302.9 116.7,306.6" fill="#29ccf4" stroke="#1a849e" stroke-width="0.4"/>
<polygon points="154.5,317.6 147.7,315.5 151.3,312.7 158.1,314.7" fill="#1e86ef" stroke="#14579b" stroke-width="0.4"/>
<polygon points="137.2,315.9 130.4,313.1 134.1,310.5 140.9,313.1" fill="#2095f1" stroke="#14619c" stroke-width="0.4"/>
<polygon points="119.8,312.5 112.9,309.0 116.7,306.6 123.5,310.0" fill="#26baf3" stroke="#18799e" stroke-width="0.4"/>
<polygon points="161.4,319.5 154.5,317.6 158.1,314.7 164.9,316.4" fill="#1e85ef" stroke="#14579b" stroke-width="0.4"/>
<polygon points="144.1,318.4 137.2,315.9 140.9,313.1 147.7,315.5" fill="#1e8df0" stroke="#145c9c" stroke-width="0.4"/>
<polygon points="126.7,315.7 119.8,312.5 123.5,310.0 130.4,313.1" fill="#23a9f2" stroke="#176e9d" stroke-width="0.4"/>
<polygon points="102.1,307.5 95.1,303.3 99.1,301.1 106.0,305.2" fill="#2de4f0" stroke="#1d949c" stroke-width="0.4"/>
<polygon points="151.0,320.6 144.1,318.4 147.7,315.5 154.5,317.6" fill="#1e89f0" stroke="#14599c" stroke-width="0.4"/>
<polygon points="109.0,311.4 102.1,307.5 106.0,305.2 112.9,309.0" fill="#2ad3f3" stroke="#1b899e" stroke-width="0.4"/>
<polygon points="168.3,321.1 161.4,319.5 164.9,316.4 171.8,317.9" fill="#1e87ef" stroke="#14589b" stroke-width="0.4"/>
<polygon points="133.6,318.6 126.7,315.7 130.4,313.1 137.2,315.9" fill="#219df1" stroke="#15669d" stroke-width="0.4"/>
<polygon points="116.0,315.0 109.0,311.4 112.9,309.0 119.8,312.5" fill="#27c4f4" stroke="#1a7f9e" stroke-width="0.4"/>
<polygon points="157.9,322.5 151.0,320.6 154.5,317.6 161.4,319.5" fill="#1e88ef" stroke="#14599c" stroke-width="0.4"/>
<polygon points="140.4,321.2 133.6,318.6 137.2,315.9 144.1,318.4" fill="#1f94f1" stroke="#14609c" stroke-width="0.4"/>
<polygon points="175.2,322.4 168.3,321.1 171.8,317.9 178.7,319.1" fill="#1e8af0" stroke="#145a9c" stroke-width="0.4"/>
<polygon points="122.9,318.3 116.0,315.0 119.8,312.5 126.7,315.7" fill="#24b3f3" stroke="#18749e" stroke-width="0.4"/>
<polygon points="98.1,309.8 91.1,305.4 95.1,303.3 102.1,307.5" fill="#2ce7de" stroke="#1d9690" stroke-width="0.4"/>
<polygon points="147.4,323.5 140.4,321.2 144.1,318.4 151.0,320.6" fill="#1e8ef0" stroke="#145c9c" stroke-width="0.4"/>
<polygon points="164.8,324.2 157.9,322.5 161.4,319.5 168.3,321.1" fill="#1e89f0" stroke="#14599c" stroke-width="0.4"/>
<polygon points="105.1,313.8 98.1,309.8 102.1,307.5 109.0,311.4" fill="#2bdbf1" stroke="#1c8e9d" stroke-width="0.4"/>
<polygon points="129.8,321.3 122.9,318.3 126.7,315.7 133.6,318.6" fill="#22a5f2" stroke="#166b9d" stroke-width="0.4"/>
<polygon points="182.2,323.5 175.2,322.4 178.7,319.1 185.6,320.1" fill="#1f91f0" stroke="#145e9c" stroke-width="0.4"/>
<polygon points="112.1,317.5 105.1,313.8 109.0,311.4 116.0,315.0" fill="#29ccf3" stroke="#1a859e" stroke-width="0.4"/>
<polygon points="154.3,325.5 147.4,323.5 151.0,320.6 157.9,322.5" fill="#1e8cf0" stroke="#145b9c" stroke-width="0.4"/>
<polygon points="136.8,324.0 129.8,321.3 133.6,318.6 140.4,321.2" fill="#219bf1" stroke="#15659d" stroke-width="0.4"/>
<polygon points="171.7,325.6 164.8,324.2 168.3,321.1 175.2,322.4" fill="#1e8cf0" stroke="#145b9c" stroke-width="0.4"/>
<polygon points="119.1,320.9 112.1,317.5 116.0,315.0 122.9,318.3" fill="#26bdf3" stroke="#197b9e" stroke-width="0.4"/>
<polygon points="189.1,324.4 182.2,323.5 185.6,320.1 192.5,320.9" fill="#209bf1" stroke="#15659d" stroke-width="0.4"/>
<polygon points="94.1,312.1 87.0,307.6 91.1,305.4 98.1,309.8" fill="#2be8c5" stroke="#1c9780" stroke-width="0.4"/>
<polygon points="143.7,326.4 136.8,324.0 140.4,321.2 147.4,323.5" fill="#1f95f1" stroke="#14619c" stroke-width="0.4"/>
<polygon points="161.2,327.3 154.3,325.5 157.9,322.5 164.8,324.2" fill="#1e8cf0" stroke="#145b9c" stroke-width="0.4"/>
<polygon points="101.1,316.2 94.1,312.1 98.1,309.8 105.1,313.8" fill="#2ce3f0" stroke="#1d939c" stroke-width="0.4"/>
<polygon points="126.0,324.0 119.1,320.9 122.9,318.3 129.8,321.3" fill="#24aef2" stroke="#17719d" stroke-width="0.4"/>
<polygon points="178.7,326.8 171.7,325.6 175.2,322.4 182.2,323.5" fill="#1f92f0" stroke="#145f9c" stroke-width="0.4"/>
<polygon points="108.2,320.0 101.1,316.2 105.1,313.8 112.1,317.5" fill="#2ad4f2" stroke="#1b8a9e" stroke-width="0.4"/>
<polygon points="196.2,325.0 189.1,324.4 192.5,320.9 199.5,321.5" fill="#23a7f2" stroke="#166d9d" stroke-width="0.4"/>
<polygon points="150.7,328.5 143.7,326.4 147.4,323.5 154.3,325.5" fill="#1f91f0" stroke="#145e9c" stroke-width="0.4"/>
<polygon points="133.0,326.8 126.0,324.0 129.8,321.3 136.8,324.0" fill="#22a3f2" stroke="#166a9d" stroke-width="0.4"/>
<polygon points="168.2,328.8 161.2,327.3 164.8,324.2 171.7,325.6" fill="#1f8ff0" stroke="#145d9c" stroke-width="0.4"/>
<polygon points="185.7,327.8 178.7,326.8 182.2,323.5 189.1,324.4" fill="#219cf1" stroke="#15659d" stroke-width="0.4"/>
<polygon points="115.2,323.5 108.2,320.0 112.1,317.5 119.1,320.9" fill="#28c7f4" stroke="#1a819f" stroke-width="0.4"/>
<polygon points="90.0,314.3 82.9,309.7 87.0,307.6 94.1,312.1" fill="#29eaaa" stroke="#1b986f" stroke-width="0.4"/>
<polygon points="157.6,330.4 150.7,328.5 154.3,325.5 161.2,327.3" fill="#1f91f0" stroke="#145e9c" stroke-width="0.4"/>
<polygon points="140.0,329.3 133.0,326.8 136.8,324.0 143.7,326.4" fill="#219cf1" stroke="#15659d" stroke-width="0.4"/>
<polygon points="203.2,325.5 196.2,325.0 199.5,321.5 206.6,321.8" fill="#25b6f3" stroke="#18769e" stroke-width="0.4"/>
<polygon points="175.2,330.1 168.2,328.8 171.7,325.6 178.7,326.8" fill="#1f95f1" stroke="#14619c" stroke-width="0.4"/>
<polygon points="97.1,318.6 90.0,314.3 94.1,312.1 101.1,316.2" fill="#2ce7e1" stroke="#1d9692" stroke-width="0.4"/>
<polygon points="122.2,326.7 115.2,323.5 119.1,320.9 126.0,324.0" fill="#25b8f3" stroke="#18779e" stroke-width="0.4"/>
<polygon points="192.7,328.5 185.7,327.8 189.1,324.4 196.2,325.0" fill="#22a7f2" stroke="#166c9d" stroke-width="0.4"/>
<polygon points="104.2,322.5 97.1,318.6 101.1,316.2 108.2,320.0" fill="#2bdbf1" stroke="#1c8f9d" stroke-width="0.4"/>
<polygon points="147.0,331.5 140.0,329.3 143.7,326.4 150.7,328.5" fill="#2097f1" stroke="#15629c" stroke-width="0.4"/>
<polygon points="164.6,332.0 157.6,330.4 161.2,327.3 168.2,328.8" fill="#1f93f0" stroke="#145f9c" stroke-width="0.4"/>
<polygon points="129.2,329.6 122.2,326.7 126.0,324.0 133.0,326.8" fill="#23acf2" stroke="#17709d" stroke-width="0.4"/>
<polygon points="182.2,331.2 175.2,330.1 178.7,326.8 185.7,327.8" fill="#219df1" stroke="#15669d" stroke-width="0.4"/>
<polygon points="210.3,325.7 203.2,325.5 206.6,321.8 213.7,322.0" fill="#28c6f4" stroke="#1a819f" stroke-width="0.4"/>
<polygon points="111.3,326.1 104.2,322.5 108.2,320.0 115.2,323.5" fill="#29cef3" stroke="#1b869e" stroke-width="0.4"/>
<polygon points="85.9,316.6 78.7,311.9 82.9,309.7 90.0,314.3" fill="#28eb92" stroke="#1a995f" stroke-width="0.4"/>
<polygon points="154.0,333.5 147.0,331.5 150.7,328.5 157.6,330.4" fill="#2096f1" stroke="#15629c" stroke-width="0.4"/>
<polygon points="136.3,332.2 129.2,329.6 133.0,326.8 140.0,329.3" fill="#22a3f2" stroke="#166a9d" stroke-width="0.4"/>
<polygon points="199.8,329.1 192.7,328.5 196.2,325.0 203.2,325.5" fill="#25b4f3" stroke="#18759e" stroke-width="0.4"/>
<polygon points="171.7,333.4 164.6,332.0 168.2,328.8 175.2,330.1" fill="#2098f1" stroke="#15639d" stroke-width="0.4"/>
<polygon points="118.3,329.4 111.3,326.1 115.2,323.5 122.2,326.7" fill="#27c1f4" stroke="#197e9e" stroke-width="0.4"/>
<polygon points="93.0,320.9 85.9,316.6 90.0,314.3 97.1,318.6" fill="#2be8c8" stroke="#1c9782" stroke-width="0.4"/>
<polygon points="189.3,332.0 182.2,331.2 185.7,327.8 192.7,328.5" fill="#23a7f2" stroke="#166d9d" stroke-width="0.4"/>
<polygon points="217.5,325.8 210.3,325.7 213.7,322.0 220.8,322.0" fill="#2ad3f3" stroke="#1b899e" stroke-width="0.4"/>
<polygon points="143.3,334.5 136.3,332.2 140.0,329.3 147.0,331.5" fill="#219ef1" stroke="#15679d" stroke-width="0.4"/>
<polygon points="100.2,325.0 93.0,320.9 97.1,318.6 104.2,322.5" fill="#2de3f0" stroke="#1d949c" stroke-width="0.4"/>
<polygon points="161.1,335.2 154.0,333.5 157.6,330.4 164.6,332.0" fill="#2097f1" stroke="#15629c" stroke-width="0.4"/>
<polygon points="125.4,332.3 118.3,329.4 122.2,326.7 129.2,329.6" fill="#25b5f3" stroke="#18759e" stroke-width="0.4"/>
<polygon points="178.7,334.6 171.7,333.4 175.2,330.1 182.2,331.2" fill="#219ff1" stroke="#16679d" stroke-width="0.4"/>
<polygon points="207.0,329.4 199.8,329.1 203.2,325.5 210.3,325.7" fill="#27c4f4" stroke="#1a7f9e" stroke-width="0.4"/>
<polygon points="107.3,328.6 100.2,325.0 104.2,322.5 111.3,326.1" fill="#2ad5f2" stroke="#1b8b9d" stroke-width="0.4"/>
<polygon points="196.4,332.7 189.3,332.0 192.7,328.5 199.8,329.1" fill="#25b4f3" stroke="#18759e" stroke-width="0.4"/>
<polygon points="150.3,336.6 143.3,334.5 147.0,331.5 154.0,333.5" fill="#219cf1" stroke="#15659d" stroke-width="0.4"/>
<polygon points="81.7,318.9 74.4,314.1 78.7,311.9 85.9,316.6" fill="#28ea80" stroke="#1a9853" stroke-width="0.4"/>
<polygon points="132.5,335.0 125.4,332.3 129.2,329.6 136.3,332.2" fill="#23abf2" stroke="#176f9d" stroke-width="0.4"/>
<polygon points="168.1,336.7 161.1,335.2 164.6,332.0 171.7,333.4" fill="#219bf1" stroke="#15659d" stroke-width="0.4"/>
<polygon points="114.4,332.0 107.3,328.6 111.3,326.1 118.3,329.4" fill="#28caf4" stroke="#1a839e" stroke-width="0.4"/>
<polygon points="88.9,323.3 81.7,318.9 85.9,316.6 93.0,320.9" fill="#29eaaf" stroke="#1b9872" stroke-width="0.4"/>
<polygon points="185.8,335.5 178.7,334.6 182.2,331.2 189.3,332.0" fill="#23a9f2" stroke="#176e9d" stroke-width="0.4"/>
<polygon points="214.1,329.6 207.0,329.4 210.3,325.7 217.5,325.8" fill="#29d1f3" stroke="#1b889e" stroke-width="0.4"/>
<polygon points="139.5,337.5 132.5,335.0 136.3,332.2 143.3,334.5" fill="#22a5f2" stroke="#166b9d" stroke-width="0.4"/>
<polygon points="157.4,338.4 150.3,336.6 154.0,333.5 161.1,335.2" fill="#219cf1" stroke="#15669d" stroke-width="0.4"/>
<polygon points="96.1,327.4 88.9,323.3 93.0,320.9 100.2,325.0" fill="#2ce7e1" stroke="#1d9692" stroke-width="0.4"/>
<polygon points="121.5,335.1 114.4,332.0 118.3,329.4 125.4,332.3" fill="#26bef3" stroke="#197b9e" stroke-width="0.4"/>
<polygon points="203.6,333.1 196.4,332.7 199.8,329.1 207.0,329.4" fill="#27c3f4" stroke="#197e9e" stroke-width="0.4"/>
<polygon points="175.2,337.9 168.1,336.7 171.7,333.4 178.7,334.6" fill="#22a2f1" stroke="#16699d" stroke-width="0.4"/>
<polygon points="103.2,331.2 96.1,327.4 100.2,325.0 107.3,328.6" fill="#2bddf1" stroke="#1c909d" stroke-width="0.4"/>
<polygon points="193.0,336.2 185.8,335.5 189.3,332.0 196.4,332.7" fill="#25b4f3" stroke="#18759e" stroke-width="0.4"/>
<polygon points="146.6,339.6 139.5,337.5 143.3,334.5 150.3,336.6" fill="#22a2f1" stroke="#16699d" stroke-width="0.4"/>
<polygon points="128.6,337.9 121.5,335.1 125.4,332.3 132.5,335.0" fill="#25b4f3" stroke="#18759e" stroke-width="0.4"/>
<polygon points="164.5,339.9 157.4,338.4 161.1,335.2 168.1,336.7" fill="#21a0f1" stroke="#16689d" stroke-width="0.4"/>
<polygon points="77.4,321.2 70.1,316.3 74.4,314.1 81.7,318.9" fill="#28e96e" stroke="#1a9747" stroke-width="0.4"/>
<polygon points="182.3,338.9 175.2,337.9 178.7,334.6 185.8,335.5" fill="#23aaf2" stroke="#176f9d" stroke-width="0.4"/>
<polygon points="110.4,334.7 103.2,331.2 107.3,328.6 114.4,332.0" fill="#2ad1f3" stroke="#1b889e" stroke-width="0.4"/>
<polygon points="210.7,333.4 203.6,333.1 207.0,329.4 214.1,329.6" fill="#29cff3" stroke="#1b879e" stroke-width="0.4"/>
<polygon points="84.7,325.7 77.4,321.2 81.7,318.9 88.9,323.3" fill="#28eb95" stroke="#1a9961" stroke-width="0.4"/>
<polygon points="153.7,341.5 146.6,339.6 150.3,336.6 157.4,338.4" fill="#22a2f1" stroke="#16699d" stroke-width="0.4"/>
<polygon points="135.7,340.4 128.6,337.9 132.5,335.0 139.5,337.5" fill="#23adf2" stroke="#17709d" stroke-width="0.4"/>
<polygon points="200.1,336.8 193.0,336.2 196.4,332.7 203.6,333.1" fill="#27c2f4" stroke="#197e9e" stroke-width="0.4"/>
<polygon points="91.9,329.9 84.7,325.7 88.9,323.3 96.1,327.4" fill="#2be8c9" stroke="#1c9783" stroke-width="0.4"/>
<polygon points="171.6,341.3 164.5,339.9 168.1,336.7 175.2,337.9" fill="#22a5f2" stroke="#166b9d" stroke-width="0.4"/>
<polygon points="117.6,337.9 110.4,334.7 114.4,332.0 121.5,335.1" fill="#28c7f4" stroke="#1a829f" stroke-width="0.4"/>
<polygon points="189.5,339.8 182.3,338.9 185.8,335.5 193.0,336.2" fill="#25b5f3" stroke="#18769e" stroke-width="0.4"/>
<polygon points="99.2,333.8 91.9,329.9 96.1,327.4 103.2,331.2" fill="#2de4f0" stroke="#1d949c" stroke-width="0.4"/>
<polygon points="142.9,342.7 135.7,340.4 139.5,337.5 146.6,339.6" fill="#23a9f2" stroke="#176e9d" stroke-width="0.4"/>
<polygon points="160.9,343.2 153.7,341.5 157.4,338.4 164.5,339.9" fill="#22a4f2" stroke="#166b9d" stroke-width="0.4"/>
<polygon points="124.7,340.8 117.6,337.9 121.5,335.1 128.6,337.9" fill="#26bdf3" stroke="#197b9e" stroke-width="0.4"/>
<polygon points="73.1,323.5 65.8,318.5 70.1,316.3 77.4,321.2" fill="#28e85b" stroke="#1a973b" stroke-width="0.4"/>
<polygon points="207.3,337.1 200.1,336.8 203.6,333.1 210.7,333.4" fill="#29cef3" stroke="#1b869e" stroke-width="0.4"/>
<polygon points="178.8,342.4 171.6,341.3 175.2,337.9 182.3,338.9" fill="#23adf2" stroke="#17709d" stroke-width="0.4"/>
<polygon points="106.4,337.4 99.2,333.8 103.2,331.2 110.4,334.7" fill="#2bd8f2" stroke="#1c8c9d" stroke-width="0.4"/>
<polygon points="80.4,328.1 73.1,323.5 77.4,321.2 84.7,325.7" fill="#28ea84" stroke="#1a9856" stroke-width="0.4"/>
<polygon points="150.0,344.7 142.9,342.7 146.6,339.6 153.7,341.5" fill="#23a8f2" stroke="#176d9d" stroke-width="0.4"/>
<polygon points="196.7,340.4 189.5,339.8 193.0,336.2 200.1,336.8" fill="#27c2f4" stroke="#197e9e" stroke-width="0.4"/>
<polygon points="131.9,343.4 124.7,340.8 128.6,337.9 135.7,340.4" fill="#25b5f3" stroke="#18769e" stroke-width="0.4"/>
<polygon points="168.0,344.6 160.9,343.2 164.5,339.9 171.6,341.3" fill="#23a9f2" stroke="#176e9d" stroke-width="0.4"/>
<polygon points="87.7,332.4 80.4,328.1 84.7,325.7 91.9,329.9" fill="#29eab0" stroke="#1b9873" stroke-width="0.4"/>
<polygon points="113.6,340.7 106.4,337.4 110.4,334.7 117.6,337.9" fill="#29cef3" stroke="#1b869e" stroke-width="0.4"/>
<polygon points="186.0,343.3 178.8,342.4 182.3,338.9 189.5,339.8" fill="#25b7f3" stroke="#18779e" stroke-width="0.4"/>
<polygon points="95.0,336.4 87.7,332.4 91.9,329.9 99.2,333.8" fill="#2ce7de" stroke="#1d9690" stroke-width="0.4"/>
<polygon points="139.1,345.7 131.9,343.4 135.7,340.4 142.9,342.7" fill="#24b0f2" stroke="#17729e" stroke-width="0.4"/>
<polygon points="157.2,346.4 150.0,344.7 153.7,341.5 160.9,343.2" fill="#23a9f2" stroke="#176e9d" stroke-width="0.4"/>
<polygon points="120.8,343.7 113.6,340.7 117.6,337.9 124.7,340.8" fill="#28c6f4" stroke="#1a809e" stroke-width="0.4"/>
<polygon points="203.9,340.9 196.7,340.4 200.1,336.8 207.3,337.1" fill="#29cef3" stroke="#1b869e" stroke-width="0.4"/>
<polygon points="175.2,345.8 168.0,344.6 171.6,341.3 178.8,342.4" fill="#24b0f2" stroke="#17729e" stroke-width="0.4"/>
<polygon points="68.8,325.8 61.3,320.7 65.8,318.5 73.1,323.5" fill="#28e750" stroke="#1a9634" stroke-width="0.4"/>
<polygon points="102.3,340.1 95.0,336.4 99.2,333.8 106.4,337.4" fill="#2cdff1" stroke="#1d919d" stroke-width="0.4"/>
<polygon points="76.1,330.5 68.8,325.8 73.1,323.5 80.4,328.1" fill="#28e973" stroke="#1a984b" stroke-width="0.4"/>
<polygon points="193.2,344.0 186.0,343.3 189.5,339.8 196.7,340.4" fill="#27c3f4" stroke="#197f9e" stroke-width="0.4"/>
<polygon points="146.2,347.8 139.1,345.7 142.9,342.7 150.0,344.7" fill="#24aef2" stroke="#17719d" stroke-width="0.4"/>
<polygon points="128.0,346.4 120.8,343.7 124.7,340.8 131.9,343.4" fill="#26bdf3" stroke="#197b9e" stroke-width="0.4"/>
<polygon points="164.4,347.9 157.2,346.4 160.9,343.2 168.0,344.6" fill="#24adf2" stroke="#17719d" stroke-width="0.4"/>
<polygon points="109.5,343.5 102.3,340.1 106.4,337.4 113.6,340.7" fill="#2ad5f2" stroke="#1b8a9d" stroke-width="0.4"/>
<polygon points="83.5,335.0 76.1,330.5 80.4,328.1 87.7,332.4" fill="#28eb98" stroke="#1a9963" stroke-width="0.4"/>
<polygon points="182.4,346.8 175.2,345.8 178.8,342.4 186.0,343.3" fill="#26b9f3" stroke="#18789e" stroke-width="0.4"/>
<polygon points="135.2,348.8 128.0,346.4 131.9,343.4 139.1,345.7" fill="#25b7f3" stroke="#18779e" stroke-width="0.4"/>
<polygon points="153.4,349.7 146.2,347.8 150.0,344.7 157.2,346.4" fill="#24aff2" stroke="#17729e" stroke-width="0.4"/>
<polygon points="90.8,339.1 83.5,335.0 87.7,332.4 95.0,336.4" fill="#2be8c7" stroke="#1c9781" stroke-width="0.4"/>
<polygon points="200.4,344.6 193.2,344.0 196.7,340.4 203.9,340.9" fill="#29cef3" stroke="#1b869e" stroke-width="0.4"/>
<polygon points="116.8,346.6 109.5,343.5 113.6,340.7 120.8,343.7" fill="#29ccf3" stroke="#1a859e" stroke-width="0.4"/>
<polygon points="171.6,349.2 164.4,347.9 168.0,344.6 175.2,345.8" fill="#25b3f3" stroke="#18759e" stroke-width="0.4"/>
<polygon points="64.3,328.1 56.8,322.9 61.3,320.7 68.8,325.8" fill="#28e645" stroke="#1a952d" stroke-width="0.4"/>
<polygon points="98.1,342.8 90.8,339.1 95.0,336.4 102.3,340.1" fill="#2de6ef" stroke="#1d969b" stroke-width="0.4"/>
<polygon points="189.6,347.6 182.4,346.8 186.0,343.3 193.2,344.0" fill="#27c4f4" stroke="#1a7f9e" stroke-width="0.4"/>
<polygon points="142.4,351.0 135.2,348.8 139.1,345.7 146.2,347.8" fill="#25b5f3" stroke="#18759e" stroke-width="0.4"/>
<polygon points="71.8,333.0 64.3,328.1 68.8,325.8 76.1,330.5" fill="#28e861" stroke="#1a973f" stroke-width="0.4"/>
<polygon points="124.0,349.4 116.8,346.6 120.8,343.7 128.0,346.4" fill="#28c5f4" stroke="#1a809e" stroke-width="0.4"/>
<polygon points="160.7,351.3 153.4,349.7 157.2,346.4 164.4,347.9" fill="#24b2f3" stroke="#18749e" stroke-width="0.4"/>
<polygon points="105.4,346.3 98.1,342.8 102.3,340.1 109.5,343.5" fill="#2bdbf1" stroke="#1c8f9d" stroke-width="0.4"/>
<polygon points="178.8,350.3 171.6,349.2 175.2,345.8 182.4,346.8" fill="#26bcf3" stroke="#197a9e" stroke-width="0.4"/>
<polygon points="79.2,337.5 71.8,333.0 76.1,330.5 83.5,335.0" fill="#28ea87" stroke="#1a9858" stroke-width="0.4"/>
<polygon points="131.3,351.9 124.0,349.4 128.0,346.4 135.2,348.8" fill="#27bff3" stroke="#197c9e" stroke-width="0.4"/>
<polygon points="149.7,352.9 142.4,351.0 146.2,347.8 153.4,349.7" fill="#25b5f3" stroke="#18759e" stroke-width="0.4"/>
<polygon points="196.9,348.3 189.6,347.6 193.2,344.0 200.4,344.6" fill="#29cef3" stroke="#1b869e" stroke-width="0.4"/>
<polygon points="86.6,341.7 79.2,337.5 83.5,335.0 90.8,339.1" fill="#29eab0" stroke="#1b9872" stroke-width="0.4"/>
<polygon points="167.9,352.7 160.7,351.3 164.4,347.9 171.6,349.2" fill="#25b7f3" stroke="#18779e" stroke-width="0.4"/>
<polygon points="112.7,349.5 105.4,346.3 109.5,343.5 116.8,346.6" fill="#2ad3f3" stroke="#1b899e" stroke-width="0.4"/>
<polygon points="59.8,330.5 52.3,325.2 56.8,322.9 64.3,328.1" fill="#28e43b" stroke="#1a9426" stroke-width="0.4"/>
<polygon points="186.1,351.2 178.8,350.3 182.4,346.8 189.6,347.6" fill="#28c6f4" stroke="#1a819f" stroke-width="0.4"/>
<polygon points="93.9,345.6 86.6,341.7 90.8,339.1 98.1,342.8" fill="#2ce7d9" stroke="#1c968d" stroke-width="0.4"/>
<polygon points="138.6,354.1 131.3,351.9 135.2,348.8 142.4,351.0" fill="#26bcf3" stroke="#197a9e" stroke-width="0.4"/>
<polygon points="156.9,354.6 149.7,352.9 153.4,349.7 160.7,351.3" fill="#25b7f3" stroke="#18779e" stroke-width="0.4"/>
<polygon points="67.4,335.5 59.8,330.5 64.3,328.1 71.8,333.0" fill="#28e754" stroke="#1a9637" stroke-width="0.4"/>
<polygon points="120.0,352.4 112.7,349.5 116.8,346.6 124.0,349.4" fill="#29ccf3" stroke="#1a859e" stroke-width="0.4"/>
<polygon points="175.2,353.8 167.9,352.7 171.6,349.2 178.8,350.3" fill="#26bff3" stroke="#197c9e" stroke-width="0.4"/>
<polygon points="101.3,349.1 93.9,345.6 98.1,342.8 105.4,346.3" fill="#2ce2f0" stroke="#1d939c" stroke-width="0.4"/>
<polygon points="74.8,340.1 67.4,335.5 71.8,333.0 79.2,337.5" fill="#28e976" stroke="#1a984d" stroke-width="0.4"/>
<polygon points="193.4,352.0 186.1,351.2 189.6,347.6 196.9,348.3" fill="#29cff3" stroke="#1b869e" stroke-width="0.4"/>
<polygon points="145.8,356.2 138.6,354.1 142.4,351.0 149.7,352.9" fill="#26bbf3" stroke="#19799e" stroke-width="0.4"/>
<polygon points="127.3,355.0 120.0,352.4 124.0,349.4 131.3,351.9" fill="#28c7f4" stroke="#1a819f" stroke-width="0.4"/>
<polygon points="164.2,356.1 156.9,354.6 160.7,351.3 167.9,352.7" fill="#26bcf3" stroke="#197a9e" stroke-width="0.4"/>
<polygon points="82.3,344.4 74.8,340.1 79.2,337.5 86.6,341.7" fill="#28eb98" stroke="#1a9963" stroke-width="0.4"/>
<polygon points="108.6,352.4 101.3,349.1 105.4,346.3 112.7,349.5" fill="#2bd9f2" stroke="#1c8d9d" stroke-width="0.4"/>
<polygon points="182.5,354.8 175.2,353.8 178.8,350.3 186.1,351.2" fill="#28c8f4" stroke="#1a829f" stroke-width="0.4"/>
<polygon points="55.3,332.9 47.7,327.5 52.3,325.2 59.8,330.5" fill="#28e334" stroke="#1a9422" stroke-width="0.4"/>
<polygon points="89.7,348.4 82.3,344.4 86.6,341.7 93.9,345.6" fill="#2ae9c3" stroke="#1c977f" stroke-width="0.4"/>
<polygon points="134.6,357.3 127.3,355.0 131.3,351.9 138.6,354.1" fill="#27c3f4" stroke="#197f9e" stroke-width="0.4"/>
<polygon points="153.1,357.9 145.8,356.2 149.7,352.9 156.9,354.6" fill="#26bcf3" stroke="#197a9e" stroke-width="0.4"/>
<polygon points="116.0,355.4 108.6,352.4 112.7,349.5 120.0,352.4" fill="#2ad2f3" stroke="#1b889e" stroke-width="0.4"/>
<polygon points="62.9,338.0 55.3,332.9 59.8,330.5 67.4,335.5" fill="#28e64a" stroke="#1a9630" stroke-width="0.4"/>
<polygon points="171.5,357.3 164.2,356.1 167.9,352.7 175.2,353.8" fill="#27c2f4" stroke="#197e9e" stroke-width="0.4"/>
<polygon points="97.1,352.0 89.7,348.4 93.9,345.6 101.3,349.1" fill="#2ce7e7" stroke="#1d9696" stroke-width="0.4"/>
<polygon points="70.4,342.7 62.9,338.0 67.4,335.5 74.8,340.1" fill="#28e966" stroke="#1a9742" stroke-width="0.4"/>
<polygon points="189.8,355.6 182.5,354.8 186.1,351.2 193.4,352.0" fill="#29d0f3" stroke="#1b879e" stroke-width="0.4"/>
<polygon points="142.0,359.4 134.6,357.3 138.6,354.1 145.8,356.2" fill="#27c1f4" stroke="#197e9e" stroke-width="0.4"/>
<polygon points="123.3,358.1 116.0,355.4 120.0,352.4 127.3,355.0" fill="#29cdf3" stroke="#1b859e" stroke-width="0.4"/>
<polygon points="160.4,359.5 153.1,357.9 156.9,354.6 164.2,356.1" fill="#27c0f3" stroke="#197d9e" stroke-width="0.4"/>
<polygon points="77.9,347.1 70.4,342.7 74.8,340.1 82.3,344.4" fill="#28ea88" stroke="#1a9858" stroke-width="0.4"/>
<polygon points="104.5,355.4 97.1,352.0 101.3,349.1 108.6,352.4" fill="#2cdff1" stroke="#1d919d" stroke-width="0.4"/>
<polygon points="178.8,358.4 171.5,357.3 175.2,353.8 182.5,354.8" fill="#28caf4" stroke="#1a839e" stroke-width="0.4"/>
<polygon points="50.7,335.4 43.0,329.9 47.7,327.5 55.3,332.9" fill="#28e22f" stroke="#1a931f" stroke-width="0.4"/>
<polygon points="85.4,351.2 77.9,347.1 82.3,344.4 89.7,348.4" fill="#29eaad" stroke="#1b9870" stroke-width="0.4"/>
<polygon points="130.7,360.5 123.3,358.1 127.3,355.0 134.6,357.3" fill="#28c9f4" stroke="#1a839e" stroke-width="0.4"/>
<polygon points="149.3,361.3 142.0,359.4 145.8,356.2 153.1,357.9" fill="#27c2f4" stroke="#197e9e" stroke-width="0.4"/>
<polygon points="111.9,358.4 104.5,355.4 108.6,352.4 116.0,355.4" fill="#2bd8f2" stroke="#1c8c9d" stroke-width="0.4"/>
<polygon points="167.8,360.9 160.4,359.5 164.2,356.1 171.5,357.3" fill="#28c6f4" stroke="#1a819f" stroke-width="0.4"/>
<polygon points="58.3,340.6 50.7,335.4 55.3,332.9 62.9,338.0" fill="#28e540" stroke="#1a952a" stroke-width="0.4"/>
<polygon points="92.8,354.9 85.4,351.2 89.7,348.4 97.1,352.0" fill="#2be8d2" stroke="#1c9788" stroke-width="0.4"/>
<polygon points="186.2,359.3 178.8,358.4 182.5,354.8 189.8,355.6" fill="#29d1f3" stroke="#1b889e" stroke-width="0.4"/>
<polygon points="65.9,345.4 58.3,340.6 62.9,338.0 70.4,342.7" fill="#28e857" stroke="#1a9739" stroke-width="0.4"/>
<polygon points="138.0,362.7 130.7,360.5 134.6,357.3 142.0,359.4" fill="#28c8f4" stroke="#1a829f" stroke-width="0.4"/>
<polygon points="119.3,361.2 111.9,358.4 116.0,355.4 123.3,358.1" fill="#2ad2f3" stroke="#1b899e" stroke-width="0.4"/>
<polygon points="156.6,363.0 149.3,361.3 153.1,357.9 160.4,359.5" fill="#28c5f4" stroke="#1a809e" stroke-width="0.4"/>
<polygon points="73.5,349.9 65.9,345.4 70.4,342.7 77.9,347.1" fill="#28ea79" stroke="#1a984e" stroke-width="0.4"/>
<polygon points="100.3,358.4 92.8,354.9 97.1,352.0 104.5,355.4" fill="#2de6f0" stroke="#1d959c" stroke-width="0.4"/>
<polygon points="175.2,362.0 167.8,360.9 171.5,357.3 178.8,358.4" fill="#29ccf3" stroke="#1a859e" stroke-width="0.4"/>
<polygon points="126.7,363.8 119.3,361.2 123.3,358.1 130.7,360.5" fill="#29cef3" stroke="#1b869e" stroke-width="0.4"/>
<polygon points="81.0,354.0 73.5,349.9 77.9,347.1 85.4,351.2" fill="#28eb97" stroke="#1a9962" stroke-width="0.4"/>
<polygon points="145.4,364.7 138.0,362.7 142.0,359.4 149.3,361.3" fill="#28c8f4" stroke="#1a829f" stroke-width="0.4"/>
<polygon points="107.7,361.5 100.3,358.4 104.5,355.4 111.9,358.4" fill="#2cdef1" stroke="#1c909d" stroke-width="0.4"/>
<polygon points="164.0,364.4 156.6,363.0 160.4,359.5 167.8,360.9" fill="#28caf4" stroke="#1a839e" stroke-width="0.4"/>
<polygon points="182.5,363.0 175.2,362.0 178.8,358.4 186.2,359.3" fill="#2ad3f3" stroke="#1b899e" stroke-width="0.4"/>
<polygon points="88.5,357.9 81.0,354.0 85.4,351.2 92.8,354.9" fill="#2ae9bd" stroke="#1b977b" stroke-width="0.4"/>
<polygon points="134.1,366.0 126.7,363.8 130.7,360.5 138.0,362.7" fill="#29ccf3" stroke="#1a859e" stroke-width="0.4"/>
<polygon points="115.2,364.4 107.7,361.5 111.9,358.4 119.3,361.2" fill="#2bd8f2" stroke="#1c8c9d" stroke-width="0.4"/>
<polygon points="152.8,366.4 145.4,364.7 149.3,361.3 156.6,363.0" fill="#28caf4" stroke="#1a839e" stroke-width="0.4"/>
<polygon points="171.4,365.6 164.0,364.4 167.8,360.9 175.2,362.0" fill="#29cef3" stroke="#1b869e" stroke-width="0.4"/>
<polygon points="96.0,361.4 88.5,357.9 92.8,354.9 100.3,358.4" fill="#2ce7dd" stroke="#1d9690" stroke-width="0.4"/>
<polygon points="141.5,368.1 134.1,366.0 138.0,362.7 145.4,364.7" fill="#29ccf3" stroke="#1a859e" stroke-width="0.4"/>
<polygon points="122.6,367.0 115.2,364.4 119.3,361.2 126.7,363.8" fill="#2ad4f2" stroke="#1b8a9e" stroke-width="0.4"/>
<polygon points="160.2,367.9 152.8,366.4 156.6,363.0 164.0,364.4" fill="#29cdf3" stroke="#1b859e" stroke-width="0.4"/>
<polygon points="103.5,364.7 96.0,361.4 100.3,358.4 107.7,361.5" fill="#2de4f0" stroke="#1d949c" stroke-width="0.4"/>
<polygon points="178.9,366.7 171.4,365.6 175.2,362.0 182.5,363.0" fill="#2ad4f2" stroke="#1b8a9e" stroke-width="0.4"/>
<polygon points="130.0,369.4 122.6,367.0 126.7,363.8 134.1,366.0" fill="#2ad1f3" stroke="#1b889e" stroke-width="0.4"/>
<polygon points="148.9,369.9 141.5,368.1 145.4,364.7 152.8,366.4" fill="#29cdf3" stroke="#1b859e" stroke-width="0.4"/>
<polygon points="111.0,367.6 103.5,364.7 107.7,361.5 115.2,364.4" fill="#2cddf1" stroke="#1c909d" stroke-width="0.4"/>
<polygon points="167.7,369.3 160.2,367.9 164.0,364.4 171.4,365.6" fill="#29d1f3" stroke="#1b889e" stroke-width="0.4"/>
<polygon points="137.5,371.5 130.0,369.4 134.1,366.0 141.5,368.1" fill="#29d0f3" stroke="#1b879e" stroke-width="0.4"/>
<polygon points="118.5,370.3 111.0,367.6 115.2,364.4 122.6,367.0" fill="#2bd9f2" stroke="#1c8d9d" stroke-width="0.4"/>
<polygon points="156.4,371.5 148.9,369.9 152.8,366.4 160.2,367.9" fill="#29d0f3" stroke="#1b879e" stroke-width="0.4"/>
<polygon points="175.1,370.4 167.7,369.3 171.4,365.6 178.9,366.7" fill="#2ad6f2" stroke="#1c8b9d" stroke-width="0.4"/>
<polygon points="126.0,372.8 118.5,370.3 122.6,367.0 130.0,369.4" fill="#2ad6f2" stroke="#1b8b9d" stroke-width="0.4"/>
<polygon points="145.0,373.4 137.5,371.5 141.5,368.1 148.9,369.9" fill="#29d1f3" stroke="#1b889e" stroke-width="0.4"/>
<polygon points="163.8,372.9 156.4,371.5 160.2,367.9 167.7,369.3" fill="#2ad4f2" stroke="#1b8a9e" stroke-width="0.4"/>
<polygon points="133.5,375.0 126.0,372.8 130.0,369.4 137.5,371.5" fill="#2ad4f2" stroke="#1b8a9e" stroke-width="0.4"/>
<polygon points="152.5,375.1 145.0,373.4 148.9,369.9 156.4,371.5" fill="#2ad3f3" stroke="#1b899e" stroke-width="0.4"/>
<polygon points="171.3,374.2 163.8,372.9 167.7,369.3 175.1,370.4" fill="#2bd9f2" stroke="#1c8d9d" stroke-width="0.4"/>
<polygon points="141.0,377.0 133.5,375.0 137.5,371.5 145.0,373.4" fill="#2ad5f2" stroke="#1b8a9d" stroke-width="0.4"/>
<polygon points="160.0,376.6 152.5,375.1 156.4,371.5 163.8,372.9" fill="#2ad6f2" stroke="#1c8b9d" stroke-width="0.4"/>
<polygon points="148.5,378.7 141.0,377.0 145.0,373.4 152.5,375.1" fill="#2ad6f2" stroke="#1c8b9d" stroke-width="0.4"/>
<polygon points="167.5,377.9 160.0,376.6 163.8,372.9 171.3,374.2" fill="#2bdbf1" stroke="#1c8e9d" stroke-width="0.4"/>
<polygon points="156.1,380.3 148.5,378.7 152.5,375.1 160.0,376.6" fill="#2bd9f2" stroke="#1c8d9d" stroke-width="0.4"/>
<polygon points="163.6,381.7 156.1,380.3 160.0,376.6 167.5,377.9" fill="#2cdef1" stroke="#1c909d" stroke-width="0.4"/>
<path d="M135.6 331.4V336.4" stroke="#3a5a8a" stroke-width="0.45"/>
<circle cx="135.6" cy="331.4" r="1.65" fill="#c40000" stroke="#800" stroke-width="0.5"/>
<circle cx="46.8" cy="373.7" r="0.85" fill="#111"/>
<circle cx="45.5" cy="359.0" r="0.85" fill="#111"/>
<circle cx="44.3" cy="344.3" r="0.85" fill="#111"/>
<circle cx="43.0" cy="329.6" r="0.85" fill="#111"/>
<circle cx="41.7" cy="314.8" r="0.85" fill="#111"/>
<circle cx="40.4" cy="300.1" r="0.85" fill="#111"/>
<circle cx="39.2" cy="285.4" r="0.85" fill="#111"/>
<circle cx="49.2" cy="401.0" r="0.85" fill="#111"/>
<circle cx="71.8" cy="408.5" r="0.85" fill="#111"/>
<circle cx="94.6" cy="416.0" r="0.85" fill="#111"/>
<circle cx="117.5" cy="423.6" r="0.85" fill="#111"/>
<circle cx="140.7" cy="431.3" r="0.85" fill="#111"/>
<circle cx="164.1" cy="439.0" r="0.85" fill="#111"/>
<circle cx="164.1" cy="439.0" r="0.85" fill="#111"/>
<circle cx="175.5" cy="424.6" r="0.85" fill="#111"/>
<circle cx="186.5" cy="410.6" r="0.85" fill="#111"/>
<circle cx="197.1" cy="397.2" r="0.85" fill="#111"/>
<circle cx="207.3" cy="384.3" r="0.85" fill="#111"/>
<circle cx="217.1" cy="371.8" r="0.85" fill="#111"/>
<text x="40.7" y="376.1" text-anchor="middle" font-size="6.25" font-family="Liberation Serif, serif" font-weight="bold" fill="#1c2436" stroke="#1c2436" stroke-width="0.3" textLength="2.97" lengthAdjust="spacingAndGlyphs">1</text>
<text x="38.5" y="361.4" text-anchor="middle" font-size="6.25" font-family="Liberation Serif, serif" font-weight="bold" fill="#1c2436" stroke="#1c2436" stroke-width="0.3" textLength="7.42" lengthAdjust="spacingAndGlyphs">1.5</text>
<text x="38.2" y="346.6" text-anchor="middle" font-size="6.25" font-family="Liberation Serif, serif" font-weight="bold" fill="#1c2436" stroke="#1c2436" stroke-width="0.3" textLength="2.97" lengthAdjust="spacingAndGlyphs">2</text>
<text x="36.0" y="331.9" text-anchor="middle" font-size="6.25" font-family="Liberation Serif, serif" font-weight="bold" fill="#1c2436" stroke="#1c2436" stroke-width="0.3" textLength="7.42" lengthAdjust="spacingAndGlyphs">2.5</text>
<text x="35.6" y="317.2" text-anchor="middle" font-size="6.25" font-family="Liberation Serif, serif" font-weight="bold" fill="#1c2436" stroke="#1c2436" stroke-width="0.3" textLength="2.97" lengthAdjust="spacingAndGlyphs">3</text>
<text x="33.4" y="302.5" text-anchor="middle" font-size="6.25" font-family="Liberation Serif, serif" font-weight="bold" fill="#1c2436" stroke="#1c2436" stroke-width="0.3" textLength="7.42" lengthAdjust="spacingAndGlyphs">3.5</text>
<text x="33.1" y="287.7" text-anchor="middle" font-size="6.25" font-family="Liberation Serif, serif" font-weight="bold" fill="#1c2436" stroke="#1c2436" stroke-width="0.3" textLength="2.97" lengthAdjust="spacingAndGlyphs">4</text>
<text x="45.1" y="405.6" text-anchor="middle" font-size="7.10" font-family="Liberation Serif, serif" font-weight="bold" fill="#1c2436" stroke="#1c2436" stroke-width="0.3" textLength="6.74" lengthAdjust="spacingAndGlyphs">60</text>
<text x="68.0" y="414.4" text-anchor="middle" font-size="7.10" font-family="Liberation Serif, serif" font-weight="bold" fill="#1c2436" stroke="#1c2436" stroke-width="0.3" textLength="6.74" lengthAdjust="spacingAndGlyphs">58</text>
<text x="90.9" y="421.1" text-anchor="middle" font-size="7.10" font-family="Liberation Serif, serif" font-weight="bold" fill="#1c2436" stroke="#1c2436" stroke-width="0.3" textLength="6.74" lengthAdjust="spacingAndGlyphs">56</text>
<text x="113.8" y="429.7" text-anchor="middle" font-size="7.10" font-family="Liberation Serif, serif" font-weight="bold" fill="#1c2436" stroke="#1c2436" stroke-width="0.3" textLength="6.74" lengthAdjust="spacingAndGlyphs">54</text>
<text x="136.7" y="437.1" text-anchor="middle" font-size="7.10" font-family="Liberation Serif, serif" font-weight="bold" fill="#1c2436" stroke="#1c2436" stroke-width="0.3" textLength="6.74" lengthAdjust="spacingAndGlyphs">52</text>
<text x="159.6" y="444.0" text-anchor="middle" font-size="7.10" font-family="Liberation Serif, serif" font-weight="bold" fill="#1c2436" stroke="#1c2436" stroke-width="0.3" textLength="6.74" lengthAdjust="spacingAndGlyphs">50</text>
<text x="169.4" y="443.7" text-anchor="middle" font-size="7.10" font-family="Liberation Serif, serif" font-weight="bold" fill="#1c2436" stroke="#1c2436" stroke-width="0.3" textLength="6.74" lengthAdjust="spacingAndGlyphs">35</text>
<text x="180.3" y="430.2" text-anchor="middle" font-size="7.10" font-family="Liberation Serif, serif" font-weight="bold" fill="#1c2436" stroke="#1c2436" stroke-width="0.3" textLength="6.74" lengthAdjust="spacingAndGlyphs">37</text>
<text x="191.7" y="416.1" text-anchor="middle" font-size="7.10" font-family="Liberation Serif, serif" font-weight="bold" fill="#1c2436" stroke="#1c2436" stroke-width="0.3" textLength="6.74" lengthAdjust="spacingAndGlyphs">39</text>
<text x="201.6" y="402.6" text-anchor="middle" font-size="7.10" font-family="Liberation Serif, serif" font-weight="bold" fill="#1c2436" stroke="#1c2436" stroke-width="0.3" textLength="6.74" lengthAdjust="spacingAndGlyphs">41</text>
<text x="212.8" y="388.6" text-anchor="middle" font-size="7.10" font-family="Liberation Serif, serif" font-weight="bold" fill="#1c2436" stroke="#1c2436" stroke-width="0.3" textLength="6.74" lengthAdjust="spacingAndGlyphs">43</text>
<text x="221.4" y="375.5" text-anchor="middle" font-size="7.10" font-family="Liberation Serif, serif" font-weight="bold" fill="#1c2436" stroke="#1c2436" stroke-width="0.3" textLength="6.74" lengthAdjust="spacingAndGlyphs">45</text>
<text x="91.5" y="444.1" transform="rotate(19.9 91.5 444.1)" text-anchor="middle" dominant-baseline="central" font-size="7.2" font-family="Liberation Serif, serif" font-weight="bold" fill="#1c2a48" stroke="#1c2a48" stroke-width="0.25" textLength="63.6" lengthAdjust="spacingAndGlyphs">Spray Distance (inch)</text>
<text x="226.4" y="417.8" transform="rotate(-56.5 226.4 417.8)" text-anchor="middle" dominant-baseline="central" font-size="7.2" font-family="Liberation Serif, serif" font-weight="bold" fill="#1c2a48" stroke="#1c2a48" stroke-width="0.25" textLength="75" lengthAdjust="spacingAndGlyphs">Powder Feed Rate (gm/min)</text>
<text x="9.6" y="342.8" transform="rotate(-90 9.6 342.8)" text-anchor="middle" dominant-baseline="central" font-size="8.3" font-family="Liberation Serif, serif" font-weight="bold" fill="#223355" textLength="53.5" lengthAdjust="spacingAndGlyphs">Porosity (vol%)</text>
<text x="124.1" y="484.3" text-anchor="middle" font-size="15" font-family="Liberation Serif, serif" fill="#111">(<tspan font-weight="bold">c</tspan>)</text>
<path d="M368.4 355.8L364.4 263.1M384.7 345.7L381.9 256.5M400.1 336.3L398.5 250.6M436.0 331.3L436.5 247.3M457.4 335.2L458.8 249.5M478.9 339.2L481.3 251.8M500.5 343.1L503.9 254.0M415.0 353.7L414.3 245.2M520.9 376.2L526.7 256.3" stroke="#a6a6a6" stroke-width="0.9" fill="none"/>
<path d="M351.2 366.4L414.8 327.4M414.8 327.4L522.3 347.2M350.3 350.4L414.7 313.7M414.7 313.7L523.1 332.0M349.5 334.4L414.6 300.0M414.6 300.0L523.8 316.9M348.6 318.4L414.5 286.3M414.5 286.3L524.5 301.7M347.7 302.3L414.4 272.6M414.4 272.6L525.3 286.6M346.9 286.3L414.4 258.9M414.4 258.9L526.0 271.5M346.0 270.3L414.3 245.2M414.3 245.2L526.7 256.3" stroke="#6c6c6c" stroke-width="0.7" fill="none"/>
<path d="M352.8 397.2L346.0 270.3" stroke="#8c8c8c" stroke-width="0.85"/>
<polygon points="470.3,423.2 352.8,397.2 415.0,353.7 520.9,376.2" fill="#646464"/>
<polyline points="439.8,358.9 438.8,359.3 437.6,359.8 436.3,360.3 435.7,360.6 434.5,361.3 433.5,361.9 432.5,362.5 431.5,363.2 430.6,363.9 429.8,364.6 429.0,365.3 428.3,366.0 427.6,366.8 427.3,367.1 426.6,367.9 426.0,368.7 425.8,369.1 425.2,369.9 424.8,370.6 424.5,371.1 424.1,371.9 423.9,372.3 423.5,373.1 423.4,373.5 423.1,374.4 423.0,374.8 422.8,375.6 422.6,376.2 422.5,376.7 422.4,377.5 422.4,378.0 422.3,378.6 422.3,379.4 422.3,379.8 422.3,380.4 422.4,381.2 422.5,381.8 422.6,382.3 422.7,382.8 422.8,383.6 423.0,384.3 423.2,384.8 423.4,385.3 423.5,385.8 423.8,386.5 424.1,387.2 424.5,387.9 424.8,388.5 425.1,389.1 425.4,389.6 425.7,390.2 426.1,390.8 426.5,391.4 426.9,391.9 427.4,392.5 427.8,393.1 428.3,393.7 428.8,394.3 429.4,395.0 430.0,395.6 430.6,396.2 431.2,396.8 431.7,397.4 432.3,397.9 432.9,398.4 433.5,398.9 434.2,399.5 435.0,400.2 435.9,400.9 436.5,401.4 437.2,401.8 438.0,402.4 439.1,403.2 439.9,403.7 440.6,404.1 441.7,404.8 442.7,405.4 443.4,405.8 444.8,406.5 445.7,406.9 446.7,407.4 448.1,408.0 448.9,408.4 450.5,409.1 451.8,409.6 453.1,410.0 454.8,410.6 456.3,411.1 457.5,411.5 459.4,412.0 461.3,412.4 463.3,412.9 465.3,413.3 467.3,413.6 468.7,413.8 470.4,414.1 472.6,414.3 474.2,414.5 475.9,414.7 478.1,414.8 479.2,414.9 479.2,414.9" fill="none" stroke="#4098c0" stroke-width="1.3"/>
<polyline points="406.4,359.7 406.1,360.4 406.0,360.8 405.6,361.6 405.5,362.0 405.1,362.8 405.0,363.3 404.6,364.1 404.5,364.5 404.1,365.3 404.0,365.7 403.7,366.5 403.5,367.0 403.3,367.6 403.1,368.3 403.0,368.7 402.7,369.5 402.6,370.0 402.4,370.7 402.3,371.3 402.2,371.8 402.0,372.6 401.9,373.1 401.8,373.7 401.7,374.4 401.7,374.9 401.6,375.5 401.6,376.3 401.6,376.8 401.6,377.3 401.6,378.1 401.7,378.7 401.7,379.2 401.8,379.8 401.9,380.6 402.0,381.1 402.1,381.6 402.2,382.2 402.4,382.8 402.6,383.6 402.8,384.2 403.0,384.7 403.1,385.3 403.4,385.8 403.6,386.4 403.9,387.1 404.2,387.8 404.5,388.4 404.9,389.1 405.2,389.7 405.5,390.2 405.9,390.8 406.2,391.4 406.6,392.0 407.0,392.6 407.4,393.2 407.8,393.8 408.3,394.4 408.8,395.0 409.2,395.6 409.7,396.2 410.3,396.8 410.8,397.5 411.4,398.1 411.9,398.7 412.4,399.2 412.9,399.8 413.4,400.3 414.0,400.9 414.5,401.4 415.1,402.0 415.9,402.7 416.6,403.4 417.3,404.1 417.9,404.6 418.5,405.1 419.1,405.6 419.8,406.2 420.7,406.9 421.6,407.6 422.2,408.1 422.8,408.6 423.6,409.2 424.7,409.9 425.5,410.5 426.2,411.0 427.0,411.5 428.2,412.3 429.0,412.8 429.7,413.2 431.1,414.0 431.9,414.5 432.8,414.9 432.8,414.9" fill="none" stroke="#40b0a0" stroke-width="1.3"/>
<polyline points="384.6,374.9 384.6,375.4 384.5,375.9 384.5,376.7 384.5,377.3 384.5,377.8 384.5,378.4 384.6,379.2 384.6,379.8 384.7,380.3 384.8,380.8 384.9,381.5 385.0,382.3 385.2,382.8 385.3,383.3 385.4,383.9 385.6,384.5 385.8,385.2 386.1,385.9 386.3,386.5 386.5,387.1 386.7,387.6 387.0,388.2 387.2,388.7 387.5,389.3 387.8,390.0 388.1,390.6 388.5,391.3 388.9,391.9 389.2,392.6 389.6,393.2 390.0,393.8 390.4,394.4 390.8,395.1 391.2,395.7 391.6,396.3 392.0,396.9 392.5,397.5 392.9,398.1 393.4,398.7 393.8,399.3 394.3,399.9 394.8,400.4 395.2,401.0 395.7,401.6 396.2,402.2 396.7,402.8 397.2,403.4 397.7,403.9 398.2,404.6 398.8,405.3 399.4,405.9 400.0,406.6 400.6,407.3 401.2,407.9 401.2,407.9" fill="none" stroke="#50b870" stroke-width="1.3"/>
<polyline points="371.2,384.3 371.4,385.0 371.6,385.8 371.8,386.4 371.9,386.9 372.1,387.4 372.3,388.0 372.5,388.6 372.8,389.3 373.1,390.0 373.4,390.6 373.7,391.3 374.0,391.9 374.3,392.5 374.5,393.1 374.9,393.7 375.2,394.3 375.5,394.9 375.8,395.5 376.2,396.0 376.6,396.7 376.9,397.3 377.3,397.9 377.7,398.5 378.1,399.1 378.5,399.7 378.9,400.3 379.4,401.0 379.8,401.6 380.2,402.2 380.7,402.9 381.1,403.5 381.1,403.5" fill="none" stroke="#50c050" stroke-width="1.3"/>
<polyline points="361.3,391.3 361.5,392.0 361.8,392.7 362.1,393.3 362.4,394.0 362.7,394.6 363.0,395.2 363.3,395.8 363.6,396.4 363.9,397.0 364.2,397.6 364.6,398.2 364.9,398.8 365.3,399.4 365.6,400.1 365.6,400.1" fill="none" stroke="#60c040" stroke-width="1.3"/>
<polygon points="417.0,304.7 411.8,302.4 414.6,300.7 419.7,303.0" fill="#2de0ee" stroke="#1d919b" stroke-width="0.4"/>
<polygon points="422.1,307.0 417.0,304.7 419.7,303.0 424.9,305.1" fill="#2dd8ef" stroke="#1d8c9b" stroke-width="0.4"/>
<polygon points="427.3,309.2 422.1,307.0 424.9,305.1 430.0,307.1" fill="#2dd1ef" stroke="#1d889b" stroke-width="0.4"/>
<polygon points="414.2,306.3 409.0,303.8 411.8,302.4 417.0,304.7" fill="#2ddfee" stroke="#1d919b" stroke-width="0.4"/>
<polygon points="432.4,311.2 427.3,309.2 430.0,307.1 435.1,309.0" fill="#2dcaf0" stroke="#1d839c" stroke-width="0.4"/>
<polygon points="419.3,308.7 414.2,306.3 417.0,304.7 422.1,307.0" fill="#2dd6ef" stroke="#1d8b9b" stroke-width="0.4"/>
<polygon points="437.6,313.1 432.4,311.2 435.1,309.0 440.2,310.8" fill="#2dc4f0" stroke="#1d809c" stroke-width="0.4"/>
<polygon points="424.5,311.0 419.3,308.7 422.1,307.0 427.3,309.2" fill="#2dcfef" stroke="#1d869b" stroke-width="0.4"/>
<polygon points="442.7,314.9 437.6,313.1 440.2,310.8 445.4,312.5" fill="#2cbbef" stroke="#1d799c" stroke-width="0.4"/>
<polygon points="411.3,307.7 406.1,305.1 409.0,303.8 414.2,306.3" fill="#2ddfee" stroke="#1d919b" stroke-width="0.4"/>
<polygon points="429.7,313.2 424.5,311.0 427.3,309.2 432.4,311.2" fill="#2dc8f0" stroke="#1d829c" stroke-width="0.4"/>
<polygon points="447.9,316.6 442.7,314.9 445.4,312.5 450.5,314.1" fill="#2bb1ef" stroke="#1c739b" stroke-width="0.4"/>
<polygon points="416.5,310.3 411.3,307.7 414.2,306.3 419.3,308.7" fill="#2dd6ef" stroke="#1d8b9b" stroke-width="0.4"/>
<polygon points="434.9,315.2 429.7,313.2 432.4,311.2 437.6,313.1" fill="#2dbff0" stroke="#1d7c9c" stroke-width="0.4"/>
<polygon points="453.0,318.2 447.9,316.6 450.5,314.1 455.7,315.5" fill="#2aa8ee" stroke="#1c6d9b" stroke-width="0.4"/>
<polygon points="421.7,312.7 416.5,310.3 419.3,308.7 424.5,311.0" fill="#2dceef" stroke="#1d869c" stroke-width="0.4"/>
<polygon points="440.0,317.1 434.9,315.2 437.6,313.1 442.7,314.9" fill="#2bb2ef" stroke="#1c749b" stroke-width="0.4"/>
<polygon points="426.9,314.9 421.7,312.7 424.5,311.0 429.7,313.2" fill="#2dc6f0" stroke="#1d819c" stroke-width="0.4"/>
<polygon points="408.5,309.0 403.2,306.2 406.1,305.1 411.3,307.7" fill="#2de0ee" stroke="#1d929b" stroke-width="0.4"/>
<polygon points="458.2,319.6 453.0,318.2 455.7,315.5 460.8,316.8" fill="#2aa1ed" stroke="#1b699a" stroke-width="0.4"/>
<polygon points="445.2,318.9 440.0,317.1 442.7,314.9 447.9,316.6" fill="#2aa7ee" stroke="#1b6d9b" stroke-width="0.4"/>
<polygon points="413.7,311.6 408.5,309.0 411.3,307.7 416.5,310.3" fill="#2dd7ef" stroke="#1d8c9b" stroke-width="0.4"/>
<polygon points="432.1,317.1 426.9,314.9 429.7,313.2 434.9,315.2" fill="#2cbbef" stroke="#1d799c" stroke-width="0.4"/>
<polygon points="463.4,320.9 458.2,319.6 460.8,316.8 466.0,318.0" fill="#299ced" stroke="#1b659a" stroke-width="0.4"/>
<polygon points="450.4,320.6 445.2,318.9 447.9,316.6 453.0,318.2" fill="#299eed" stroke="#1b679a" stroke-width="0.4"/>
<polygon points="418.9,314.1 413.7,311.6 416.5,310.3 421.7,312.7" fill="#2dceef" stroke="#1d869c" stroke-width="0.4"/>
<polygon points="437.4,319.1 432.1,317.1 434.9,315.2 440.0,317.1" fill="#2badee" stroke="#1c709b" stroke-width="0.4"/>
<polygon points="468.6,322.1 463.4,320.9 466.0,318.0 471.1,319.1" fill="#2998ed" stroke="#1a639a" stroke-width="0.4"/>
<polygon points="455.6,322.2 450.4,320.6 453.0,318.2 458.2,319.6" fill="#2896ec" stroke="#1a619a" stroke-width="0.4"/>
<polygon points="424.2,316.5 418.9,314.1 421.7,312.7 426.9,314.9" fill="#2dc6f0" stroke="#1d819c" stroke-width="0.4"/>
<polygon points="405.6,310.1 400.3,307.2 403.2,306.2 408.5,309.0" fill="#2ddfe9" stroke="#1d9197" stroke-width="0.4"/>
<polygon points="442.6,321.0 437.4,319.1 440.0,317.1 445.2,318.9" fill="#2aa1ed" stroke="#1b689a" stroke-width="0.4"/>
<polygon points="429.4,318.8 424.2,316.5 426.9,314.9 432.1,317.1" fill="#2cb9ef" stroke="#1d789b" stroke-width="0.4"/>
<polygon points="410.8,312.8 405.6,310.1 408.5,309.0 413.7,311.6" fill="#2dd8ef" stroke="#1d8d9b" stroke-width="0.4"/>
<polygon points="460.8,323.6 455.6,322.2 458.2,319.6 463.4,320.9" fill="#2890ec" stroke="#1a5e99" stroke-width="0.4"/>
<polygon points="473.8,323.2 468.6,322.1 471.1,319.1 476.3,320.1" fill="#2895ec" stroke="#1a619a" stroke-width="0.4"/>
<polygon points="447.8,322.8 442.6,321.0 445.2,318.9 450.4,320.6" fill="#2896ec" stroke="#1a619a" stroke-width="0.4"/>
<polygon points="416.1,315.4 410.8,312.8 413.7,311.6 418.9,314.1" fill="#2dcfef" stroke="#1d879b" stroke-width="0.4"/>
<polygon points="434.6,320.9 429.4,318.8 432.1,317.1 437.4,319.1" fill="#2aaaee" stroke="#1c6e9b" stroke-width="0.4"/>
<polygon points="466.0,324.9 460.8,323.6 463.4,320.9 468.6,322.1" fill="#278deb" stroke="#1a5c99" stroke-width="0.4"/>
<polygon points="479.0,324.2 473.8,323.2 476.3,320.1 481.5,320.9" fill="#2894ec" stroke="#1a609a" stroke-width="0.4"/>
<polygon points="453.0,324.5 447.8,322.8 450.4,320.6 455.6,322.2" fill="#288feb" stroke="#1a5d99" stroke-width="0.4"/>
<polygon points="421.4,317.9 416.1,315.4 418.9,314.1 424.2,316.5" fill="#2dc6f0" stroke="#1d819c" stroke-width="0.4"/>
<polygon points="439.9,323.0 434.6,320.9 437.4,319.1 442.6,321.0" fill="#299ced" stroke="#1b669a" stroke-width="0.4"/>
<polygon points="402.7,311.0 397.3,308.0 400.3,307.2 405.6,310.1" fill="#2ddcde" stroke="#1d8f91" stroke-width="0.4"/>
<polygon points="471.2,326.1 466.0,324.9 468.6,322.1 473.8,323.2" fill="#278beb" stroke="#195b99" stroke-width="0.4"/>
<polygon points="458.2,326.1 453.0,324.5 455.6,322.2 460.8,323.6" fill="#278beb" stroke="#195a98" stroke-width="0.4"/>
<polygon points="426.6,320.3 421.4,317.9 424.2,316.5 429.4,318.8" fill="#2cb9ef" stroke="#1d789b" stroke-width="0.4"/>
<polygon points="484.2,325.0 479.0,324.2 481.5,320.9 486.7,321.7" fill="#2894ec" stroke="#1a609a" stroke-width="0.4"/>
<polygon points="408.0,313.8 402.7,311.0 405.6,310.1 410.8,312.8" fill="#2ddbee" stroke="#1d8e9b" stroke-width="0.4"/>
<polygon points="445.1,324.9 439.9,323.0 442.6,321.0 447.8,322.8" fill="#2891ec" stroke="#1a5e99" stroke-width="0.4"/>
<polygon points="431.9,322.6 426.6,320.3 429.4,318.8 434.6,320.9" fill="#2aa9ee" stroke="#1c6e9b" stroke-width="0.4"/>
<polygon points="413.2,316.6 408.0,313.8 410.8,312.8 416.1,315.4" fill="#2dd1ef" stroke="#1d889b" stroke-width="0.4"/>
<polygon points="476.4,327.2 471.2,326.1 473.8,323.2 479.0,324.2" fill="#278aea" stroke="#195a98" stroke-width="0.4"/>
<polygon points="463.4,327.5 458.2,326.1 460.8,323.6 466.0,324.9" fill="#2787ea" stroke="#195898" stroke-width="0.4"/>
<polygon points="489.4,325.8 484.2,325.0 486.7,321.7 491.9,322.3" fill="#2996ec" stroke="#1a629a" stroke-width="0.4"/>
<polygon points="450.3,326.7 445.1,324.9 447.8,322.8 453.0,324.5" fill="#278beb" stroke="#195b99" stroke-width="0.4"/>
<polygon points="418.5,319.2 413.2,316.6 416.1,315.4 421.4,317.9" fill="#2dc8f0" stroke="#1d829c" stroke-width="0.4"/>
<polygon points="437.1,324.7 431.9,322.6 434.6,320.9 439.9,323.0" fill="#299bed" stroke="#1b649a" stroke-width="0.4"/>
<polygon points="468.7,328.8 463.4,327.5 466.0,324.9 471.2,326.1" fill="#2685e9" stroke="#195698" stroke-width="0.4"/>
<polygon points="399.7,311.7 394.4,308.7 397.3,308.0 402.7,311.0" fill="#2dd8d1" stroke="#1d8c88" stroke-width="0.4"/>
<polygon points="481.7,328.2 476.4,327.2 479.0,324.2 484.2,325.0" fill="#278aea" stroke="#195998" stroke-width="0.4"/>
<polygon points="455.6,328.3 450.3,326.7 453.0,324.5 458.2,326.1" fill="#2787ea" stroke="#195898" stroke-width="0.4"/>
<polygon points="494.7,326.4 489.4,325.8 491.9,322.3 497.1,322.8" fill="#2999ed" stroke="#1b639a" stroke-width="0.4"/>
<polygon points="423.8,321.7 418.5,319.2 421.4,317.9 426.6,320.3" fill="#2cbcef" stroke="#1d7a9c" stroke-width="0.4"/>
<polygon points="442.4,326.7 437.1,324.7 439.9,323.0 445.1,324.9" fill="#288fec" stroke="#1a5d99" stroke-width="0.4"/>
<polygon points="405.0,314.7 399.7,311.7 402.7,311.0 408.0,313.8" fill="#2ddeee" stroke="#1d919b" stroke-width="0.4"/>
<polygon points="473.9,330.0 468.7,328.8 471.2,326.1 476.4,327.2" fill="#2683e9" stroke="#195597" stroke-width="0.4"/>
<polygon points="460.8,329.9 455.6,328.3 458.2,326.1 463.4,327.5" fill="#2683e9" stroke="#195597" stroke-width="0.4"/>
<polygon points="486.9,329.0 481.7,328.2 484.2,325.0 489.4,325.8" fill="#278aea" stroke="#195a98" stroke-width="0.4"/>
<polygon points="429.1,324.0 423.8,321.7 426.6,320.3 431.9,322.6" fill="#2babee" stroke="#1c6f9b" stroke-width="0.4"/>
<polygon points="410.3,317.5 405.0,314.7 408.0,313.8 413.2,316.6" fill="#2dd4ef" stroke="#1d8a9b" stroke-width="0.4"/>
<polygon points="447.7,328.6 442.4,326.7 445.1,324.9 450.3,326.7" fill="#2789ea" stroke="#195998" stroke-width="0.4"/>
<polygon points="499.9,326.8 494.7,326.4 497.1,322.8 502.4,323.1" fill="#299ded" stroke="#1b669a" stroke-width="0.4"/>
<polygon points="434.4,326.3 429.1,324.0 431.9,322.6 437.1,324.7" fill="#299bed" stroke="#1b659a" stroke-width="0.4"/>
<polygon points="415.7,320.2 410.3,317.5 413.2,316.6 418.5,319.2" fill="#2dcbef" stroke="#1d849c" stroke-width="0.4"/>
<polygon points="479.2,331.0 473.9,330.0 476.4,327.2 481.7,328.2" fill="#2682e9" stroke="#195497" stroke-width="0.4"/>
<polygon points="466.1,331.3 460.8,329.9 463.4,327.5 468.7,328.8" fill="#2680e8" stroke="#185397" stroke-width="0.4"/>
<polygon points="492.2,329.7 486.9,329.0 489.4,325.8 494.7,326.4" fill="#278beb" stroke="#195a98" stroke-width="0.4"/>
<polygon points="452.9,330.4 447.7,328.6 450.3,326.7 455.6,328.3" fill="#2684e9" stroke="#195697" stroke-width="0.4"/>
<polygon points="396.7,312.3 391.3,309.2 394.4,308.7 399.7,311.7" fill="#2dd2c0" stroke="#1d897d" stroke-width="0.4"/>
<polygon points="505.2,327.2 499.9,326.8 502.4,323.1 507.6,323.4" fill="#2aa3ed" stroke="#1b6a9a" stroke-width="0.4"/>
<polygon points="421.0,322.8 415.7,320.2 418.5,319.2 423.8,321.7" fill="#2dc0f0" stroke="#1d7d9c" stroke-width="0.4"/>
<polygon points="439.7,328.4 434.4,326.3 437.1,324.7 442.4,326.7" fill="#288fec" stroke="#1a5d99" stroke-width="0.4"/>
<polygon points="471.3,332.5 466.1,331.3 468.7,328.8 473.9,330.0" fill="#257de8" stroke="#185296" stroke-width="0.4"/>
<polygon points="402.1,315.4 396.7,312.3 399.7,311.7 405.0,314.7" fill="#2ddfe8" stroke="#1d9197" stroke-width="0.4"/>
<polygon points="484.4,332.0 479.2,331.0 481.7,328.2 486.9,329.0" fill="#2682e8" stroke="#195497" stroke-width="0.4"/>
<polygon points="458.2,332.0 452.9,330.4 455.6,328.3 460.8,329.9" fill="#2680e8" stroke="#185397" stroke-width="0.4"/>
<polygon points="497.4,330.3 492.2,329.7 494.7,326.4 499.9,326.8" fill="#278deb" stroke="#1a5b99" stroke-width="0.4"/>
<polygon points="426.3,325.3 421.0,322.8 423.8,321.7 429.1,324.0" fill="#2baeee" stroke="#1c719b" stroke-width="0.4"/>
<polygon points="445.0,330.4 439.7,328.4 442.4,326.7 447.7,328.6" fill="#2789ea" stroke="#195998" stroke-width="0.4"/>
<polygon points="407.4,318.3 402.1,315.4 405.0,314.7 410.3,317.5" fill="#2dd8ef" stroke="#1d8d9b" stroke-width="0.4"/>
<polygon points="510.5,327.4 505.2,327.2 507.6,323.4 512.9,323.5" fill="#2baaee" stroke="#1c6f9b" stroke-width="0.4"/>
<polygon points="476.6,333.7 471.3,332.5 473.9,330.0 479.2,331.0" fill="#257ce7" stroke="#185096" stroke-width="0.4"/>
<polygon points="489.7,332.8 484.4,332.0 486.9,329.0 492.2,329.7" fill="#2682e9" stroke="#195597" stroke-width="0.4"/>
<polygon points="463.5,333.5 458.2,332.0 460.8,329.9 466.1,331.3" fill="#257ce7" stroke="#185196" stroke-width="0.4"/>
<polygon points="431.6,327.6 426.3,325.3 429.1,324.0 434.4,326.3" fill="#299eed" stroke="#1b679a" stroke-width="0.4"/>
<polygon points="412.8,321.1 407.4,318.3 410.3,317.5 415.7,320.2" fill="#2dceef" stroke="#1d869c" stroke-width="0.4"/>
<polygon points="450.3,332.2 445.0,330.4 447.7,328.6 452.9,330.4" fill="#2683e9" stroke="#195597" stroke-width="0.4"/>
<polygon points="502.7,330.7 497.4,330.3 499.9,326.8 505.2,327.2" fill="#288fec" stroke="#1a5d99" stroke-width="0.4"/>
<polygon points="393.7,312.8 388.2,309.5 391.3,309.2 396.7,312.3" fill="#2dccac" stroke="#1d8570" stroke-width="0.4"/>
<polygon points="436.9,329.8 431.6,327.6 434.4,326.3 439.7,328.4" fill="#2890ec" stroke="#1a5e99" stroke-width="0.4"/>
<polygon points="515.8,327.5 510.5,327.4 512.9,323.5 518.2,323.5" fill="#2bb2ef" stroke="#1c749b" stroke-width="0.4"/>
<polygon points="418.1,323.8 412.8,321.1 415.7,320.2 421.0,322.8" fill="#2dc5f0" stroke="#1d809c" stroke-width="0.4"/>
<polygon points="481.9,334.7 476.6,333.7 479.2,331.0 484.4,332.0" fill="#257be7" stroke="#185096" stroke-width="0.4"/>
<polygon points="468.8,334.9 463.5,333.5 466.1,331.3 471.3,332.5" fill="#2579e7" stroke="#184f96" stroke-width="0.4"/>
<polygon points="495.0,333.5 489.7,332.8 492.2,329.7 497.4,330.3" fill="#2683e9" stroke="#195597" stroke-width="0.4"/>
<polygon points="455.6,333.9 450.3,332.2 452.9,330.4 458.2,332.0" fill="#257ee8" stroke="#185297" stroke-width="0.4"/>
<polygon points="399.1,315.9 393.7,312.8 396.7,312.3 402.1,315.4" fill="#2dd9d6" stroke="#1d8d8b" stroke-width="0.4"/>
<polygon points="508.0,331.1 502.7,330.7 505.2,327.2 510.5,327.4" fill="#2893ec" stroke="#1a609a" stroke-width="0.4"/>
<polygon points="423.5,326.4 418.1,323.8 421.0,322.8 426.3,325.3" fill="#2cb4ef" stroke="#1c759b" stroke-width="0.4"/>
<polygon points="442.3,331.9 436.9,329.8 439.7,328.4 445.0,330.4" fill="#2789ea" stroke="#195998" stroke-width="0.4"/>
<polygon points="404.4,319.0 399.1,315.9 402.1,315.4 407.4,318.3" fill="#2dddee" stroke="#1d909b" stroke-width="0.4"/>
<polygon points="474.1,336.1 468.8,334.9 471.3,332.5 476.6,333.7" fill="#2477e6" stroke="#184e96" stroke-width="0.4"/>
<polygon points="487.2,335.6 481.9,334.7 484.4,332.0 489.7,332.8" fill="#257be7" stroke="#185096" stroke-width="0.4"/>
<polygon points="521.1,327.5 515.8,327.5 518.2,323.5 523.5,323.4" fill="#2cbcef" stroke="#1d7a9c" stroke-width="0.4"/>
<polygon points="460.9,335.5 455.6,333.9 458.2,332.0 463.5,333.5" fill="#257ae7" stroke="#184f96" stroke-width="0.4"/>
<polygon points="500.3,334.0 495.0,333.5 497.4,330.3 502.7,330.7" fill="#2685e9" stroke="#195798" stroke-width="0.4"/>
<polygon points="428.8,328.8 423.5,326.4 426.3,325.3 431.6,327.6" fill="#2aa3ed" stroke="#1b6a9a" stroke-width="0.4"/>
<polygon points="447.6,333.9 442.3,331.9 445.0,330.4 450.3,332.2" fill="#2683e9" stroke="#195597" stroke-width="0.4"/>
<polygon points="409.8,321.9 404.4,319.0 407.4,318.3 412.8,321.1" fill="#2dd3ef" stroke="#1d899b" stroke-width="0.4"/>
<polygon points="513.3,331.3 508.0,331.1 510.5,327.4 515.8,327.5" fill="#299aed" stroke="#1b649a" stroke-width="0.4"/>
<polygon points="479.4,337.3 474.1,336.1 476.6,333.7 481.9,334.7" fill="#2476e6" stroke="#174d95" stroke-width="0.4"/>
<polygon points="492.5,336.4 487.2,335.6 489.7,332.8 495.0,333.5" fill="#257ce7" stroke="#185096" stroke-width="0.4"/>
<polygon points="466.2,337.0 460.9,335.5 463.5,333.5 468.8,334.9" fill="#2477e6" stroke="#184d95" stroke-width="0.4"/>
<polygon points="434.2,331.1 428.8,328.8 431.6,327.6 436.9,329.8" fill="#2893ec" stroke="#1a609a" stroke-width="0.4"/>
<polygon points="390.6,313.1 385.1,309.7 388.2,309.5 393.7,312.8" fill="#2dc599" stroke="#1d8063" stroke-width="0.4"/>
<polygon points="415.2,324.7 409.8,321.9 412.8,321.1 418.1,323.8" fill="#2dc9f0" stroke="#1d839c" stroke-width="0.4"/>
<polygon points="505.6,334.5 500.3,334.0 502.7,330.7 508.0,331.1" fill="#2788ea" stroke="#195898" stroke-width="0.4"/>
<polygon points="452.9,335.7 447.6,333.9 450.3,332.2 455.6,333.9" fill="#257ee8" stroke="#185297" stroke-width="0.4"/>
<polygon points="396.0,316.3 390.6,313.1 393.7,312.8 399.1,315.9" fill="#2dd2c1" stroke="#1d897d" stroke-width="0.4"/>
<polygon points="518.7,331.3 513.3,331.3 515.8,327.5 521.1,327.5" fill="#2aa3ed" stroke="#1b6a9a" stroke-width="0.4"/>
<polygon points="439.5,333.3 434.2,331.1 436.9,329.8 442.3,331.9" fill="#278beb" stroke="#195a98" stroke-width="0.4"/>
<polygon points="420.6,327.3 415.2,324.7 418.1,323.8 423.5,326.4" fill="#2cbdef" stroke="#1d7b9c" stroke-width="0.4"/>
<polygon points="484.7,338.3 479.4,337.3 481.9,334.7 487.2,335.6" fill="#2475e6" stroke="#174c95" stroke-width="0.4"/>
<polygon points="471.5,338.4 466.2,337.0 468.8,334.9 474.1,336.1" fill="#2474e5" stroke="#174b95" stroke-width="0.4"/>
<polygon points="497.8,337.1 492.5,336.4 495.0,333.5 500.3,334.0" fill="#257de7" stroke="#185196" stroke-width="0.4"/>
<polygon points="458.2,337.4 452.9,335.7 455.6,333.9 460.9,335.5" fill="#2579e7" stroke="#184f96" stroke-width="0.4"/>
<polygon points="401.4,319.5 396.0,316.3 399.1,315.9 404.4,319.0" fill="#2ddfe9" stroke="#1d9197" stroke-width="0.4"/>
<polygon points="510.9,334.8 505.6,334.5 508.0,331.1 513.3,331.3" fill="#278beb" stroke="#195a99" stroke-width="0.4"/>
<polygon points="426.0,329.8 420.6,327.3 423.5,326.4 428.8,328.8" fill="#2baaee" stroke="#1c6f9b" stroke-width="0.4"/>
<polygon points="444.9,335.3 439.5,333.3 442.3,331.9 447.6,333.9" fill="#2684e9" stroke="#195698" stroke-width="0.4"/>
<polygon points="406.9,322.5 401.4,319.5 404.4,319.0 409.8,321.9" fill="#2dd8ef" stroke="#1d8c9b" stroke-width="0.4"/>
<polygon points="476.8,339.6 471.5,338.4 474.1,336.1 479.4,337.3" fill="#2472e5" stroke="#174a95" stroke-width="0.4"/>
<polygon points="490.0,339.1 484.7,338.3 487.2,335.6 492.5,336.4" fill="#2476e6" stroke="#174c95" stroke-width="0.4"/>
<polygon points="463.6,338.9 458.2,337.4 460.9,335.5 466.2,337.0" fill="#2475e6" stroke="#174c95" stroke-width="0.4"/>
<polygon points="503.1,337.6 497.8,337.1 500.3,334.0 505.6,334.5" fill="#257fe8" stroke="#185397" stroke-width="0.4"/>
<polygon points="431.4,332.2 426.0,329.8 428.8,328.8 434.2,331.1" fill="#299aed" stroke="#1b649a" stroke-width="0.4"/>
<polygon points="450.2,337.2 444.9,335.3 447.6,333.9 452.9,335.7" fill="#257fe8" stroke="#185297" stroke-width="0.4"/>
<polygon points="412.3,325.3 406.9,322.5 409.8,321.9 415.2,324.7" fill="#2dceef" stroke="#1d869c" stroke-width="0.4"/>
<polygon points="387.5,313.3 382.0,309.8 385.1,309.7 390.6,313.1" fill="#2cbc86" stroke="#1d7a57" stroke-width="0.4"/>
<polygon points="516.3,334.9 510.9,334.8 513.3,331.3 518.7,331.3" fill="#288fec" stroke="#1a5d99" stroke-width="0.4"/>
<polygon points="482.2,340.7 476.8,339.6 479.4,337.3 484.7,338.3" fill="#2371e5" stroke="#174a95" stroke-width="0.4"/>
<polygon points="495.3,339.9 490.0,339.1 492.5,336.4 497.8,337.1" fill="#2477e6" stroke="#184d95" stroke-width="0.4"/>
<polygon points="468.9,340.4 463.6,338.9 466.2,337.0 471.5,338.4" fill="#2472e5" stroke="#174a95" stroke-width="0.4"/>
<polygon points="392.9,316.6 387.5,313.3 390.6,313.1 396.0,316.3" fill="#2dcba9" stroke="#1d846e" stroke-width="0.4"/>
<polygon points="436.7,334.5 431.4,332.2 434.2,331.1 439.5,333.3" fill="#288eeb" stroke="#1a5c99" stroke-width="0.4"/>
<polygon points="417.7,328.1 412.3,325.3 415.2,324.7 420.6,327.3" fill="#2dc5f0" stroke="#1d809c" stroke-width="0.4"/>
<polygon points="508.5,338.0 503.1,337.6 505.6,334.5 510.9,334.8" fill="#2682e9" stroke="#195497" stroke-width="0.4"/>
<polygon points="455.6,339.0 450.2,337.2 452.9,335.7 458.2,337.4" fill="#257ae7" stroke="#184f96" stroke-width="0.4"/>
<polygon points="398.4,319.8 392.9,316.6 396.0,316.3 401.4,319.5" fill="#2dd8d2" stroke="#1d8d89" stroke-width="0.4"/>
<polygon points="423.1,330.7 417.7,328.1 420.6,327.3 426.0,329.8" fill="#2bb4ef" stroke="#1c759b" stroke-width="0.4"/>
<polygon points="442.1,336.6 436.7,334.5 439.5,333.3 444.9,335.3" fill="#2787ea" stroke="#195898" stroke-width="0.4"/>
<polygon points="487.5,341.6 482.2,340.7 484.7,338.3 490.0,339.1" fill="#2371e5" stroke="#174a95" stroke-width="0.4"/>
<polygon points="474.3,341.7 468.9,340.4 471.5,338.4 476.8,339.6" fill="#2370e4" stroke="#174995" stroke-width="0.4"/>
<polygon points="500.7,340.5 495.3,339.9 497.8,337.1 503.1,337.6" fill="#2478e6" stroke="#184e96" stroke-width="0.4"/>
<polygon points="403.8,322.9 398.4,319.8 401.4,319.5 406.9,322.5" fill="#2ddeee" stroke="#1d909b" stroke-width="0.4"/>
<polygon points="460.9,340.6 455.6,339.0 458.2,337.4 463.6,338.9" fill="#2475e6" stroke="#174c95" stroke-width="0.4"/>
<polygon points="513.9,338.3 508.5,338.0 510.9,334.8 516.3,334.9" fill="#2686e9" stroke="#195798" stroke-width="0.4"/>
<polygon points="428.5,333.1 423.1,330.7 426.0,329.8 431.4,332.2" fill="#2aa2ed" stroke="#1b6a9a" stroke-width="0.4"/>
<polygon points="447.5,338.6 442.1,336.6 444.9,335.3 450.2,337.2" fill="#2681e8" stroke="#185497" stroke-width="0.4"/>
<polygon points="409.3,325.8 403.8,322.9 406.9,322.5 412.3,325.3" fill="#2dd4ef" stroke="#1d899b" stroke-width="0.4"/>
<polygon points="384.3,313.3 378.8,309.7 382.0,309.8 387.5,313.3" fill="#2bb371" stroke="#1c7549" stroke-width="0.4"/>
<polygon points="492.9,342.5 487.5,341.6 490.0,339.1 495.3,339.9" fill="#2472e5" stroke="#174a95" stroke-width="0.4"/>
<polygon points="479.6,342.8 474.3,341.7 476.8,339.6 482.2,340.7" fill="#236fe4" stroke="#174894" stroke-width="0.4"/>
<polygon points="506.1,341.0 500.7,340.5 503.1,337.6 508.5,338.0" fill="#257be7" stroke="#185096" stroke-width="0.4"/>
<polygon points="466.3,342.2 460.9,340.6 463.6,338.9 468.9,340.4" fill="#2472e5" stroke="#174a95" stroke-width="0.4"/>
<polygon points="433.9,335.5 428.5,333.1 431.4,332.2 436.7,334.5" fill="#2893ec" stroke="#1a5f99" stroke-width="0.4"/>
<polygon points="389.8,316.7 384.3,313.3 387.5,313.3 392.9,316.6" fill="#2dc293" stroke="#1d7e60" stroke-width="0.4"/>
<polygon points="414.7,328.6 409.3,325.8 412.3,325.3 417.7,328.1" fill="#2dcaf0" stroke="#1d839c" stroke-width="0.4"/>
<polygon points="452.9,340.4 447.5,338.6 450.2,337.2 455.6,339.0" fill="#257be7" stroke="#185096" stroke-width="0.4"/>
<polygon points="485.0,343.9 479.6,342.8 482.2,340.7 487.5,341.6" fill="#236ee4" stroke="#174894" stroke-width="0.4"/>
<polygon points="498.2,343.1 492.9,342.5 495.3,339.9 500.7,340.5" fill="#2473e5" stroke="#174b95" stroke-width="0.4"/>
<polygon points="395.3,320.0 389.8,316.7 392.9,316.6 398.4,319.8" fill="#2dd0ba" stroke="#1d8779" stroke-width="0.4"/>
<polygon points="471.7,343.5 466.3,342.2 468.9,340.4 474.3,341.7" fill="#236fe4" stroke="#174894" stroke-width="0.4"/>
<polygon points="439.3,337.7 433.9,335.5 436.7,334.5 442.1,336.6" fill="#278aeb" stroke="#195a98" stroke-width="0.4"/>
<polygon points="420.2,331.3 414.7,328.6 417.7,328.1 423.1,330.7" fill="#2dbff0" stroke="#1d7c9c" stroke-width="0.4"/>
<polygon points="511.4,341.3 506.1,341.0 508.5,338.0 513.9,338.3" fill="#257ee8" stroke="#185297" stroke-width="0.4"/>
<polygon points="458.3,342.1 452.9,340.4 455.6,339.0 460.9,340.6" fill="#2477e6" stroke="#184d95" stroke-width="0.4"/>
<polygon points="400.8,323.2 395.3,320.0 398.4,319.8 403.8,322.9" fill="#2ddde1" stroke="#1d9092" stroke-width="0.4"/>
<polygon points="425.6,333.9 420.2,331.3 423.1,330.7 428.5,333.1" fill="#2badee" stroke="#1c709b" stroke-width="0.4"/>
<polygon points="444.7,339.7 439.3,337.7 442.1,336.6 447.5,338.6" fill="#2684e9" stroke="#195697" stroke-width="0.4"/>
<polygon points="490.4,344.8 485.0,343.9 487.5,341.6 492.9,342.5" fill="#236ee4" stroke="#174894" stroke-width="0.4"/>
<polygon points="477.1,344.8 471.7,343.5 474.3,341.7 479.6,342.8" fill="#236ee4" stroke="#174894" stroke-width="0.4"/>
<polygon points="503.6,343.7 498.2,343.1 500.7,340.5 506.1,341.0" fill="#2475e6" stroke="#174c95" stroke-width="0.4"/>
<polygon points="406.3,326.2 400.8,323.2 403.8,322.9 409.3,325.8" fill="#2ddaee" stroke="#1d8e9b" stroke-width="0.4"/>
<polygon points="463.7,343.7 458.3,342.1 460.9,340.6 466.3,342.2" fill="#2473e5" stroke="#174b95" stroke-width="0.4"/>
<polygon points="381.1,313.2 375.5,309.6 378.8,309.7 384.3,313.3" fill="#2aaa5a" stroke="#1c6e3b" stroke-width="0.4"/>
<polygon points="431.1,336.3 425.6,333.9 428.5,333.1 433.9,335.5" fill="#299ced" stroke="#1b669a" stroke-width="0.4"/>
<polygon points="450.2,341.6 444.7,339.7 447.5,338.6 452.9,340.4" fill="#257ee8" stroke="#185297" stroke-width="0.4"/>
<polygon points="411.8,329.1 406.3,326.2 409.3,325.8 414.7,328.6" fill="#2dd0ef" stroke="#1d879b" stroke-width="0.4"/>
<polygon points="386.6,316.7 381.1,313.2 384.3,313.3 389.8,316.7" fill="#2cb97e" stroke="#1c7852" stroke-width="0.4"/>
<polygon points="495.8,345.6 490.4,344.8 492.9,342.5 498.2,343.1" fill="#236fe4" stroke="#174894" stroke-width="0.4"/>
<polygon points="482.5,345.9 477.1,344.8 479.6,342.8 485.0,343.9" fill="#236ee4" stroke="#174894" stroke-width="0.4"/>
<polygon points="509.0,344.1 503.6,343.7 506.1,341.0 511.4,341.3" fill="#2477e6" stroke="#184e96" stroke-width="0.4"/>
<polygon points="469.1,345.2 463.7,343.7 466.3,342.2 471.7,343.5" fill="#2370e4" stroke="#174994" stroke-width="0.4"/>
<polygon points="436.5,338.5 431.1,336.3 433.9,335.5 439.3,337.7" fill="#288fec" stroke="#1a5d99" stroke-width="0.4"/>
<polygon points="392.2,320.1 386.6,316.7 389.8,316.7 395.3,320.0" fill="#2dc89f" stroke="#1d8267" stroke-width="0.4"/>
<polygon points="417.2,331.8 411.8,329.1 414.7,328.6 420.2,331.3" fill="#2dc7f0" stroke="#1d819c" stroke-width="0.4"/>
<polygon points="455.6,343.4 450.2,341.6 452.9,340.4 458.3,342.1" fill="#2579e7" stroke="#184f96" stroke-width="0.4"/>
<polygon points="397.7,323.3 392.2,320.1 395.3,320.0 400.8,323.2" fill="#2dd5c7" stroke="#1d8a82" stroke-width="0.4"/>
<polygon points="487.9,346.9 482.5,345.9 485.0,343.9 490.4,344.8" fill="#236ee4" stroke="#174894" stroke-width="0.4"/>
<polygon points="501.2,346.2 495.8,345.6 498.2,343.1 503.6,343.7" fill="#2371e5" stroke="#174995" stroke-width="0.4"/>
<polygon points="474.5,346.5 469.1,345.2 471.7,343.5 477.1,344.8" fill="#236ee4" stroke="#174894" stroke-width="0.4"/>
<polygon points="442.0,340.7 436.5,338.5 439.3,337.7 444.7,339.7" fill="#2788ea" stroke="#195998" stroke-width="0.4"/>
<polygon points="422.7,334.4 417.2,331.8 420.2,331.3 425.6,333.9" fill="#2cb9ef" stroke="#1d789b" stroke-width="0.4"/>
<polygon points="461.0,345.1 455.6,343.4 458.3,342.1 463.7,343.7" fill="#2475e6" stroke="#174c95" stroke-width="0.4"/>
<polygon points="403.2,326.4 397.7,323.3 400.8,323.2 406.3,326.2" fill="#2de1ed" stroke="#1d929a" stroke-width="0.4"/>
<polygon points="377.8,313.0 372.2,309.3 375.5,309.6 381.1,313.2" fill="#2aa44d" stroke="#1b6a32" stroke-width="0.4"/>
<polygon points="428.2,336.9 422.7,334.4 425.6,333.9 431.1,336.3" fill="#2aa8ee" stroke="#1c6d9b" stroke-width="0.4"/>
<polygon points="447.4,342.7 442.0,340.7 444.7,339.7 450.2,341.6" fill="#2682e9" stroke="#195597" stroke-width="0.4"/>
<polygon points="493.3,347.7 487.9,346.9 490.4,344.8 495.8,345.6" fill="#236ee4" stroke="#174894" stroke-width="0.4"/>
<polygon points="479.9,347.7 474.5,346.5 477.1,344.8 482.5,345.9" fill="#236ee4" stroke="#174894" stroke-width="0.4"/>
<polygon points="506.6,346.7 501.2,346.2 503.6,343.7 509.0,344.1" fill="#2473e5" stroke="#174b95" stroke-width="0.4"/>
<polygon points="408.7,329.3 403.2,326.4 406.3,326.2 411.8,329.1" fill="#2dd7ef" stroke="#1d8c9b" stroke-width="0.4"/>
<polygon points="383.4,316.5 377.8,313.0 381.1,313.2 386.6,316.7" fill="#2baf66" stroke="#1c7243" stroke-width="0.4"/>
<polygon points="466.4,346.6 461.0,345.1 463.7,343.7 469.1,345.2" fill="#2472e5" stroke="#174a95" stroke-width="0.4"/>
<polygon points="433.7,339.3 428.2,336.9 431.1,336.3 436.5,338.5" fill="#2999ed" stroke="#1b639a" stroke-width="0.4"/>
<polygon points="452.9,344.5 447.4,342.7 450.2,341.6 455.6,343.4" fill="#257de7" stroke="#185196" stroke-width="0.4"/>
<polygon points="389.0,320.0 383.4,316.5 386.6,316.7 392.2,320.1" fill="#2cbe88" stroke="#1d7b59" stroke-width="0.4"/>
<polygon points="414.3,332.2 408.7,329.3 411.8,329.1 417.2,331.8" fill="#2dceef" stroke="#1d869c" stroke-width="0.4"/>
<polygon points="498.7,348.4 493.3,347.7 495.8,345.6 501.2,346.2" fill="#236ee4" stroke="#174894" stroke-width="0.4"/>
<polygon points="485.3,348.7 479.9,347.7 482.5,345.9 487.9,346.9" fill="#236ee4" stroke="#174894" stroke-width="0.4"/>
<polygon points="471.9,348.0 466.4,346.6 469.1,345.2 474.5,346.5" fill="#236fe4" stroke="#174894" stroke-width="0.4"/>
<polygon points="394.6,323.3 389.0,320.0 392.2,320.1 397.7,323.3" fill="#2dccab" stroke="#1d846f" stroke-width="0.4"/>
<polygon points="439.1,341.5 433.7,339.3 436.5,338.5 442.0,340.7" fill="#288eeb" stroke="#1a5c99" stroke-width="0.4"/>
<polygon points="419.8,334.8 414.3,332.2 417.2,331.8 422.7,334.4" fill="#2dc5f0" stroke="#1d809c" stroke-width="0.4"/>
<polygon points="458.3,346.3 452.9,344.5 455.6,343.4 461.0,345.1" fill="#2579e6" stroke="#184e96" stroke-width="0.4"/>
<polygon points="400.1,326.4 394.6,323.3 397.7,323.3 403.2,326.4" fill="#2dd8d2" stroke="#1d8c88" stroke-width="0.4"/>
<polygon points="490.8,349.6 485.3,348.7 487.9,346.9 493.3,347.7" fill="#236ee4" stroke="#174894" stroke-width="0.4"/>
<polygon points="504.2,349.0 498.7,348.4 501.2,346.2 506.6,346.7" fill="#2370e4" stroke="#174994" stroke-width="0.4"/>
<polygon points="477.3,349.3 471.9,348.0 474.5,346.5 479.9,347.7" fill="#236ee4" stroke="#174894" stroke-width="0.4"/>
<polygon points="444.6,343.5 439.1,341.5 442.0,340.7 447.4,342.7" fill="#2787ea" stroke="#195898" stroke-width="0.4"/>
<polygon points="425.3,337.4 419.8,334.8 422.7,334.4 428.2,336.9" fill="#2cb6ef" stroke="#1c769b" stroke-width="0.4"/>
<polygon points="374.5,312.6 368.9,308.8 372.2,309.3 377.8,313.0" fill="#29a147" stroke="#1b682e" stroke-width="0.4"/>
<polygon points="463.8,347.9 458.3,346.3 461.0,345.1 466.4,346.6" fill="#2475e6" stroke="#174c95" stroke-width="0.4"/>
<polygon points="405.7,329.5 400.1,326.4 403.2,326.4 408.7,329.3" fill="#2ddfee" stroke="#1d919b" stroke-width="0.4"/>
<polygon points="380.2,316.3 374.5,312.6 377.8,313.0 383.4,316.5" fill="#2aa54f" stroke="#1b6b34" stroke-width="0.4"/>
<polygon points="430.8,339.8 425.3,337.4 428.2,336.9 433.7,339.3" fill="#2aa6ee" stroke="#1b6c9a" stroke-width="0.4"/>
<polygon points="450.1,345.4 444.6,343.5 447.4,342.7 452.9,344.5" fill="#2682e9" stroke="#195497" stroke-width="0.4"/>
<polygon points="496.2,350.4 490.8,349.6 493.3,347.7 498.7,348.4" fill="#236ee4" stroke="#174894" stroke-width="0.4"/>
<polygon points="482.8,350.4 477.3,349.3 479.9,347.7 485.3,348.7" fill="#236ee4" stroke="#174894" stroke-width="0.4"/>
<polygon points="411.2,332.4 405.7,329.5 408.7,329.3 414.3,332.2" fill="#2dd5ef" stroke="#1d8a9b" stroke-width="0.4"/>
<polygon points="385.8,319.8 380.2,316.3 383.4,316.5 389.0,320.0" fill="#2bb370" stroke="#1c7449" stroke-width="0.4"/>
<polygon points="469.2,349.3 463.8,347.9 466.4,346.6 471.9,348.0" fill="#2472e5" stroke="#174a95" stroke-width="0.4"/>
<polygon points="436.3,342.1 430.8,339.8 433.7,339.3 439.1,341.5" fill="#2997ed" stroke="#1a629a" stroke-width="0.4"/>
<polygon points="391.4,323.1 385.8,319.8 389.0,320.0 394.6,323.3" fill="#2cc191" stroke="#1d7e5e" stroke-width="0.4"/>
<polygon points="416.8,335.1 411.2,332.4 414.3,332.2 419.8,334.8" fill="#2dccef" stroke="#1d859c" stroke-width="0.4"/>
<polygon points="455.6,347.2 450.1,345.4 452.9,344.5 458.3,346.3" fill="#257de7" stroke="#185196" stroke-width="0.4"/>
<polygon points="501.7,351.0 496.2,350.4 498.7,348.4 504.2,349.0" fill="#236ee4" stroke="#174894" stroke-width="0.4"/>
<polygon points="488.2,351.3 482.8,350.4 485.3,348.7 490.8,349.6" fill="#236ee4" stroke="#174894" stroke-width="0.4"/>
<polygon points="397.0,326.4 391.4,323.1 394.6,323.3 400.1,326.4" fill="#2dceb4" stroke="#1d8675" stroke-width="0.4"/>
<polygon points="474.7,350.6 469.2,349.3 471.9,348.0 477.3,349.3" fill="#2370e4" stroke="#174995" stroke-width="0.4"/>
<polygon points="441.8,344.2 436.3,342.1 439.1,341.5 444.6,343.5" fill="#288eeb" stroke="#1a5c99" stroke-width="0.4"/>
<polygon points="422.3,337.7 416.8,335.1 419.8,334.8 425.3,337.4" fill="#2dc4f0" stroke="#1d7f9c" stroke-width="0.4"/>
<polygon points="371.2,312.2 365.5,308.3 368.9,308.8 374.5,312.6" fill="#299e41" stroke="#1b672a" stroke-width="0.4"/>
<polygon points="461.1,348.9 455.6,347.2 458.3,346.3 463.8,347.9" fill="#2579e7" stroke="#184f96" stroke-width="0.4"/>
<polygon points="402.6,329.5 397.0,326.4 400.1,326.4 405.7,329.5" fill="#2ddad9" stroke="#1d8e8d" stroke-width="0.4"/>
<polygon points="376.9,315.9 371.2,312.2 374.5,312.6 380.2,316.3" fill="#2aa249" stroke="#1b6930" stroke-width="0.4"/>
<polygon points="493.7,352.2 488.2,351.3 490.8,349.6 496.2,350.4" fill="#236ee4" stroke="#174894" stroke-width="0.4"/>
<polygon points="427.9,340.2 422.3,337.7 425.3,337.4 430.8,339.8" fill="#2cb5ef" stroke="#1c759b" stroke-width="0.4"/>
<polygon points="447.3,346.2 441.8,344.2 444.6,343.5 450.1,345.4" fill="#2788ea" stroke="#195898" stroke-width="0.4"/>
<polygon points="480.2,351.8 474.7,350.6 477.3,349.3 482.8,350.4" fill="#236fe4" stroke="#174894" stroke-width="0.4"/>
<polygon points="408.2,332.4 402.6,329.5 405.7,329.5 411.2,332.4" fill="#2dddee" stroke="#1d909b" stroke-width="0.4"/>
<polygon points="466.6,350.4 461.1,348.9 463.8,347.9 469.2,349.3" fill="#2476e6" stroke="#184d95" stroke-width="0.4"/>
<polygon points="382.5,319.4 376.9,315.9 380.2,316.3 385.8,319.8" fill="#2aa857" stroke="#1b6d38" stroke-width="0.4"/>
<polygon points="433.4,342.5 427.9,340.2 430.8,339.8 436.3,342.1" fill="#2aa6ee" stroke="#1b6c9a" stroke-width="0.4"/>
<polygon points="452.8,348.0 447.3,346.2 450.1,345.4 455.6,347.2" fill="#2683e9" stroke="#195597" stroke-width="0.4"/>
<polygon points="388.2,322.9 382.5,319.4 385.8,319.8 391.4,323.1" fill="#2bb678" stroke="#1c774e" stroke-width="0.4"/>
<polygon points="499.2,352.9 493.7,352.2 496.2,350.4 501.7,351.0" fill="#236ee4" stroke="#174894" stroke-width="0.4"/>
<polygon points="413.7,335.2 408.2,332.4 411.2,332.4 416.8,335.1" fill="#2dd4ef" stroke="#1d8a9b" stroke-width="0.4"/>
<polygon points="485.7,352.8 480.2,351.8 482.8,350.4 488.2,351.3" fill="#236ee4" stroke="#174894" stroke-width="0.4"/>
<polygon points="472.1,351.7 466.6,350.4 469.2,349.3 474.7,350.6" fill="#2474e5" stroke="#174b95" stroke-width="0.4"/>
<polygon points="393.8,326.2 388.2,322.9 391.4,323.1 397.0,326.4" fill="#2dc497" stroke="#1d7f62" stroke-width="0.4"/>
<polygon points="438.9,344.7 433.4,342.5 436.3,342.1 441.8,344.2" fill="#2999ed" stroke="#1a639a" stroke-width="0.4"/>
<polygon points="419.3,337.9 413.7,335.2 416.8,335.1 422.3,337.7" fill="#2dccef" stroke="#1d849c" stroke-width="0.4"/>
<polygon points="458.4,349.7 452.8,348.0 455.6,347.2 461.1,348.9" fill="#257fe8" stroke="#185297" stroke-width="0.4"/>
<polygon points="367.8,311.6 362.1,307.7 365.5,308.3 371.2,312.2" fill="#289b3a" stroke="#1a6526" stroke-width="0.4"/>
<polygon points="491.2,353.7 485.7,352.8 488.2,351.3 493.7,352.2" fill="#236fe4" stroke="#174894" stroke-width="0.4"/>
<polygon points="399.4,329.3 393.8,326.2 397.0,326.4 402.6,329.5" fill="#2dd0ba" stroke="#1d8779" stroke-width="0.4"/>
<polygon points="477.6,353.0 472.1,351.7 474.7,350.6 480.2,351.8" fill="#2472e5" stroke="#174a95" stroke-width="0.4"/>
<polygon points="444.5,346.7 438.9,344.7 441.8,344.2 447.3,346.2" fill="#288fec" stroke="#1a5d99" stroke-width="0.4"/>
<polygon points="373.5,315.4 367.8,311.6 371.2,312.2 376.9,315.9" fill="#299f43" stroke="#1b672b" stroke-width="0.4"/>
<polygon points="424.9,340.4 419.3,337.9 422.3,337.7 427.9,340.2" fill="#2dc4f0" stroke="#1d7f9c" stroke-width="0.4"/>
<polygon points="463.9,351.2 458.4,349.7 461.1,348.9 466.6,350.4" fill="#257be7" stroke="#185096" stroke-width="0.4"/>
<polygon points="405.1,332.3 399.4,329.3 402.6,329.5 408.2,332.4" fill="#2ddbdd" stroke="#1d8f90" stroke-width="0.4"/>
<polygon points="379.2,319.0 373.5,315.4 376.9,315.9 382.5,319.4" fill="#2aa34b" stroke="#1b6a31" stroke-width="0.4"/>
<polygon points="496.7,354.4 491.2,353.7 493.7,352.2 499.2,352.9" fill="#2370e4" stroke="#174994" stroke-width="0.4"/>
<polygon points="430.5,342.7 424.9,340.4 427.9,340.2 433.4,342.5" fill="#2cb6ef" stroke="#1c769b" stroke-width="0.4"/>
<polygon points="450.0,348.6 444.5,346.7 447.3,346.2 452.8,348.0" fill="#278aea" stroke="#195998" stroke-width="0.4"/>
<polygon points="483.1,354.0 477.6,353.0 480.2,351.8 485.7,352.8" fill="#2472e5" stroke="#174a95" stroke-width="0.4"/>
<polygon points="410.7,335.2 405.1,332.3 408.2,332.4 413.7,335.2" fill="#2dddee" stroke="#1d8f9b" stroke-width="0.4"/>
<polygon points="384.9,322.5 379.2,319.0 382.5,319.4 388.2,322.9" fill="#2aab5d" stroke="#1c6f3d" stroke-width="0.4"/>
<polygon points="469.4,352.7 463.9,351.2 466.6,350.4 472.1,351.7" fill="#2579e6" stroke="#184e96" stroke-width="0.4"/>
<polygon points="436.1,345.0 430.5,342.7 433.4,342.5 438.9,344.7" fill="#2aa8ee" stroke="#1c6d9b" stroke-width="0.4"/>
<polygon points="390.6,325.8 384.9,322.5 388.2,322.9 393.8,326.2" fill="#2cb97d" stroke="#1c7851" stroke-width="0.4"/>
<polygon points="455.6,350.3 450.0,348.6 452.8,348.0 458.4,349.7" fill="#2685e9" stroke="#195798" stroke-width="0.4"/>
<polygon points="416.3,337.9 410.7,335.2 413.7,335.2 419.3,337.9" fill="#2dd4ef" stroke="#1d8a9b" stroke-width="0.4"/>
<polygon points="488.7,355.0 483.1,354.0 485.7,352.8 491.2,353.7" fill="#2472e5" stroke="#174a95" stroke-width="0.4"/>
<polygon points="364.4,310.9 358.6,307.0 362.1,307.7 367.8,311.6" fill="#289834" stroke="#1a6322" stroke-width="0.4"/>
<polygon points="475.0,353.9 469.4,352.7 472.1,351.7 477.6,353.0" fill="#2477e6" stroke="#184d96" stroke-width="0.4"/>
<polygon points="396.2,329.0 390.6,325.8 393.8,326.2 399.4,329.3" fill="#2dc59a" stroke="#1d8064" stroke-width="0.4"/>
<polygon points="441.6,347.0 436.1,345.0 438.9,344.7 444.5,346.7" fill="#299ced" stroke="#1b669a" stroke-width="0.4"/>
<polygon points="421.9,340.4 416.3,337.9 419.3,337.9 424.9,340.4" fill="#2dccef" stroke="#1d859c" stroke-width="0.4"/>
<polygon points="370.1,314.8 364.4,310.9 367.8,311.6 373.5,315.4" fill="#299c3c" stroke="#1a6527" stroke-width="0.4"/>
<polygon points="461.2,351.9 455.6,350.3 458.4,349.7 463.9,351.2" fill="#2682e8" stroke="#195497" stroke-width="0.4"/>
<polygon points="401.9,332.1 396.2,329.0 399.4,329.3 405.1,332.3" fill="#2dd1bc" stroke="#1d887a" stroke-width="0.4"/>
<polygon points="494.2,355.7 488.7,355.0 491.2,353.7 496.7,354.4" fill="#2472e5" stroke="#174a95" stroke-width="0.4"/>
<polygon points="375.8,318.4 370.1,314.8 373.5,315.4 379.2,319.0" fill="#29a045" stroke="#1b682d" stroke-width="0.4"/>
<polygon points="480.5,355.0 475.0,353.9 477.6,353.0 483.1,354.0" fill="#2476e6" stroke="#174d95" stroke-width="0.4"/>
<polygon points="427.5,342.8 421.9,340.4 424.9,340.4 430.5,342.7" fill="#2dc5f0" stroke="#1d809c" stroke-width="0.4"/>
<polygon points="447.2,349.0 441.6,347.0 444.5,346.7 450.0,348.6" fill="#2892ec" stroke="#1a5f99" stroke-width="0.4"/>
<polygon points="407.6,335.0 401.9,332.1 405.1,332.3 410.7,335.2" fill="#2ddcdd" stroke="#1d8f90" stroke-width="0.4"/>
<polygon points="466.7,353.4 461.2,351.9 463.9,351.2 469.4,352.7" fill="#257fe8" stroke="#185297" stroke-width="0.4"/>
<polygon points="381.6,322.0 375.8,318.4 379.2,319.0 384.9,322.5" fill="#2aa34d" stroke="#1b6a32" stroke-width="0.4"/>
<polygon points="433.1,345.1 427.5,342.8 430.5,342.7 436.1,345.0" fill="#2cbaef" stroke="#1d799c" stroke-width="0.4"/>
<polygon points="452.8,350.8 447.2,349.0 450.0,348.6 455.6,350.3" fill="#278deb" stroke="#1a5c99" stroke-width="0.4"/>
<polygon points="387.3,325.4 381.6,322.0 384.9,322.5 390.6,325.8" fill="#2bad61" stroke="#1c703f" stroke-width="0.4"/>
<polygon points="486.1,356.0 480.5,355.0 483.1,354.0 488.7,355.0" fill="#2476e6" stroke="#174d95" stroke-width="0.4"/>
<polygon points="413.2,337.7 407.6,335.0 410.7,335.2 416.3,337.9" fill="#2dddee" stroke="#1d909b" stroke-width="0.4"/>
<polygon points="472.3,354.7 466.7,353.4 469.4,352.7 475.0,353.9" fill="#257de7" stroke="#185196" stroke-width="0.4"/>
<polygon points="360.9,310.2 355.1,306.2 358.6,307.0 364.4,310.9" fill="#289734" stroke="#1a6221" stroke-width="0.4"/>
<polygon points="393.0,328.6 387.3,325.4 390.6,325.8 396.2,329.0" fill="#2cba7f" stroke="#1c7953" stroke-width="0.4"/>
<polygon points="438.7,347.2 433.1,345.1 436.1,345.0 441.6,347.0" fill="#2baeee" stroke="#1c719b" stroke-width="0.4"/>
<polygon points="418.9,340.3 413.2,337.7 416.3,337.9 421.9,340.4" fill="#2dd5ef" stroke="#1d8b9b" stroke-width="0.4"/>
<polygon points="458.4,352.4 452.8,350.8 455.6,350.3 461.2,351.9" fill="#2789ea" stroke="#195998" stroke-width="0.4"/>
<polygon points="366.7,314.1 360.9,310.2 364.4,310.9 370.1,314.8" fill="#289835" stroke="#1a6322" stroke-width="0.4"/>
<polygon points="491.6,356.8 486.1,356.0 488.7,355.0 494.2,355.7" fill="#2476e6" stroke="#184d95" stroke-width="0.4"/>
<polygon points="398.7,331.7 393.0,328.6 396.2,329.0 401.9,332.1" fill="#2dc69b" stroke="#1d8165" stroke-width="0.4"/>
<polygon points="477.9,355.8 472.3,354.7 475.0,353.9 480.5,355.0" fill="#257ce7" stroke="#185096" stroke-width="0.4"/>
<polygon points="372.4,317.8 366.7,314.1 370.1,314.8 375.8,318.4" fill="#299c3e" stroke="#1a6628" stroke-width="0.4"/>
<polygon points="444.4,349.2 438.7,347.2 441.6,347.0 447.2,349.0" fill="#2aa3ed" stroke="#1b6a9a" stroke-width="0.4"/>
<polygon points="424.5,342.8 418.9,340.3 421.9,340.4 427.5,342.8" fill="#2dceef" stroke="#1d869c" stroke-width="0.4"/>
<polygon points="464.0,353.9 458.4,352.4 461.2,351.9 466.7,353.4" fill="#2686ea" stroke="#195798" stroke-width="0.4"/>
<polygon points="404.4,334.6 398.7,331.7 401.9,332.1 407.6,335.0" fill="#2dd1bb" stroke="#1d8879" stroke-width="0.4"/>
<polygon points="378.2,321.4 372.4,317.8 375.8,318.4 381.6,322.0" fill="#29a046" stroke="#1b682d" stroke-width="0.4"/>
<polygon points="430.2,345.1 424.5,342.8 427.5,342.8 433.1,345.1" fill="#2dc8f0" stroke="#1d829c" stroke-width="0.4"/>
<polygon points="483.5,356.8 477.9,355.8 480.5,355.0 486.1,356.0" fill="#257be7" stroke="#185096" stroke-width="0.4"/>
<polygon points="450.0,351.0 444.4,349.2 447.2,349.0 452.8,350.8" fill="#299aed" stroke="#1b649a" stroke-width="0.4"/>
<polygon points="384.0,324.8 378.2,321.4 381.6,322.0 387.3,325.4" fill="#2aa44d" stroke="#1b6a32" stroke-width="0.4"/>
<polygon points="410.1,337.4 404.4,334.6 407.6,335.0 413.2,337.7" fill="#2ddada" stroke="#1d8e8d" stroke-width="0.4"/>
<polygon points="469.6,355.2 464.0,353.9 466.7,353.4 472.3,354.7" fill="#2684e9" stroke="#195697" stroke-width="0.4"/>
<polygon points="357.3,309.4 351.5,305.3 355.1,306.2 360.9,310.2" fill="#289633" stroke="#1a6221" stroke-width="0.4"/>
<polygon points="435.8,347.2 430.2,345.1 433.1,345.1 438.7,347.2" fill="#2dc0f0" stroke="#1d7d9c" stroke-width="0.4"/>
<polygon points="389.7,328.1 384.0,324.8 387.3,325.4 393.0,328.6" fill="#2bad63" stroke="#1c7140" stroke-width="0.4"/>
<polygon points="455.6,352.7 450.0,351.0 452.8,350.8 458.4,352.4" fill="#2892ec" stroke="#1a5f99" stroke-width="0.4"/>
<polygon points="415.8,340.1 410.1,337.4 413.2,337.7 418.9,340.3" fill="#2ddfee" stroke="#1d919b" stroke-width="0.4"/>
<polygon points="489.1,357.7 483.5,356.8 486.1,356.0 491.6,356.8" fill="#257ce7" stroke="#185096" stroke-width="0.4"/>
<polygon points="363.2,313.3 357.3,309.4 360.9,310.2 366.7,314.1" fill="#289734" stroke="#1a6222" stroke-width="0.4"/>
<polygon points="475.2,356.4 469.6,355.2 472.3,354.7 477.9,355.8" fill="#2683e9" stroke="#195597" stroke-width="0.4"/>
<polygon points="395.4,331.2 389.7,328.1 393.0,328.6 398.7,331.7" fill="#2cb97f" stroke="#1c7952" stroke-width="0.4"/>
<polygon points="441.5,349.2 435.8,347.2 438.7,347.2 444.4,349.2" fill="#2cb5ef" stroke="#1c769b" stroke-width="0.4"/>
<polygon points="369.0,317.0 363.2,313.3 366.7,314.1 372.4,317.8" fill="#289936" stroke="#1a6423" stroke-width="0.4"/>
<polygon points="421.5,342.6 415.8,340.1 418.9,340.3 424.5,342.8" fill="#2dd7ef" stroke="#1d8c9b" stroke-width="0.4"/>
<polygon points="461.2,354.2 455.6,352.7 458.4,352.4 464.0,353.9" fill="#288eeb" stroke="#1a5d99" stroke-width="0.4"/>
<polygon points="401.2,334.2 395.4,331.2 398.7,331.7 404.4,334.6" fill="#2dc599" stroke="#1d8063" stroke-width="0.4"/>
<polygon points="374.8,320.7 369.0,317.0 372.4,317.8 378.2,321.4" fill="#299d3f" stroke="#1a6629" stroke-width="0.4"/>
<polygon points="480.8,357.4 475.2,356.4 477.9,355.8 483.5,356.8" fill="#2682e9" stroke="#195597" stroke-width="0.4"/>
<polygon points="427.1,344.9 421.5,342.6 424.5,342.8 430.2,345.1" fill="#2dd1ef" stroke="#1d889b" stroke-width="0.4"/>
<polygon points="447.1,351.1 441.5,349.2 444.4,349.2 450.0,351.0" fill="#2bacee" stroke="#1c709b" stroke-width="0.4"/>
<polygon points="406.9,337.0 401.2,334.2 404.4,334.6 410.1,337.4" fill="#2dcfb6" stroke="#1d8776" stroke-width="0.4"/>
<polygon points="380.6,324.1 374.8,320.7 378.2,321.4 384.0,324.8" fill="#29a046" stroke="#1b682e" stroke-width="0.4"/>
<polygon points="466.9,355.6 461.2,354.2 464.0,353.9 469.6,355.2" fill="#278ceb" stroke="#1a5b99" stroke-width="0.4"/>
<polygon points="432.8,347.1 427.1,344.9 430.2,345.1 435.8,347.2" fill="#2dcbef" stroke="#1d849c" stroke-width="0.4"/>
<polygon points="353.7,308.4 347.8,304.3 351.5,305.3 357.3,309.4" fill="#289533" stroke="#1a6121" stroke-width="0.4"/>
<polygon points="386.4,327.4 380.6,324.1 384.0,324.8 389.7,328.1" fill="#2aa44d" stroke="#1b6a32" stroke-width="0.4"/>
<polygon points="452.8,352.8 447.1,351.1 450.0,351.0 455.6,352.7" fill="#2aa4ee" stroke="#1b6b9a" stroke-width="0.4"/>
<polygon points="486.5,358.3 480.8,357.4 483.5,356.8 489.1,357.7" fill="#2682e9" stroke="#195597" stroke-width="0.4"/>
<polygon points="412.6,339.7 406.9,337.0 410.1,337.4 415.8,340.1" fill="#2dd8d2" stroke="#1d8c89" stroke-width="0.4"/>
<polygon points="472.5,356.8 466.9,355.6 469.6,355.2 475.2,356.4" fill="#278beb" stroke="#195a98" stroke-width="0.4"/>
<polygon points="359.6,312.4 353.7,308.4 357.3,309.4 363.2,313.3" fill="#289633" stroke="#1a6221" stroke-width="0.4"/>
<polygon points="392.1,330.6 386.4,327.4 389.7,328.1 395.4,331.2" fill="#2bad61" stroke="#1c703f" stroke-width="0.4"/>
<polygon points="438.5,349.1 432.8,347.1 435.8,347.2 441.5,349.2" fill="#2dc6f0" stroke="#1d819c" stroke-width="0.4"/>
<polygon points="418.4,342.2 412.6,339.7 415.8,340.1 421.5,342.6" fill="#2de0ec" stroke="#1d9299" stroke-width="0.4"/>
<polygon points="365.5,316.2 359.6,312.4 363.2,313.3 369.0,317.0" fill="#289734" stroke="#1a6222" stroke-width="0.4"/>
<polygon points="458.4,354.3 452.8,352.8 455.6,352.7 461.2,354.2" fill="#299eed" stroke="#1b679a" stroke-width="0.4"/>
<polygon points="397.9,333.6 392.1,330.6 395.4,331.2 401.2,334.2" fill="#2cb87b" stroke="#1c7850" stroke-width="0.4"/>
<polygon points="478.2,357.8 472.5,356.8 475.2,356.4 480.8,357.4" fill="#278aea" stroke="#195a98" stroke-width="0.4"/>
<polygon points="371.3,319.9 365.5,316.2 369.0,317.0 374.8,320.7" fill="#289a37" stroke="#1a6424" stroke-width="0.4"/>
<polygon points="444.2,351.0 438.5,349.1 441.5,349.2 447.1,351.1" fill="#2dc0f0" stroke="#1d7d9c" stroke-width="0.4"/>
<polygon points="424.1,344.6 418.4,342.2 421.5,342.6 427.1,344.9" fill="#2ddbee" stroke="#1d8e9b" stroke-width="0.4"/>
<polygon points="464.1,355.7 458.4,354.3 461.2,354.2 466.9,355.6" fill="#2999ed" stroke="#1b649a" stroke-width="0.4"/>
<polygon points="403.7,336.5 397.9,333.6 401.2,334.2 406.9,337.0" fill="#2dc394" stroke="#1d7e60" stroke-width="0.4"/>
<polygon points="377.2,323.4 371.3,319.9 374.8,320.7 380.6,324.1" fill="#299d3f" stroke="#1b6629" stroke-width="0.4"/>
<polygon points="429.8,346.8 424.1,344.6 427.1,344.9 432.8,347.1" fill="#2dd5ef" stroke="#1d8a9b" stroke-width="0.4"/>
<polygon points="483.8,358.7 478.2,357.8 480.8,357.4 486.5,358.3" fill="#278aea" stroke="#195a98" stroke-width="0.4"/>
<polygon points="449.9,352.7 444.2,351.0 447.1,351.1 452.8,352.8" fill="#2cb8ef" stroke="#1d789b" stroke-width="0.4"/>
<polygon points="383.0,326.7 377.2,323.4 380.6,324.1 386.4,327.4" fill="#29a046" stroke="#1b682e" stroke-width="0.4"/>
<polygon points="409.5,339.2 403.7,336.5 406.9,337.0 412.6,339.7" fill="#2dccad" stroke="#1d8570" stroke-width="0.4"/>
<polygon points="469.8,356.9 464.1,355.7 466.9,355.6 472.5,356.8" fill="#2996ec" stroke="#1a629a" stroke-width="0.4"/>
<polygon points="388.8,329.9 383.0,326.7 386.4,327.4 392.1,330.6" fill="#2aa44d" stroke="#1b6a32" stroke-width="0.4"/>
<polygon points="435.5,348.8 429.8,346.8 432.8,347.1 438.5,349.1" fill="#2dd0ef" stroke="#1d879b" stroke-width="0.4"/>
<polygon points="455.6,354.3 449.9,352.7 452.8,352.8 458.4,354.3" fill="#2bb2ef" stroke="#1c749b" stroke-width="0.4"/>
<polygon points="415.2,341.7 409.5,339.2 412.6,339.7 418.4,342.2" fill="#2dd4c7" stroke="#1d8a81" stroke-width="0.4"/>
<polygon points="475.5,358.0 469.8,356.9 472.5,356.8 478.2,357.8" fill="#2895ec" stroke="#1a619a" stroke-width="0.4"/>
<polygon points="394.6,332.9 388.8,329.9 392.1,330.6 397.9,333.6" fill="#2aab5d" stroke="#1c6f3c" stroke-width="0.4"/>
<polygon points="441.2,350.7 435.5,348.8 438.5,349.1 444.2,351.0" fill="#2dccef" stroke="#1d849c" stroke-width="0.4"/>
<polygon points="421.0,344.1 415.2,341.7 418.4,342.2 424.1,344.6" fill="#2ddcde" stroke="#1d8f90" stroke-width="0.4"/>
<polygon points="461.3,355.7 455.6,354.3 458.4,354.3 464.1,355.7" fill="#2badee" stroke="#1c709b" stroke-width="0.4"/>
<polygon points="400.4,335.8 394.6,332.9 397.9,333.6 403.7,336.5" fill="#2bb575" stroke="#1c764c" stroke-width="0.4"/>
<polygon points="481.2,358.9 475.5,358.0 478.2,357.8 483.8,358.7" fill="#2895ec" stroke="#1a619a" stroke-width="0.4"/>
<polygon points="426.7,346.3 421.0,344.1 424.1,344.6 429.8,346.8" fill="#2de0ee" stroke="#1d919b" stroke-width="0.4"/>
<polygon points="447.0,352.4 441.2,350.7 444.2,351.0 449.9,352.7" fill="#2dc8f0" stroke="#1d829c" stroke-width="0.4"/>
<polygon points="406.2,338.5 400.4,335.8 403.7,336.5 409.5,339.2" fill="#2cbf8b" stroke="#1d7c5b" stroke-width="0.4"/>
<polygon points="467.0,356.9 461.3,355.7 464.1,355.7 469.8,356.9" fill="#2aaaee" stroke="#1c6e9b" stroke-width="0.4"/>
<polygon points="432.5,348.4 426.7,346.3 429.8,346.8 435.5,348.8" fill="#2ddaee" stroke="#1d8e9b" stroke-width="0.4"/>
<polygon points="452.7,354.0 447.0,352.4 449.9,352.7 455.6,354.3" fill="#2dc5f0" stroke="#1d809c" stroke-width="0.4"/>
<polygon points="412.0,341.1 406.2,338.5 409.5,339.2 415.2,341.7" fill="#2dc8a0" stroke="#1d8268" stroke-width="0.4"/>
<polygon points="472.7,358.0 467.0,356.9 469.8,356.9 475.5,358.0" fill="#2aa8ee" stroke="#1c6d9b" stroke-width="0.4"/>
<polygon points="438.3,350.3 432.5,348.4 435.5,348.8 441.2,350.7" fill="#2dd6ef" stroke="#1d8b9b" stroke-width="0.4"/>
<polygon points="417.8,343.5 412.0,341.1 415.2,341.7 421.0,344.1" fill="#2dcfb7" stroke="#1d8777" stroke-width="0.4"/>
<polygon points="458.4,355.4 452.7,354.0 455.6,354.3 461.3,355.7" fill="#2dc2f0" stroke="#1d7e9c" stroke-width="0.4"/>
<polygon points="478.5,358.9 472.7,358.0 475.5,358.0 481.2,358.9" fill="#2aa8ee" stroke="#1c6d9b" stroke-width="0.4"/>
<polygon points="444.0,352.0 438.3,350.3 441.2,350.7 447.0,352.4" fill="#2dd2ef" stroke="#1d899b" stroke-width="0.4"/>
<polygon points="423.6,345.7 417.8,343.5 421.0,344.1 426.7,346.3" fill="#2dd6cc" stroke="#1d8b84" stroke-width="0.4"/>
<polygon points="464.2,356.7 458.4,355.4 461.3,355.7 467.0,356.9" fill="#2dbff0" stroke="#1d7c9c" stroke-width="0.4"/>
<polygon points="429.4,347.8 423.6,345.7 426.7,346.3 432.5,348.4" fill="#2ddcde" stroke="#1d8f90" stroke-width="0.4"/>
<polygon points="449.8,353.6 444.0,352.0 447.0,352.4 452.7,354.0" fill="#2dcfef" stroke="#1d879b" stroke-width="0.4"/>
<polygon points="470.0,357.8 464.2,356.7 467.0,356.9 472.7,358.0" fill="#2cbdf0" stroke="#1d7b9c" stroke-width="0.4"/>
<polygon points="435.2,349.7 429.4,347.8 432.5,348.4 438.3,350.3" fill="#2de1ed" stroke="#1d929a" stroke-width="0.4"/>
<polygon points="455.6,355.0 449.8,353.6 452.7,354.0 458.4,355.4" fill="#2dcdef" stroke="#1d859c" stroke-width="0.4"/>
<polygon points="475.7,358.7 470.0,357.8 472.7,358.0 478.5,358.9" fill="#2cbdf0" stroke="#1d7b9c" stroke-width="0.4"/>
<polygon points="441.0,351.4 435.2,349.7 438.3,350.3 444.0,352.0" fill="#2dddee" stroke="#1d909b" stroke-width="0.4"/>
<polygon points="461.3,356.3 455.6,355.0 458.4,355.4 464.2,356.7" fill="#2dccef" stroke="#1d849c" stroke-width="0.4"/>
<polygon points="446.8,353.0 441.0,351.4 444.0,352.0 449.8,353.6" fill="#2ddbee" stroke="#1d8e9b" stroke-width="0.4"/>
<polygon points="467.1,357.4 461.3,356.3 464.2,356.7 470.0,357.8" fill="#2dcbef" stroke="#1d849c" stroke-width="0.4"/>
<polygon points="452.6,354.4 446.8,353.0 449.8,353.6 455.6,355.0" fill="#2dd8ef" stroke="#1d8d9b" stroke-width="0.4"/>
<polygon points="472.9,358.3 467.1,357.4 470.0,357.8 475.7,358.7" fill="#2dcbef" stroke="#1d849c" stroke-width="0.4"/>
<polygon points="458.5,355.7 452.6,354.4 455.6,355.0 461.3,356.3" fill="#2dd7ef" stroke="#1d8c9b" stroke-width="0.4"/>
<polygon points="464.3,356.8 458.5,355.7 461.3,356.3 467.1,357.4" fill="#2dd6ef" stroke="#1d8b9b" stroke-width="0.4"/>
<polygon points="470.1,357.7 464.3,356.8 467.1,357.4 472.9,358.3" fill="#2dd6ef" stroke="#1d8b9b" stroke-width="0.4"/>
<path d="M440.1 325.8V330.8" stroke="#3a5a8a" stroke-width="0.45"/>
<circle cx="440.1" cy="325.8" r="1.65" fill="#c40000" stroke="#800" stroke-width="0.5"/>
<circle cx="351.2" cy="366.4" r="0.85" fill="#111"/>
<circle cx="350.3" cy="350.4" r="0.85" fill="#111"/>
<circle cx="349.5" cy="334.4" r="0.85" fill="#111"/>
<circle cx="348.6" cy="318.4" r="0.85" fill="#111"/>
<circle cx="347.7" cy="302.3" r="0.85" fill="#111"/>
<circle cx="346.9" cy="286.3" r="0.85" fill="#111"/>
<circle cx="346.0" cy="270.3" r="0.85" fill="#111"/>
<circle cx="352.8" cy="397.2" r="0.85" fill="#111"/>
<circle cx="376.0" cy="402.3" r="0.85" fill="#111"/>
<circle cx="399.3" cy="407.5" r="0.85" fill="#111"/>
<circle cx="422.8" cy="412.7" r="0.85" fill="#111"/>
<circle cx="446.4" cy="418.0" r="0.85" fill="#111"/>
<circle cx="470.3" cy="423.2" r="0.85" fill="#111"/>
<circle cx="470.3" cy="423.2" r="0.85" fill="#111"/>
<circle cx="484.0" cy="410.5" r="0.85" fill="#111"/>
<circle cx="497.0" cy="398.4" r="0.85" fill="#111"/>
<circle cx="509.3" cy="387.0" r="0.85" fill="#111"/>
<circle cx="520.9" cy="376.2" r="0.85" fill="#111"/>
<text x="345.0" y="368.9" text-anchor="middle" font-size="6.51" font-family="Liberation Serif, serif" font-weight="bold" fill="#1c2436" stroke="#1c2436" stroke-width="0.3" textLength="3.09" lengthAdjust="spacingAndGlyphs">1</text>
<text x="343.1" y="352.9" text-anchor="middle" font-size="6.51" font-family="Liberation Serif, serif" font-weight="bold" fill="#1c2436" stroke="#1c2436" stroke-width="0.3" textLength="7.73" lengthAdjust="spacingAndGlyphs">1.5</text>
<text x="343.3" y="336.8" text-anchor="middle" font-size="6.51" font-family="Liberation Serif, serif" font-weight="bold" fill="#1c2436" stroke="#1c2436" stroke-width="0.3" textLength="3.09" lengthAdjust="spacingAndGlyphs">2</text>
<text x="341.4" y="320.8" text-anchor="middle" font-size="6.51" font-family="Liberation Serif, serif" font-weight="bold" fill="#1c2436" stroke="#1c2436" stroke-width="0.3" textLength="7.73" lengthAdjust="spacingAndGlyphs">2.5</text>
<text x="341.6" y="304.8" text-anchor="middle" font-size="6.51" font-family="Liberation Serif, serif" font-weight="bold" fill="#1c2436" stroke="#1c2436" stroke-width="0.3" textLength="3.09" lengthAdjust="spacingAndGlyphs">3</text>
<text x="339.7" y="288.7" text-anchor="middle" font-size="6.51" font-family="Liberation Serif, serif" font-weight="bold" fill="#1c2436" stroke="#1c2436" stroke-width="0.3" textLength="7.73" lengthAdjust="spacingAndGlyphs">3.5</text>
<text x="339.9" y="272.7" text-anchor="middle" font-size="6.51" font-family="Liberation Serif, serif" font-weight="bold" fill="#1c2436" stroke="#1c2436" stroke-width="0.3" textLength="3.09" lengthAdjust="spacingAndGlyphs">4</text>
<text x="347.5" y="402.0" text-anchor="middle" font-size="7.40" font-family="Liberation Serif, serif" font-weight="bold" fill="#1c2436" stroke="#1c2436" stroke-width="0.3" textLength="8.79" lengthAdjust="spacingAndGlyphs">7.5</text>
<text x="371.5" y="408.3" text-anchor="middle" font-size="7.40" font-family="Liberation Serif, serif" font-weight="bold" fill="#1c2436" stroke="#1c2436" stroke-width="0.3" textLength="8.79" lengthAdjust="spacingAndGlyphs">7.3</text>
<text x="395.4" y="413.2" text-anchor="middle" font-size="7.40" font-family="Liberation Serif, serif" font-weight="bold" fill="#1c2436" stroke="#1c2436" stroke-width="0.3" textLength="8.79" lengthAdjust="spacingAndGlyphs">7.1</text>
<text x="418.2" y="418.3" text-anchor="middle" font-size="7.40" font-family="Liberation Serif, serif" font-weight="bold" fill="#1c2436" stroke="#1c2436" stroke-width="0.3" textLength="8.79" lengthAdjust="spacingAndGlyphs">6.9</text>
<text x="441.1" y="423.4" text-anchor="middle" font-size="7.40" font-family="Liberation Serif, serif" font-weight="bold" fill="#1c2436" stroke="#1c2436" stroke-width="0.3" textLength="8.79" lengthAdjust="spacingAndGlyphs">6.7</text>
<text x="464.2" y="429.7" text-anchor="middle" font-size="7.40" font-family="Liberation Serif, serif" font-weight="bold" fill="#1c2436" stroke="#1c2436" stroke-width="0.3" textLength="8.79" lengthAdjust="spacingAndGlyphs">6.5</text>
<text x="477.3" y="429.5" text-anchor="middle" font-size="7.40" font-family="Liberation Serif, serif" font-weight="bold" fill="#1c2436" stroke="#1c2436" stroke-width="0.3" textLength="10.54" lengthAdjust="spacingAndGlyphs">240</text>
<text x="488.5" y="416.6" text-anchor="middle" font-size="7.40" font-family="Liberation Serif, serif" font-weight="bold" fill="#1c2436" stroke="#1c2436" stroke-width="0.3" textLength="10.54" lengthAdjust="spacingAndGlyphs">245</text>
<text x="502.4" y="403.8" text-anchor="middle" font-size="7.40" font-family="Liberation Serif, serif" font-weight="bold" fill="#1c2436" stroke="#1c2436" stroke-width="0.3" textLength="10.54" lengthAdjust="spacingAndGlyphs">250</text>
<text x="514.3" y="391.9" text-anchor="middle" font-size="7.40" font-family="Liberation Serif, serif" font-weight="bold" fill="#1c2436" stroke="#1c2436" stroke-width="0.3" textLength="10.54" lengthAdjust="spacingAndGlyphs">255</text>
<text x="528.0" y="379.4" text-anchor="middle" font-size="7.40" font-family="Liberation Serif, serif" font-weight="bold" fill="#1c2436" stroke="#1c2436" stroke-width="0.3" textLength="10.54" lengthAdjust="spacingAndGlyphs">260</text>
<text x="395.3" y="432.7" transform="rotate(15.4 395.3 432.7)" text-anchor="middle" dominant-baseline="central" font-size="7.0" font-family="Liberation Serif, serif" font-weight="bold" fill="#1c2a48" stroke="#1c2a48" stroke-width="0.25" textLength="62" lengthAdjust="spacingAndGlyphs">Spray Distance (inch)</text>
<text x="520.7" y="412.3" transform="rotate(-48.5 520.7 412.3)" text-anchor="middle" dominant-baseline="central" font-size="7.0" font-family="Liberation Serif, serif" font-weight="bold" fill="#1c2a48" stroke="#1c2a48" stroke-width="0.25" textLength="67.6" lengthAdjust="spacingAndGlyphs">Oxygen Flow Rate (slpm)</text>
<text x="315.3" y="331" transform="rotate(-90 315.3 331)" text-anchor="middle" dominant-baseline="central" font-size="8.3" font-family="Liberation Serif, serif" font-weight="bold" fill="#223355" textLength="54" lengthAdjust="spacingAndGlyphs">Porosity (vol%)</text>
<text x="425.9" y="484.3" text-anchor="middle" font-size="15" font-family="Liberation Serif, serif" fill="#111">(<tspan font-weight="bold">d</tspan>)</text>
</svg></body></html>
